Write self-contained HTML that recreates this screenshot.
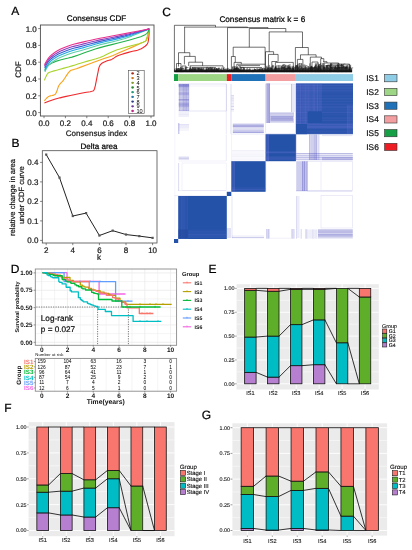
<!DOCTYPE html>
<html><head><meta charset="utf-8"><style>
html,body{margin:0;padding:0;background:#fff;width:412px;height:550px;overflow:hidden}
svg{display:block;font-family:"Liberation Sans",sans-serif;filter:blur(0.3px)}
</style></head><body>
<svg width="412" height="550" viewBox="0 0 412 550" text-rendering="geometricPrecision">
<rect width="412" height="550" fill="#fff"/>
<text x="11.3" y="15.4" font-size="12" text-anchor="start" fill="#000" font-weight="normal"  stroke="#000" stroke-width="0.22">A</text>
<text x="96.5" y="20.6" font-size="8.1" text-anchor="middle" fill="#000" font-weight="normal"  stroke="#000" stroke-width="0.22">Consensus CDF</text>
<rect x="40.4" y="25" width="113.6" height="91" fill="none" stroke="#4d4d4d" stroke-width="0.9" />
<line x1="38.2" y1="112.6" x2="40.4" y2="112.6" stroke="#4d4d4d" stroke-width="0.7" />
<text x="36.8" y="115.5" font-size="8" text-anchor="end" fill="#1a1a1a" font-weight="normal"  stroke="#1a1a1a" stroke-width="0.22">0.0</text>
<line x1="44" y1="116" x2="44" y2="118.2" stroke="#4d4d4d" stroke-width="0.7" />
<text x="44" y="126.1" font-size="8" text-anchor="middle" fill="#1a1a1a" font-weight="normal"  stroke="#1a1a1a" stroke-width="0.22">0.0</text>
<line x1="38.2" y1="95.8" x2="40.4" y2="95.8" stroke="#4d4d4d" stroke-width="0.7" />
<text x="36.8" y="98.7" font-size="8" text-anchor="end" fill="#1a1a1a" font-weight="normal"  stroke="#1a1a1a" stroke-width="0.22">0.2</text>
<line x1="65.4" y1="116" x2="65.4" y2="118.2" stroke="#4d4d4d" stroke-width="0.7" />
<text x="65.4" y="126.1" font-size="8" text-anchor="middle" fill="#1a1a1a" font-weight="normal"  stroke="#1a1a1a" stroke-width="0.22">0.2</text>
<line x1="38.2" y1="79" x2="40.4" y2="79" stroke="#4d4d4d" stroke-width="0.7" />
<text x="36.8" y="81.9" font-size="8" text-anchor="end" fill="#1a1a1a" font-weight="normal"  stroke="#1a1a1a" stroke-width="0.22">0.4</text>
<line x1="86.8" y1="116" x2="86.8" y2="118.2" stroke="#4d4d4d" stroke-width="0.7" />
<text x="86.8" y="126.1" font-size="8" text-anchor="middle" fill="#1a1a1a" font-weight="normal"  stroke="#1a1a1a" stroke-width="0.22">0.4</text>
<line x1="38.2" y1="62.2" x2="40.4" y2="62.2" stroke="#4d4d4d" stroke-width="0.7" />
<text x="36.8" y="65.1" font-size="8" text-anchor="end" fill="#1a1a1a" font-weight="normal"  stroke="#1a1a1a" stroke-width="0.22">0.6</text>
<line x1="108.2" y1="116" x2="108.2" y2="118.2" stroke="#4d4d4d" stroke-width="0.7" />
<text x="108.2" y="126.1" font-size="8" text-anchor="middle" fill="#1a1a1a" font-weight="normal"  stroke="#1a1a1a" stroke-width="0.22">0.6</text>
<line x1="38.2" y1="45.4" x2="40.4" y2="45.4" stroke="#4d4d4d" stroke-width="0.7" />
<text x="36.8" y="48.3" font-size="8" text-anchor="end" fill="#1a1a1a" font-weight="normal"  stroke="#1a1a1a" stroke-width="0.22">0.8</text>
<line x1="129.6" y1="116" x2="129.6" y2="118.2" stroke="#4d4d4d" stroke-width="0.7" />
<text x="129.6" y="126.1" font-size="8" text-anchor="middle" fill="#1a1a1a" font-weight="normal"  stroke="#1a1a1a" stroke-width="0.22">0.8</text>
<line x1="38.2" y1="28.6" x2="40.4" y2="28.6" stroke="#4d4d4d" stroke-width="0.7" />
<text x="36.8" y="31.5" font-size="8" text-anchor="end" fill="#1a1a1a" font-weight="normal"  stroke="#1a1a1a" stroke-width="0.22">1.0</text>
<line x1="151" y1="116" x2="151" y2="118.2" stroke="#4d4d4d" stroke-width="0.7" />
<text x="151" y="126.1" font-size="8" text-anchor="middle" fill="#1a1a1a" font-weight="normal"  stroke="#1a1a1a" stroke-width="0.22">1.0</text>
<text transform="translate(20.5,69.5) rotate(-90)" font-size="8" text-anchor="middle" fill="#1a1a1a" font-weight="normal" stroke="#1a1a1a" stroke-width="0.22">CDF</text>
<text x="96.5" y="135.5" font-size="8" text-anchor="middle" fill="#1a1a1a" font-weight="normal"  stroke="#1a1a1a" stroke-width="0.22">Consensus index</text>
<polyline points="44.4,103 46.2,102.32 48.77,101.33 51.71,100.26 54.6,99.3 57.26,98.54 59.94,97.84 62.85,97.16 66.2,96.4 70.38,95.5 75.17,94.51 79.85,93.57 83.7,92.8 86.49,92.31 88.61,92 90.28,91.72 91.7,91.3 92.78,90.95 93.47,90.67 93.99,90.01 94.6,88.5 95.33,85.7 96.07,81.98 96.8,78.03 97.5,74.6 98.08,71.77 98.58,69.18 99.18,66.91 100.1,65 101.48,63.55 103.19,62.5 104.97,61.7 106.6,61 107.96,60.49 109.2,60.19 110.44,59.91 111.8,59.4 113.18,58.59 114.55,57.6 116.17,56.54 118.3,55.5 121.26,54.46 124.82,53.38 128.42,52.35 131.5,51.5 133.84,50.94 135.78,50.59 137.52,50.22 139.3,49.6 141.26,48.66 143.26,47.51 145.08,46.26 146.5,45 147.39,43.85 147.9,42.74 148.21,41.43 148.5,39.7 148.8,37.13 149.03,33.97 149.18,30.97 149.3,28.9" fill="none" stroke="#f0282a" stroke-width="1.1" stroke-linejoin="round" />
<polyline points="44.4,100.8 45.12,99.96 46.14,98.74 47.36,97.45 48.7,96.4 50.26,95.85 52.04,95.57 53.81,95.16 55.3,94.2 56.39,92.4 57.24,90.03 58.01,87.57 58.9,85.5 59.89,84.07 60.92,82.98 62.03,81.88 63.3,80.4 64.77,78.23 66.41,75.64 68.12,73.13 69.8,71.2 71.04,70.25 72.03,69.92 73.55,69.6 76.4,68.7 81.35,66.86 87.8,64.48 94.45,62.03 100,60 104.09,58.57 107.41,57.46 110.28,56.49 113,55.5 115.25,54.59 117,53.79 119,52.85 122,51.5 126.8,49.44 132.8,46.88 138.65,44.34 143,42.3 145.28,41.13 146.28,40.48 146.69,39.82 147.2,38.6 147.92,36.37 148.51,33.52 148.97,30.78 149.3,28.9" fill="none" stroke="#f9a21b" stroke-width="1.1" stroke-linejoin="round" />
<polyline points="44.4,80.4 44.75,79.52 45.24,78.25 45.81,76.88 46.4,75.7 46.89,74.77 47.35,73.95 47.98,73.2 49,72.5 50.37,71.91 52,71.42 54.03,70.89 56.6,70.2 59.99,69.25 64.04,68.14 68.23,66.98 72,65.9 75.08,64.96 77.79,64.08 80.54,63.19 83.7,62.2 87.53,61.1 91.77,59.94 96.05,58.7 100,57.4 103.57,55.94 106.94,54.36 110.09,52.82 113,51.5 115.31,50.55 117.16,49.85 119.25,49.15 122.3,48.2 127.12,46.86 133.12,45.29 138.94,43.7 143.2,42.3 145.27,41.32 145.98,40.57 146.12,39.72 146.5,38.4 147.3,36.2 148.11,33.41 148.81,30.74 149.3,28.9" fill="none" stroke="#a9d42c" stroke-width="1.1" stroke-linejoin="round" />
<polyline points="45.2,71.5 45.2,70.63 45.16,69.39 45.44,67.98 46.4,66.6 48.2,65.23 50.61,63.79 53.47,62.38 56.6,61.1 60.17,59.99 64.21,59.01 68.29,58.06 72,57.1 75.08,56.14 77.79,55.19 80.54,54.21 83.7,53.1 87.27,51.84 91.08,50.48 95.28,49.05 100,47.6 105.54,46.12 111.73,44.61 118.06,43.06 124,41.5 129.76,39.92 135.51,38.31 140.65,36.69 144.6,35.1 147,33.39 148.24,31.6 148.83,30.01 149.3,28.9" fill="none" stroke="#22b24c" stroke-width="1.1" stroke-linejoin="round" />
<polyline points="44.9,71.5 45.62,70.2 46.64,68.33 47.89,66.29 49.3,64.5 50.92,63.03 52.77,61.67 54.71,60.42 56.6,59.3 58.38,58.33 60.14,57.51 61.93,56.76 63.8,56 65.7,55.23 67.62,54.49 69.68,53.76 72,53 74.57,52.26 77.34,51.52 80.37,50.73 83.7,49.8 87.25,48.71 91.02,47.49 95.21,46.18 100,44.8 105.65,43.39 112,41.94 118.6,40.34 125,38.5 131.69,36.11 138.71,33.31 144.95,30.7 149.3,28.9" fill="none" stroke="#5cd0a8" stroke-width="1.1" stroke-linejoin="round" />
<polyline points="44.8,70.5 45.54,69 46.59,66.84 47.87,64.51 49.3,62.5 50.93,60.9 52.78,59.46 54.72,58.16 56.6,57 58.38,56.01 60.14,55.19 61.93,54.45 63.8,53.7 65.7,52.95 67.62,52.24 69.68,51.54 72,50.8 74.57,50.06 77.34,49.31 80.37,48.51 83.7,47.6 87.25,46.56 91.02,45.42 95.21,44.19 100,42.9 105.65,41.56 112,40.16 118.6,38.66 125,37 131.69,34.94 138.71,32.58 144.95,30.41 149.3,28.9" fill="none" stroke="#22a8e6" stroke-width="1.1" stroke-linejoin="round" />
<polyline points="44.6,67.8 45.38,66.44 46.49,64.49 47.83,62.36 49.3,60.5 50.94,58.97 52.79,57.56 54.72,56.26 56.6,55.1 58.38,54.1 60.14,53.24 61.93,52.47 63.8,51.7 65.7,50.94 67.62,50.23 69.68,49.52 72,48.8 74.57,48.09 77.34,47.39 80.37,46.65 83.7,45.8 87.25,44.82 91.02,43.76 95.21,42.61 100,41.4 105.65,40.14 112,38.81 118.6,37.41 125,35.9 131.69,34.09 138.71,32.06 144.95,30.19 149.3,28.9" fill="none" stroke="#3a5fd0" stroke-width="1.1" stroke-linejoin="round" />
<polyline points="44.5,66.2 45.3,64.83 46.44,62.85 47.81,60.7 49.3,58.8 50.95,57.22 52.8,55.76 54.72,54.41 56.6,53.2 58.38,52.16 60.14,51.28 61.93,50.48 63.8,49.7 65.7,48.93 67.62,48.21 69.68,47.51 72,46.8 74.57,46.1 77.34,45.42 80.37,44.7 83.7,43.9 87.25,43 91.02,42.04 95.21,41 100,39.9 105.65,38.72 112,37.47 118.6,36.16 125,34.8 131.69,33.24 138.71,31.53 144.95,29.98 149.3,28.9" fill="none" stroke="#8b3fbf" stroke-width="1.1" stroke-linejoin="round" />
<polyline points="44.5,64.8 45.3,63.37 46.44,61.31 47.81,59.07 49.3,57.1 50.95,55.46 52.8,53.94 54.72,52.55 56.6,51.3 58.38,50.23 60.14,49.32 61.93,48.51 63.8,47.7 65.7,46.9 67.62,46.15 69.68,45.42 72,44.7 74.57,44 77.34,43.34 80.37,42.65 83.7,41.9 87.25,41.08 91.02,40.22 95.21,39.3 100,38.3 105.65,37.2 112,36.02 118.6,34.8 125,33.6 131.69,32.31 138.71,30.96 144.95,29.74 149.3,28.9" fill="none" stroke="#e8308e" stroke-width="1.1" stroke-linejoin="round" />
<rect x="128.3" y="70.5" width="15.9" height="43.1" fill="#fff" stroke="#4d4d4d" stroke-width="0.6" />
<ellipse cx="132.6" cy="73.4" rx="1.4" ry="1.15" fill="#a52a1a"/>
<text x="136.4" y="75.4" font-size="5.6" text-anchor="start" fill="#000" font-weight="normal" text-rendering="optimizeSpeed">2</text>
<ellipse cx="132.6" cy="78.1" rx="1.4" ry="1.15" fill="#c8781a"/>
<text x="136.4" y="80.1" font-size="5.6" text-anchor="start" fill="#000" font-weight="normal" text-rendering="optimizeSpeed">3</text>
<ellipse cx="132.6" cy="82.8" rx="1.4" ry="1.15" fill="#7f9a28"/>
<text x="136.4" y="84.8" font-size="5.6" text-anchor="start" fill="#000" font-weight="normal" text-rendering="optimizeSpeed">4</text>
<ellipse cx="132.6" cy="87.5" rx="1.4" ry="1.15" fill="#2a8a38"/>
<text x="136.4" y="89.5" font-size="5.6" text-anchor="start" fill="#000" font-weight="normal" text-rendering="optimizeSpeed">5</text>
<ellipse cx="132.6" cy="92.2" rx="1.4" ry="1.15" fill="#2a9a7a"/>
<text x="136.4" y="94.2" font-size="5.6" text-anchor="start" fill="#000" font-weight="normal" text-rendering="optimizeSpeed">6</text>
<ellipse cx="132.6" cy="96.9" rx="1.4" ry="1.15" fill="#2a78a8"/>
<text x="136.4" y="98.9" font-size="5.6" text-anchor="start" fill="#000" font-weight="normal" text-rendering="optimizeSpeed">7</text>
<ellipse cx="132.6" cy="101.6" rx="1.4" ry="1.15" fill="#283c88"/>
<text x="136.4" y="103.6" font-size="5.6" text-anchor="start" fill="#000" font-weight="normal" text-rendering="optimizeSpeed">8</text>
<ellipse cx="132.6" cy="106.3" rx="1.4" ry="1.15" fill="#6a3a98"/>
<text x="136.4" y="108.3" font-size="5.6" text-anchor="start" fill="#000" font-weight="normal" text-rendering="optimizeSpeed">9</text>
<ellipse cx="132.6" cy="111" rx="1.4" ry="1.15" fill="#c02888"/>
<text x="136.4" y="113" font-size="5.6" text-anchor="start" fill="#000" font-weight="normal" text-rendering="optimizeSpeed">10</text>
<text x="11.6" y="147.2" font-size="12" text-anchor="start" fill="#000" font-weight="normal"  stroke="#000" stroke-width="0.22">B</text>
<text x="99" y="148.9" font-size="8" text-anchor="middle" fill="#000" font-weight="normal"  stroke="#000" stroke-width="0.22">Delta area</text>
<rect x="42.3" y="150.7" width="114.7" height="92.3" fill="none" stroke="#4d4d4d" stroke-width="0.8" />
<line x1="40.1" y1="240.4" x2="42.3" y2="240.4" stroke="#4d4d4d" stroke-width="0.7" />
<text x="38.4" y="243.3" font-size="8" text-anchor="end" fill="#1a1a1a" font-weight="normal"  stroke="#1a1a1a" stroke-width="0.22">0.0</text>
<line x1="40.1" y1="220.9" x2="42.3" y2="220.9" stroke="#4d4d4d" stroke-width="0.7" />
<text x="38.4" y="223.8" font-size="8" text-anchor="end" fill="#1a1a1a" font-weight="normal"  stroke="#1a1a1a" stroke-width="0.22">0.1</text>
<line x1="40.1" y1="201.4" x2="42.3" y2="201.4" stroke="#4d4d4d" stroke-width="0.7" />
<text x="38.4" y="204.3" font-size="8" text-anchor="end" fill="#1a1a1a" font-weight="normal"  stroke="#1a1a1a" stroke-width="0.22">0.2</text>
<line x1="40.1" y1="181.9" x2="42.3" y2="181.9" stroke="#4d4d4d" stroke-width="0.7" />
<text x="38.4" y="184.8" font-size="8" text-anchor="end" fill="#1a1a1a" font-weight="normal"  stroke="#1a1a1a" stroke-width="0.22">0.3</text>
<line x1="40.1" y1="162.4" x2="42.3" y2="162.4" stroke="#4d4d4d" stroke-width="0.7" />
<text x="38.4" y="165.3" font-size="8" text-anchor="end" fill="#1a1a1a" font-weight="normal"  stroke="#1a1a1a" stroke-width="0.22">0.4</text>
<line x1="46.2" y1="243" x2="46.2" y2="245.2" stroke="#4d4d4d" stroke-width="0.7" />
<text x="46.2" y="252.6" font-size="8" text-anchor="middle" fill="#1a1a1a" font-weight="normal"  stroke="#1a1a1a" stroke-width="0.22">2</text>
<line x1="72.8" y1="243" x2="72.8" y2="245.2" stroke="#4d4d4d" stroke-width="0.7" />
<text x="72.8" y="252.6" font-size="8" text-anchor="middle" fill="#1a1a1a" font-weight="normal"  stroke="#1a1a1a" stroke-width="0.22">4</text>
<line x1="99.4" y1="243" x2="99.4" y2="245.2" stroke="#4d4d4d" stroke-width="0.7" />
<text x="99.4" y="252.6" font-size="8" text-anchor="middle" fill="#1a1a1a" font-weight="normal"  stroke="#1a1a1a" stroke-width="0.22">6</text>
<line x1="126" y1="243" x2="126" y2="245.2" stroke="#4d4d4d" stroke-width="0.7" />
<text x="126" y="252.6" font-size="8" text-anchor="middle" fill="#1a1a1a" font-weight="normal"  stroke="#1a1a1a" stroke-width="0.22">8</text>
<line x1="152.6" y1="243" x2="152.6" y2="245.2" stroke="#4d4d4d" stroke-width="0.7" />
<text x="152.6" y="252.6" font-size="8" text-anchor="middle" fill="#1a1a1a" font-weight="normal"  stroke="#1a1a1a" stroke-width="0.22">10</text>
<polyline points="46.2,154.6 59.5,177.61 72.8,216.03 86.1,213.1 99.4,235.53 112.7,230.65 126,234.55 139.3,236.11 152.6,237.87" fill="none" stroke="#222" stroke-width="1" stroke-linejoin="round" />
<rect x="45.1" y="153.5" width="2.2" height="2.2" fill="#555"/>
<rect x="58.4" y="176.51" width="2.2" height="2.2" fill="#555"/>
<rect x="71.7" y="214.93" width="2.2" height="2.2" fill="#555"/>
<rect x="85" y="212" width="2.2" height="2.2" fill="#555"/>
<rect x="98.3" y="234.43" width="2.2" height="2.2" fill="#555"/>
<rect x="111.6" y="229.55" width="2.2" height="2.2" fill="#555"/>
<rect x="124.9" y="233.45" width="2.2" height="2.2" fill="#555"/>
<rect x="138.2" y="235.01" width="2.2" height="2.2" fill="#555"/>
<rect x="151.5" y="236.77" width="2.2" height="2.2" fill="#555"/>
<text transform="translate(15.2,197.5) rotate(-90)" font-size="7.6" text-anchor="middle" fill="#1a1a1a" font-weight="normal" stroke="#1a1a1a" stroke-width="0.22">relative change in area</text>
<text transform="translate(23.6,195.2) rotate(-90)" font-size="7.6" text-anchor="middle" fill="#1a1a1a" font-weight="normal" stroke="#1a1a1a" stroke-width="0.22">under CDF curve</text>
<text x="99" y="260" font-size="8" text-anchor="middle" fill="#1a1a1a" font-weight="normal"  stroke="#1a1a1a" stroke-width="0.22">k</text>
<text x="162.3" y="15.5" font-size="12" text-anchor="start" fill="#000" font-weight="normal"  stroke="#000" stroke-width="0.22">C</text>
<text x="262.3" y="21.8" font-size="8.2" text-anchor="middle" fill="#000" font-weight="normal"  stroke="#000" stroke-width="0.22">Consensus matrix k = 6</text>
<rect x="174" y="239" width="4.2" height="4" fill="#2452a8" stroke="none" stroke-width="0.5" />
<rect x="178.2" y="196" width="48.6" height="43" fill="#2452a8" stroke="none" stroke-width="0.5" />
<rect x="226.8" y="191.8" width="4.5" height="4.2" fill="#2452a8" stroke="none" stroke-width="0.5" />
<rect x="231.3" y="161.2" width="34.3" height="30.6" fill="#2452a8" stroke="none" stroke-width="0.5" />
<rect x="265.6" y="134.2" width="30.3" height="27" fill="#2452a8" stroke="none" stroke-width="0.5" />
<rect x="295.9" y="83.4" width="57.1" height="50.8" fill="#2452a8" stroke="none" stroke-width="0.5" />
<rect x="178.2" y="196" width="1.07" height="43" fill="#7c7ce0" stroke="none" stroke-width="0.5" fill-opacity="0.11"/>
<rect x="179.63" y="196" width="1.07" height="43" fill="#7c7ce0" stroke="none" stroke-width="0.5" fill-opacity="0.13"/>
<rect x="181.06" y="196" width="1.07" height="43" fill="#7c7ce0" stroke="none" stroke-width="0.5" fill-opacity="0.2"/>
<rect x="182.49" y="196" width="1.07" height="43" fill="#7c7ce0" stroke="none" stroke-width="0.5" fill-opacity="0.26"/>
<rect x="183.91" y="196" width="1.07" height="43" fill="#7c7ce0" stroke="none" stroke-width="0.5" fill-opacity="0.14"/>
<rect x="185.34" y="196" width="1.07" height="43" fill="#7c7ce0" stroke="none" stroke-width="0.5" fill-opacity="0.13"/>
<rect x="186.77" y="196" width="1.07" height="43" fill="#7c7ce0" stroke="none" stroke-width="0.5" fill-opacity="0.16"/>
<rect x="188.2" y="229.5" width="38.6" height="1.06" fill="#7c7ce0" stroke="none" stroke-width="0.5" fill-opacity="0.1"/>
<rect x="188.2" y="230.92" width="38.6" height="1.06" fill="#7c7ce0" stroke="none" stroke-width="0.5" fill-opacity="0.13"/>
<rect x="188.2" y="232.33" width="38.6" height="1.06" fill="#7c7ce0" stroke="none" stroke-width="0.5" fill-opacity="0.14"/>
<rect x="188.2" y="233.75" width="38.6" height="1.06" fill="#7c7ce0" stroke="none" stroke-width="0.5" fill-opacity="0.25"/>
<rect x="188.2" y="235.17" width="38.6" height="1.06" fill="#7c7ce0" stroke="none" stroke-width="0.5" fill-opacity="0.18"/>
<rect x="188.2" y="236.58" width="38.6" height="1.06" fill="#7c7ce0" stroke="none" stroke-width="0.5" fill-opacity="0.22"/>
<rect x="178.2" y="229.5" width="10" height="8.5" fill="#1d3f95" stroke="none" stroke-width="0.5" fill-opacity="0.4"/>
<rect x="231.3" y="161.2" width="0.92" height="30.6" fill="#7c7ce0" stroke="none" stroke-width="0.5" fill-opacity="0.32"/>
<rect x="232.53" y="161.2" width="0.92" height="30.6" fill="#7c7ce0" stroke="none" stroke-width="0.5" fill-opacity="0.34"/>
<rect x="233.77" y="161.2" width="0.92" height="30.6" fill="#7c7ce0" stroke="none" stroke-width="0.5" fill-opacity="0.4"/>
<rect x="231.3" y="187.5" width="34.3" height="1.12" fill="#7c7ce0" stroke="none" stroke-width="0.5" fill-opacity="0.16"/>
<rect x="231.3" y="189" width="34.3" height="1.12" fill="#7c7ce0" stroke="none" stroke-width="0.5" fill-opacity="0.23"/>
<rect x="265.6" y="134.2" width="0.85" height="27" fill="#7c7ce0" stroke="none" stroke-width="0.5" fill-opacity="0.36"/>
<rect x="266.73" y="134.2" width="0.85" height="27" fill="#7c7ce0" stroke="none" stroke-width="0.5" fill-opacity="0.38"/>
<rect x="267.87" y="134.2" width="0.85" height="27" fill="#7c7ce0" stroke="none" stroke-width="0.5" fill-opacity="0.47"/>
<rect x="265.6" y="151.6" width="30.3" height="0.68" fill="#7c7ce0" stroke="none" stroke-width="0.5" fill-opacity="0.42"/>
<rect x="265.6" y="152.5" width="30.3" height="0.68" fill="#7c7ce0" stroke="none" stroke-width="0.5" fill-opacity="0.41"/>
<rect x="265.6" y="156.5" width="30.3" height="0.88" fill="#7c7ce0" stroke="none" stroke-width="0.5" fill-opacity="0.22"/>
<rect x="265.6" y="157.67" width="30.3" height="0.88" fill="#7c7ce0" stroke="none" stroke-width="0.5" fill-opacity="0.36"/>
<rect x="265.6" y="158.83" width="30.3" height="0.88" fill="#7c7ce0" stroke="none" stroke-width="0.5" fill-opacity="0.23"/>
<rect x="296" y="83.4" width="0.98" height="40.6" fill="#7c7ce0" stroke="none" stroke-width="0.5" fill-opacity="0.29"/>
<rect x="297.3" y="83.4" width="0.98" height="40.6" fill="#7c7ce0" stroke="none" stroke-width="0.5" fill-opacity="0.35"/>
<rect x="298.6" y="83.4" width="0.98" height="40.6" fill="#7c7ce0" stroke="none" stroke-width="0.5" fill-opacity="0.35"/>
<rect x="299.9" y="83.4" width="0.98" height="40.6" fill="#7c7ce0" stroke="none" stroke-width="0.5" fill-opacity="0.38"/>
<rect x="301.2" y="83.4" width="0.98" height="40.6" fill="#7c7ce0" stroke="none" stroke-width="0.5" fill-opacity="0.22"/>
<rect x="302.5" y="83.4" width="0.98" height="40.6" fill="#7c7ce0" stroke="none" stroke-width="0.5" fill-opacity="0.41"/>
<rect x="303.8" y="83.4" width="0.98" height="40.6" fill="#7c7ce0" stroke="none" stroke-width="0.5" fill-opacity="0.3"/>
<rect x="305.1" y="83.4" width="0.98" height="40.6" fill="#7c7ce0" stroke="none" stroke-width="0.5" fill-opacity="0.35"/>
<rect x="306.4" y="83.4" width="0.98" height="40.6" fill="#7c7ce0" stroke="none" stroke-width="0.5" fill-opacity="0.35"/>
<rect x="307.7" y="83.4" width="0.98" height="40.6" fill="#7c7ce0" stroke="none" stroke-width="0.5" fill-opacity="0.4"/>
<rect x="309" y="83.4" width="0.98" height="40.6" fill="#7c7ce0" stroke="none" stroke-width="0.5" fill-opacity="0.22"/>
<rect x="310.3" y="83.4" width="0.98" height="40.6" fill="#7c7ce0" stroke="none" stroke-width="0.5" fill-opacity="0.24"/>
<rect x="311.6" y="83.4" width="0.98" height="40.6" fill="#7c7ce0" stroke="none" stroke-width="0.5" fill-opacity="0.34"/>
<rect x="312.9" y="83.4" width="0.98" height="40.6" fill="#7c7ce0" stroke="none" stroke-width="0.5" fill-opacity="0.3"/>
<rect x="314.2" y="83.4" width="0.98" height="40.6" fill="#7c7ce0" stroke="none" stroke-width="0.5" fill-opacity="0.35"/>
<rect x="315.5" y="83.4" width="0.98" height="40.6" fill="#7c7ce0" stroke="none" stroke-width="0.5" fill-opacity="0.24"/>
<rect x="316.8" y="83.4" width="0.98" height="40.6" fill="#7c7ce0" stroke="none" stroke-width="0.5" fill-opacity="0.41"/>
<rect x="318.1" y="83.4" width="0.98" height="40.6" fill="#7c7ce0" stroke="none" stroke-width="0.5" fill-opacity="0.14"/>
<rect x="319.4" y="83.4" width="0.98" height="40.6" fill="#7c7ce0" stroke="none" stroke-width="0.5" fill-opacity="0.34"/>
<rect x="320.7" y="83.4" width="0.98" height="40.6" fill="#7c7ce0" stroke="none" stroke-width="0.5" fill-opacity="0.24"/>
<rect x="296" y="83.4" width="57" height="1.19" fill="#7c7ce0" stroke="none" stroke-width="0.5" fill-opacity="0.13"/>
<rect x="296" y="84.99" width="57" height="1.19" fill="#7c7ce0" stroke="none" stroke-width="0.5" fill-opacity="0.24"/>
<rect x="296" y="86.58" width="57" height="1.19" fill="#7c7ce0" stroke="none" stroke-width="0.5" fill-opacity="0.23"/>
<rect x="296" y="88.16" width="57" height="1.19" fill="#7c7ce0" stroke="none" stroke-width="0.5" fill-opacity="0.23"/>
<rect x="296" y="89.75" width="57" height="1.19" fill="#7c7ce0" stroke="none" stroke-width="0.5" fill-opacity="0.21"/>
<rect x="296" y="91.34" width="57" height="1.19" fill="#7c7ce0" stroke="none" stroke-width="0.5" fill-opacity="0.22"/>
<rect x="296" y="92.92" width="57" height="1.19" fill="#7c7ce0" stroke="none" stroke-width="0.5" fill-opacity="0.08"/>
<rect x="296" y="94.51" width="57" height="1.19" fill="#7c7ce0" stroke="none" stroke-width="0.5" fill-opacity="0.18"/>
<rect x="296" y="96.1" width="57" height="1.19" fill="#7c7ce0" stroke="none" stroke-width="0.5" fill-opacity="0.12"/>
<rect x="296" y="97.69" width="57" height="1.19" fill="#7c7ce0" stroke="none" stroke-width="0.5" fill-opacity="0.2"/>
<rect x="296" y="99.28" width="57" height="1.19" fill="#7c7ce0" stroke="none" stroke-width="0.5" fill-opacity="0.15"/>
<rect x="296" y="100.86" width="57" height="1.19" fill="#7c7ce0" stroke="none" stroke-width="0.5" fill-opacity="0.17"/>
<rect x="296" y="102.45" width="57" height="1.19" fill="#7c7ce0" stroke="none" stroke-width="0.5" fill-opacity="0.17"/>
<rect x="296" y="104.04" width="57" height="1.19" fill="#7c7ce0" stroke="none" stroke-width="0.5" fill-opacity="0.17"/>
<rect x="296" y="105.62" width="57" height="1.19" fill="#7c7ce0" stroke="none" stroke-width="0.5" fill-opacity="0.21"/>
<rect x="296" y="107.21" width="57" height="1.19" fill="#7c7ce0" stroke="none" stroke-width="0.5" fill-opacity="0.24"/>
<rect x="296" y="108.8" width="57" height="1.19" fill="#7c7ce0" stroke="none" stroke-width="0.5" fill-opacity="0.14"/>
<rect x="296" y="110.39" width="57" height="1.19" fill="#7c7ce0" stroke="none" stroke-width="0.5" fill-opacity="0.21"/>
<rect x="296" y="111.97" width="57" height="1.19" fill="#7c7ce0" stroke="none" stroke-width="0.5" fill-opacity="0.22"/>
<rect x="296" y="113.56" width="57" height="1.19" fill="#7c7ce0" stroke="none" stroke-width="0.5" fill-opacity="0.14"/>
<rect x="296" y="115.15" width="57" height="1.19" fill="#7c7ce0" stroke="none" stroke-width="0.5" fill-opacity="0.1"/>
<rect x="296" y="116.74" width="57" height="1.19" fill="#7c7ce0" stroke="none" stroke-width="0.5" fill-opacity="0.16"/>
<rect x="296" y="118.32" width="57" height="1.19" fill="#7c7ce0" stroke="none" stroke-width="0.5" fill-opacity="0.2"/>
<rect x="296" y="119.91" width="57" height="1.19" fill="#7c7ce0" stroke="none" stroke-width="0.5" fill-opacity="0.16"/>
<rect x="296" y="121.5" width="57" height="1.19" fill="#7c7ce0" stroke="none" stroke-width="0.5" fill-opacity="0.11"/>
<rect x="296" y="123.09" width="57" height="1.19" fill="#7c7ce0" stroke="none" stroke-width="0.5" fill-opacity="0.19"/>
<rect x="296" y="124.67" width="57" height="1.19" fill="#7c7ce0" stroke="none" stroke-width="0.5" fill-opacity="0.13"/>
<rect x="296" y="126.26" width="57" height="1.19" fill="#7c7ce0" stroke="none" stroke-width="0.5" fill-opacity="0.22"/>
<rect x="296" y="127.85" width="57" height="1.19" fill="#7c7ce0" stroke="none" stroke-width="0.5" fill-opacity="0.11"/>
<rect x="296" y="129.44" width="57" height="1.19" fill="#7c7ce0" stroke="none" stroke-width="0.5" fill-opacity="0.18"/>
<rect x="296" y="131.02" width="57" height="1.19" fill="#7c7ce0" stroke="none" stroke-width="0.5" fill-opacity="0.14"/>
<rect x="296" y="132.61" width="57" height="1.19" fill="#7c7ce0" stroke="none" stroke-width="0.5" fill-opacity="0.24"/>
<rect x="307" y="124" width="46" height="0.84" fill="#7c7ce0" stroke="none" stroke-width="0.5" fill-opacity="0.35"/>
<rect x="307" y="125.12" width="46" height="0.84" fill="#7c7ce0" stroke="none" stroke-width="0.5" fill-opacity="0.18"/>
<rect x="307" y="126.25" width="46" height="0.84" fill="#7c7ce0" stroke="none" stroke-width="0.5" fill-opacity="0.34"/>
<rect x="307" y="127.38" width="46" height="0.84" fill="#7c7ce0" stroke="none" stroke-width="0.5" fill-opacity="0.4"/>
<rect x="347" y="105" width="0.9" height="29" fill="#7c7ce0" stroke="none" stroke-width="0.5" fill-opacity="0.23"/>
<rect x="348.2" y="105" width="0.9" height="29" fill="#7c7ce0" stroke="none" stroke-width="0.5" fill-opacity="0.19"/>
<rect x="349.4" y="105" width="0.9" height="29" fill="#7c7ce0" stroke="none" stroke-width="0.5" fill-opacity="0.24"/>
<rect x="350.6" y="105" width="0.9" height="29" fill="#7c7ce0" stroke="none" stroke-width="0.5" fill-opacity="0.11"/>
<rect x="351.8" y="105" width="0.9" height="29" fill="#7c7ce0" stroke="none" stroke-width="0.5" fill-opacity="0.24"/>
<rect x="307.6" y="111.3" width="14.4" height="12" fill="#2452a8" stroke="none" stroke-width="0.5" />
<rect x="296" y="124" width="11" height="10.2" fill="#2452a8" stroke="none" stroke-width="0.5" fill-opacity="0.8"/>
<rect x="178.6" y="83.6" width="10.4" height="0.89" fill="#3a3ab8" stroke="none" stroke-width="0.5" fill-opacity="0.32"/>
<rect x="178.6" y="84.79" width="10.4" height="0.89" fill="#3a3ab8" stroke="none" stroke-width="0.5" fill-opacity="0.36"/>
<rect x="178.6" y="85.98" width="10.4" height="0.89" fill="#3a3ab8" stroke="none" stroke-width="0.5" fill-opacity="0.48"/>
<rect x="178.6" y="87.17" width="10.4" height="0.89" fill="#3a3ab8" stroke="none" stroke-width="0.5" fill-opacity="0.33"/>
<rect x="178.6" y="88.37" width="10.4" height="0.89" fill="#3a3ab8" stroke="none" stroke-width="0.5" fill-opacity="0.34"/>
<rect x="178.6" y="89.56" width="10.4" height="0.89" fill="#3a3ab8" stroke="none" stroke-width="0.5" fill-opacity="0.37"/>
<rect x="178.6" y="90.75" width="10.4" height="0.89" fill="#3a3ab8" stroke="none" stroke-width="0.5" fill-opacity="0.23"/>
<rect x="178.6" y="91.94" width="10.4" height="0.89" fill="#3a3ab8" stroke="none" stroke-width="0.5" fill-opacity="0.34"/>
<rect x="178.6" y="93.13" width="10.4" height="0.89" fill="#3a3ab8" stroke="none" stroke-width="0.5" fill-opacity="0.38"/>
<rect x="178.6" y="94.32" width="10.4" height="0.89" fill="#3a3ab8" stroke="none" stroke-width="0.5" fill-opacity="0.44"/>
<rect x="178.6" y="95.51" width="10.4" height="0.89" fill="#3a3ab8" stroke="none" stroke-width="0.5" fill-opacity="0.2"/>
<rect x="178.6" y="96.7" width="10.4" height="0.89" fill="#3a3ab8" stroke="none" stroke-width="0.5" fill-opacity="0.27"/>
<rect x="178.6" y="97.9" width="10.4" height="0.89" fill="#3a3ab8" stroke="none" stroke-width="0.5" fill-opacity="0.2"/>
<rect x="178.6" y="99.09" width="10.4" height="0.89" fill="#3a3ab8" stroke="none" stroke-width="0.5" fill-opacity="0.45"/>
<rect x="178.6" y="100.28" width="10.4" height="0.89" fill="#3a3ab8" stroke="none" stroke-width="0.5" fill-opacity="0.41"/>
<rect x="178.6" y="101.47" width="10.4" height="0.89" fill="#3a3ab8" stroke="none" stroke-width="0.5" fill-opacity="0.18"/>
<rect x="178.6" y="102.66" width="10.4" height="0.89" fill="#3a3ab8" stroke="none" stroke-width="0.5" fill-opacity="0.5"/>
<rect x="178.6" y="103.85" width="10.4" height="0.89" fill="#3a3ab8" stroke="none" stroke-width="0.5" fill-opacity="0.5"/>
<rect x="178.6" y="105.04" width="10.4" height="0.89" fill="#3a3ab8" stroke="none" stroke-width="0.5" fill-opacity="0.39"/>
<rect x="178.6" y="106.23" width="10.4" height="0.89" fill="#3a3ab8" stroke="none" stroke-width="0.5" fill-opacity="0.38"/>
<rect x="178.6" y="107.43" width="10.4" height="0.89" fill="#3a3ab8" stroke="none" stroke-width="0.5" fill-opacity="0.22"/>
<rect x="178.6" y="108.62" width="10.4" height="0.89" fill="#3a3ab8" stroke="none" stroke-width="0.5" fill-opacity="0.18"/>
<rect x="178.6" y="109.81" width="10.4" height="0.89" fill="#3a3ab8" stroke="none" stroke-width="0.5" fill-opacity="0.35"/>
<rect x="179" y="84" width="1.07" height="27" fill="#3a3ab8" stroke="none" stroke-width="0.5" fill-opacity="0.22"/>
<rect x="180.43" y="84" width="1.07" height="27" fill="#3a3ab8" stroke="none" stroke-width="0.5" fill-opacity="0.18"/>
<rect x="181.86" y="84" width="1.07" height="27" fill="#3a3ab8" stroke="none" stroke-width="0.5" fill-opacity="0.17"/>
<rect x="183.29" y="84" width="1.07" height="27" fill="#3a3ab8" stroke="none" stroke-width="0.5" fill-opacity="0.35"/>
<rect x="184.71" y="84" width="1.07" height="27" fill="#3a3ab8" stroke="none" stroke-width="0.5" fill-opacity="0.27"/>
<rect x="186.14" y="84" width="1.07" height="27" fill="#3a3ab8" stroke="none" stroke-width="0.5" fill-opacity="0.3"/>
<rect x="187.57" y="84" width="1.07" height="27" fill="#3a3ab8" stroke="none" stroke-width="0.5" fill-opacity="0.26"/>
<rect x="189" y="84" width="37.5" height="27" fill="none" stroke="#3a3ab8" stroke-width="0.5" stroke-opacity="0.25"/>
<line x1="189" y1="86" x2="226" y2="86" stroke="#3a3ab8" stroke-width="0.5" stroke-opacity="0.12"/>
<rect x="178.6" y="111" width="10.4" height="1.12" fill="#3a3ab8" stroke="none" stroke-width="0.5" fill-opacity="0.09"/>
<rect x="178.6" y="112.5" width="10.4" height="1.12" fill="#3a3ab8" stroke="none" stroke-width="0.5" fill-opacity="0.12"/>
<rect x="178.6" y="114" width="10.4" height="1.12" fill="#3a3ab8" stroke="none" stroke-width="0.5" fill-opacity="0.11"/>
<rect x="178.6" y="115.5" width="10.4" height="1.12" fill="#3a3ab8" stroke="none" stroke-width="0.5" fill-opacity="0.13"/>
<rect x="178.6" y="84" width="10.4" height="2.2" fill="#3a3ab8" stroke="none" stroke-width="0.5" fill-opacity="0.35"/>
<rect x="178.6" y="124" width="10.4" height="1.05" fill="#3a3ab8" stroke="none" stroke-width="0.5" fill-opacity="0.14"/>
<rect x="178.6" y="125.4" width="10.4" height="1.05" fill="#3a3ab8" stroke="none" stroke-width="0.5" fill-opacity="0.16"/>
<rect x="178.6" y="126.8" width="10.4" height="1.05" fill="#3a3ab8" stroke="none" stroke-width="0.5" fill-opacity="0.11"/>
<rect x="178.6" y="128.2" width="10.4" height="1.05" fill="#3a3ab8" stroke="none" stroke-width="0.5" fill-opacity="0.08"/>
<rect x="178.6" y="129.6" width="10.4" height="1.05" fill="#3a3ab8" stroke="none" stroke-width="0.5" fill-opacity="0.08"/>
<line x1="178.8" y1="123" x2="178.8" y2="134" stroke="#3a3ab8" stroke-width="0.7" stroke-opacity="0.55"/>
<line x1="226.3" y1="84" x2="226.3" y2="134" stroke="#3a3ab8" stroke-width="0.5" stroke-opacity="0.2"/>
<rect x="232.8" y="123.7" width="31" height="0.91" fill="#3a3ab8" stroke="none" stroke-width="0.5" fill-opacity="0.41"/>
<rect x="232.8" y="124.91" width="31" height="0.91" fill="#3a3ab8" stroke="none" stroke-width="0.5" fill-opacity="0.49"/>
<rect x="232.8" y="126.12" width="31" height="0.91" fill="#3a3ab8" stroke="none" stroke-width="0.5" fill-opacity="0.49"/>
<rect x="232.8" y="127.34" width="31" height="0.91" fill="#3a3ab8" stroke="none" stroke-width="0.5" fill-opacity="0.27"/>
<rect x="232.8" y="128.55" width="31" height="0.91" fill="#3a3ab8" stroke="none" stroke-width="0.5" fill-opacity="0.21"/>
<rect x="232.8" y="129.76" width="31" height="0.91" fill="#3a3ab8" stroke="none" stroke-width="0.5" fill-opacity="0.37"/>
<rect x="232.8" y="130.97" width="31" height="0.91" fill="#3a3ab8" stroke="none" stroke-width="0.5" fill-opacity="0.33"/>
<rect x="232.8" y="132.19" width="31" height="0.91" fill="#3a3ab8" stroke="none" stroke-width="0.5" fill-opacity="0.55"/>
<line x1="231" y1="84" x2="231" y2="134" stroke="#3a3ab8" stroke-width="0.5" stroke-opacity="0.35"/>
<rect x="231.3" y="95" width="2.7" height="1.16" fill="#3a3ab8" stroke="none" stroke-width="0.5" fill-opacity="0.18"/>
<rect x="231.3" y="96.55" width="2.7" height="1.16" fill="#3a3ab8" stroke="none" stroke-width="0.5" fill-opacity="0.17"/>
<rect x="231.3" y="98.09" width="2.7" height="1.16" fill="#3a3ab8" stroke="none" stroke-width="0.5" fill-opacity="0.16"/>
<rect x="231.3" y="99.64" width="2.7" height="1.16" fill="#3a3ab8" stroke="none" stroke-width="0.5" fill-opacity="0.17"/>
<rect x="231.3" y="101.18" width="2.7" height="1.16" fill="#3a3ab8" stroke="none" stroke-width="0.5" fill-opacity="0.1"/>
<rect x="231.3" y="102.73" width="2.7" height="1.16" fill="#3a3ab8" stroke="none" stroke-width="0.5" fill-opacity="0.14"/>
<rect x="231.3" y="104.27" width="2.7" height="1.16" fill="#3a3ab8" stroke="none" stroke-width="0.5" fill-opacity="0.1"/>
<rect x="231.3" y="105.82" width="2.7" height="1.16" fill="#3a3ab8" stroke="none" stroke-width="0.5" fill-opacity="0.21"/>
<rect x="231.3" y="107.36" width="2.7" height="1.16" fill="#3a3ab8" stroke="none" stroke-width="0.5" fill-opacity="0.08"/>
<rect x="231.3" y="108.91" width="2.7" height="1.16" fill="#3a3ab8" stroke="none" stroke-width="0.5" fill-opacity="0.2"/>
<rect x="231.3" y="110.45" width="2.7" height="1.16" fill="#3a3ab8" stroke="none" stroke-width="0.5" fill-opacity="0.09"/>
<rect x="265.8" y="83.4" width="0.79" height="39.6" fill="#3a3ab8" stroke="none" stroke-width="0.5" fill-opacity="0.38"/>
<rect x="266.85" y="83.4" width="0.79" height="39.6" fill="#3a3ab8" stroke="none" stroke-width="0.5" fill-opacity="0.59"/>
<rect x="267.9" y="83.4" width="0.79" height="39.6" fill="#3a3ab8" stroke="none" stroke-width="0.5" fill-opacity="0.59"/>
<rect x="268.95" y="83.4" width="0.79" height="39.6" fill="#3a3ab8" stroke="none" stroke-width="0.5" fill-opacity="0.67"/>
<rect x="270" y="112" width="24" height="0.92" fill="#3a3ab8" stroke="none" stroke-width="0.5" fill-opacity="0.18"/>
<rect x="270" y="113.22" width="24" height="0.92" fill="#3a3ab8" stroke="none" stroke-width="0.5" fill-opacity="0.36"/>
<rect x="270" y="114.44" width="24" height="0.92" fill="#3a3ab8" stroke="none" stroke-width="0.5" fill-opacity="0.35"/>
<rect x="270" y="115.67" width="24" height="0.92" fill="#3a3ab8" stroke="none" stroke-width="0.5" fill-opacity="0.43"/>
<rect x="270" y="116.89" width="24" height="0.92" fill="#3a3ab8" stroke="none" stroke-width="0.5" fill-opacity="0.23"/>
<rect x="270" y="118.11" width="24" height="0.92" fill="#3a3ab8" stroke="none" stroke-width="0.5" fill-opacity="0.23"/>
<rect x="270" y="119.33" width="24" height="0.92" fill="#3a3ab8" stroke="none" stroke-width="0.5" fill-opacity="0.37"/>
<rect x="270" y="120.56" width="24" height="0.92" fill="#3a3ab8" stroke="none" stroke-width="0.5" fill-opacity="0.35"/>
<rect x="270" y="121.78" width="24" height="0.92" fill="#3a3ab8" stroke="none" stroke-width="0.5" fill-opacity="0.24"/>
<rect x="270.6" y="116.5" width="22.4" height="0.74" fill="#3a3ab8" stroke="none" stroke-width="0.5" fill-opacity="0.47"/>
<rect x="270.6" y="117.48" width="22.4" height="0.74" fill="#3a3ab8" stroke="none" stroke-width="0.5" fill-opacity="0.36"/>
<rect x="270.6" y="118.46" width="22.4" height="0.74" fill="#3a3ab8" stroke="none" stroke-width="0.5" fill-opacity="0.51"/>
<rect x="270.6" y="119.44" width="22.4" height="0.74" fill="#3a3ab8" stroke="none" stroke-width="0.5" fill-opacity="0.25"/>
<rect x="270.6" y="120.42" width="22.4" height="0.74" fill="#3a3ab8" stroke="none" stroke-width="0.5" fill-opacity="0.29"/>
<rect x="265.8" y="84" width="29.5" height="49.6" fill="none" stroke="#3a3ab8" stroke-width="0.5" stroke-opacity="0.2"/>
<rect x="291" y="84" width="1" height="28" fill="#3a3ab8" stroke="none" stroke-width="0.5" fill-opacity="0.28"/>
<rect x="292.33" y="84" width="1" height="28" fill="#3a3ab8" stroke="none" stroke-width="0.5" fill-opacity="0.17"/>
<rect x="293.67" y="84" width="1" height="28" fill="#3a3ab8" stroke="none" stroke-width="0.5" fill-opacity="0.15"/>
<rect x="296.2" y="153.2" width="56.6" height="0.77" fill="#3a3ab8" stroke="none" stroke-width="0.5" fill-opacity="0.44"/>
<rect x="296.2" y="154.23" width="56.6" height="0.77" fill="#3a3ab8" stroke="none" stroke-width="0.5" fill-opacity="0.15"/>
<rect x="296.2" y="155.26" width="56.6" height="0.77" fill="#3a3ab8" stroke="none" stroke-width="0.5" fill-opacity="0.37"/>
<rect x="296.2" y="156.29" width="56.6" height="0.77" fill="#3a3ab8" stroke="none" stroke-width="0.5" fill-opacity="0.2"/>
<rect x="296.2" y="157.31" width="56.6" height="0.77" fill="#3a3ab8" stroke="none" stroke-width="0.5" fill-opacity="0.45"/>
<rect x="296.2" y="158.34" width="56.6" height="0.77" fill="#3a3ab8" stroke="none" stroke-width="0.5" fill-opacity="0.16"/>
<rect x="296.2" y="159.37" width="56.6" height="0.77" fill="#3a3ab8" stroke="none" stroke-width="0.5" fill-opacity="0.41"/>
<rect x="322" y="157" width="30.8" height="0.85" fill="#3a3ab8" stroke="none" stroke-width="0.5" fill-opacity="0.24"/>
<rect x="322" y="158.13" width="30.8" height="0.85" fill="#3a3ab8" stroke="none" stroke-width="0.5" fill-opacity="0.27"/>
<rect x="322" y="159.27" width="30.8" height="0.85" fill="#3a3ab8" stroke="none" stroke-width="0.5" fill-opacity="0.3"/>
<rect x="309.2" y="134.5" width="0.87" height="25.5" fill="#3a3ab8" stroke="none" stroke-width="0.5" fill-opacity="0.34"/>
<rect x="310.36" y="134.5" width="0.87" height="25.5" fill="#3a3ab8" stroke="none" stroke-width="0.5" fill-opacity="0.16"/>
<rect x="311.51" y="134.5" width="0.87" height="25.5" fill="#3a3ab8" stroke="none" stroke-width="0.5" fill-opacity="0.23"/>
<rect x="312.67" y="134.5" width="0.87" height="25.5" fill="#3a3ab8" stroke="none" stroke-width="0.5" fill-opacity="0.22"/>
<rect x="313.82" y="134.5" width="0.87" height="25.5" fill="#3a3ab8" stroke="none" stroke-width="0.5" fill-opacity="0.37"/>
<rect x="314.98" y="134.5" width="0.87" height="25.5" fill="#3a3ab8" stroke="none" stroke-width="0.5" fill-opacity="0.35"/>
<rect x="316.13" y="134.5" width="0.87" height="25.5" fill="#3a3ab8" stroke="none" stroke-width="0.5" fill-opacity="0.42"/>
<rect x="317.29" y="134.5" width="0.87" height="25.5" fill="#3a3ab8" stroke="none" stroke-width="0.5" fill-opacity="0.18"/>
<rect x="318.44" y="134.5" width="0.87" height="25.5" fill="#3a3ab8" stroke="none" stroke-width="0.5" fill-opacity="0.28"/>
<rect x="309.2" y="134.5" width="0.87" height="25.5" fill="#3a3ab8" stroke="none" stroke-width="0.5" fill-opacity="0.08"/>
<rect x="310.36" y="134.5" width="0.87" height="25.5" fill="#3a3ab8" stroke="none" stroke-width="0.5" fill-opacity="0.11"/>
<rect x="311.52" y="134.5" width="0.87" height="25.5" fill="#3a3ab8" stroke="none" stroke-width="0.5" fill-opacity="0.15"/>
<rect x="312.68" y="134.5" width="0.87" height="25.5" fill="#3a3ab8" stroke="none" stroke-width="0.5" fill-opacity="0.08"/>
<rect x="313.84" y="134.5" width="0.87" height="25.5" fill="#3a3ab8" stroke="none" stroke-width="0.5" fill-opacity="0.1"/>
<line x1="322" y1="135.6" x2="352.5" y2="135.6" stroke="#3a3ab8" stroke-width="0.5" stroke-opacity="0.3"/>
<line x1="296.5" y1="134.5" x2="296.5" y2="160" stroke="#3a3ab8" stroke-width="0.5" stroke-opacity="0.3"/>
<rect x="232" y="150" width="32" height="1.07" fill="#3a3ab8" stroke="none" stroke-width="0.5" fill-opacity="0.07"/>
<rect x="232" y="151.43" width="32" height="1.07" fill="#3a3ab8" stroke="none" stroke-width="0.5" fill-opacity="0.06"/>
<rect x="232" y="152.86" width="32" height="1.07" fill="#3a3ab8" stroke="none" stroke-width="0.5" fill-opacity="0.04"/>
<rect x="232" y="154.29" width="32" height="1.07" fill="#3a3ab8" stroke="none" stroke-width="0.5" fill-opacity="0.07"/>
<rect x="232" y="155.71" width="32" height="1.07" fill="#3a3ab8" stroke="none" stroke-width="0.5" fill-opacity="0.08"/>
<rect x="232" y="157.14" width="32" height="1.07" fill="#3a3ab8" stroke="none" stroke-width="0.5" fill-opacity="0.03"/>
<rect x="232" y="158.57" width="32" height="1.07" fill="#3a3ab8" stroke="none" stroke-width="0.5" fill-opacity="0.08"/>
<rect x="231.5" y="134.6" width="33.6" height="26.4" fill="none" stroke="#3a3ab8" stroke-width="0.5" stroke-opacity="0.12"/>
<rect x="178.6" y="156.5" width="10.4" height="0.88" fill="#3a3ab8" stroke="none" stroke-width="0.5" fill-opacity="0.16"/>
<rect x="178.6" y="157.67" width="10.4" height="0.88" fill="#3a3ab8" stroke="none" stroke-width="0.5" fill-opacity="0.36"/>
<rect x="178.6" y="158.83" width="10.4" height="0.88" fill="#3a3ab8" stroke="none" stroke-width="0.5" fill-opacity="0.19"/>
<line x1="178.6" y1="161" x2="226" y2="161" stroke="#3a3ab8" stroke-width="0.5" stroke-opacity="0.12"/>
<line x1="226.3" y1="134.5" x2="226.3" y2="161" stroke="#3a3ab8" stroke-width="0.5" stroke-opacity="0.2"/>
<rect x="296.4" y="161.2" width="0.84" height="29.8" fill="#3a3ab8" stroke="none" stroke-width="0.5" fill-opacity="0.33"/>
<rect x="297.52" y="161.2" width="0.84" height="29.8" fill="#3a3ab8" stroke="none" stroke-width="0.5" fill-opacity="0.37"/>
<rect x="298.64" y="161.2" width="0.84" height="29.8" fill="#3a3ab8" stroke="none" stroke-width="0.5" fill-opacity="0.35"/>
<rect x="299.76" y="161.2" width="0.84" height="29.8" fill="#3a3ab8" stroke="none" stroke-width="0.5" fill-opacity="0.36"/>
<rect x="300.88" y="161.2" width="0.84" height="29.8" fill="#3a3ab8" stroke="none" stroke-width="0.5" fill-opacity="0.35"/>
<rect x="302" y="161.2" width="0.84" height="29.8" fill="#3a3ab8" stroke="none" stroke-width="0.5" fill-opacity="0.44"/>
<rect x="303.12" y="161.2" width="0.84" height="29.8" fill="#3a3ab8" stroke="none" stroke-width="0.5" fill-opacity="0.29"/>
<rect x="304.24" y="161.2" width="0.84" height="29.8" fill="#3a3ab8" stroke="none" stroke-width="0.5" fill-opacity="0.43"/>
<rect x="305.36" y="161.2" width="0.84" height="29.8" fill="#3a3ab8" stroke="none" stroke-width="0.5" fill-opacity="0.19"/>
<rect x="306.48" y="161.2" width="0.84" height="29.8" fill="#3a3ab8" stroke="none" stroke-width="0.5" fill-opacity="0.3"/>
<rect x="302" y="161.2" width="0.84" height="29.8" fill="#3a3ab8" stroke="none" stroke-width="0.5" fill-opacity="0.25"/>
<rect x="303.12" y="161.2" width="0.84" height="29.8" fill="#3a3ab8" stroke="none" stroke-width="0.5" fill-opacity="0.19"/>
<rect x="304.24" y="161.2" width="0.84" height="29.8" fill="#3a3ab8" stroke="none" stroke-width="0.5" fill-opacity="0.37"/>
<rect x="305.36" y="161.2" width="0.84" height="29.8" fill="#3a3ab8" stroke="none" stroke-width="0.5" fill-opacity="0.24"/>
<rect x="306.48" y="161.2" width="0.84" height="29.8" fill="#3a3ab8" stroke="none" stroke-width="0.5" fill-opacity="0.39"/>
<rect x="307.6" y="161.6" width="45" height="29.4" fill="none" stroke="#3a3ab8" stroke-width="0.5" stroke-opacity="0.2"/>
<line x1="321" y1="162" x2="321" y2="190" stroke="#3a3ab8" stroke-width="0.5" stroke-opacity="0.2"/>
<line x1="296" y1="190.9" x2="352" y2="190.9" stroke="#3a3ab8" stroke-width="0.6" stroke-opacity="0.3"/>
<line x1="266" y1="162" x2="266" y2="191" stroke="#3a3ab8" stroke-width="0.5" stroke-opacity="0.15"/>
<line x1="178.6" y1="163" x2="178.6" y2="191" stroke="#3a3ab8" stroke-width="0.6" stroke-opacity="0.3"/>
<rect x="182" y="163" width="44.2" height="27.6" fill="none" stroke="#3a3ab8" stroke-width="0.5" stroke-opacity="0.12"/>
<line x1="178.4" y1="190.6" x2="226" y2="190.6" stroke="#3a3ab8" stroke-width="0.5" stroke-opacity="0.15"/>
<line x1="174.5" y1="195.7" x2="226" y2="195.7" stroke="#3a3ab8" stroke-width="0.5" stroke-opacity="0.2"/>
<rect x="321" y="195.5" width="31.5" height="32.5" fill="none" stroke="#3a3ab8" stroke-width="0.5" stroke-opacity="0.2"/>
<rect x="318" y="229.4" width="34.8" height="0.87" fill="#3a3ab8" stroke="none" stroke-width="0.5" fill-opacity="0.39"/>
<rect x="318" y="230.56" width="34.8" height="0.87" fill="#3a3ab8" stroke="none" stroke-width="0.5" fill-opacity="0.5"/>
<rect x="318" y="231.72" width="34.8" height="0.87" fill="#3a3ab8" stroke="none" stroke-width="0.5" fill-opacity="0.55"/>
<rect x="318" y="232.89" width="34.8" height="0.87" fill="#3a3ab8" stroke="none" stroke-width="0.5" fill-opacity="0.3"/>
<rect x="318" y="234.05" width="34.8" height="0.87" fill="#3a3ab8" stroke="none" stroke-width="0.5" fill-opacity="0.48"/>
<rect x="318" y="235.21" width="34.8" height="0.87" fill="#3a3ab8" stroke="none" stroke-width="0.5" fill-opacity="0.46"/>
<rect x="318" y="236.38" width="34.8" height="0.87" fill="#3a3ab8" stroke="none" stroke-width="0.5" fill-opacity="0.44"/>
<rect x="318" y="237.54" width="34.8" height="0.87" fill="#3a3ab8" stroke="none" stroke-width="0.5" fill-opacity="0.23"/>
<rect x="305" y="229.4" width="0.89" height="9.3" fill="#3a3ab8" stroke="none" stroke-width="0.5" fill-opacity="0.06"/>
<rect x="306.18" y="229.4" width="0.89" height="9.3" fill="#3a3ab8" stroke="none" stroke-width="0.5" fill-opacity="0.11"/>
<rect x="307.36" y="229.4" width="0.89" height="9.3" fill="#3a3ab8" stroke="none" stroke-width="0.5" fill-opacity="0.15"/>
<rect x="308.55" y="229.4" width="0.89" height="9.3" fill="#3a3ab8" stroke="none" stroke-width="0.5" fill-opacity="0.09"/>
<rect x="309.73" y="229.4" width="0.89" height="9.3" fill="#3a3ab8" stroke="none" stroke-width="0.5" fill-opacity="0.12"/>
<rect x="310.91" y="229.4" width="0.89" height="9.3" fill="#3a3ab8" stroke="none" stroke-width="0.5" fill-opacity="0.1"/>
<rect x="312.09" y="229.4" width="0.89" height="9.3" fill="#3a3ab8" stroke="none" stroke-width="0.5" fill-opacity="0.16"/>
<rect x="313.27" y="229.4" width="0.89" height="9.3" fill="#3a3ab8" stroke="none" stroke-width="0.5" fill-opacity="0.17"/>
<rect x="314.45" y="229.4" width="0.89" height="9.3" fill="#3a3ab8" stroke="none" stroke-width="0.5" fill-opacity="0.11"/>
<rect x="315.64" y="229.4" width="0.89" height="9.3" fill="#3a3ab8" stroke="none" stroke-width="0.5" fill-opacity="0.18"/>
<rect x="316.82" y="229.4" width="0.89" height="9.3" fill="#3a3ab8" stroke="none" stroke-width="0.5" fill-opacity="0.07"/>
<line x1="301.2" y1="229" x2="301.2" y2="238.7" stroke="#3a3ab8" stroke-width="0.7" stroke-opacity="0.3"/>
<line x1="306" y1="229" x2="306" y2="238.7" stroke="#3a3ab8" stroke-width="0.7" stroke-opacity="0.3"/>
<rect x="296.5" y="196" width="0.88" height="42" fill="#3a3ab8" stroke="none" stroke-width="0.5" fill-opacity="0.13"/>
<rect x="297.67" y="196" width="0.88" height="42" fill="#3a3ab8" stroke="none" stroke-width="0.5" fill-opacity="0.14"/>
<rect x="298.83" y="196" width="0.88" height="42" fill="#3a3ab8" stroke="none" stroke-width="0.5" fill-opacity="0.07"/>
<line x1="296.5" y1="196" x2="296.5" y2="239" stroke="#3a3ab8" stroke-width="0.5" stroke-opacity="0.25"/>
<rect x="266" y="229" width="0.75" height="9.7" fill="#3a3ab8" stroke="none" stroke-width="0.5" fill-opacity="0.3"/>
<rect x="267" y="229" width="0.75" height="9.7" fill="#3a3ab8" stroke="none" stroke-width="0.5" fill-opacity="0.26"/>
<rect x="268" y="229" width="0.75" height="9.7" fill="#3a3ab8" stroke="none" stroke-width="0.5" fill-opacity="0.36"/>
<rect x="269" y="229" width="0.75" height="9.7" fill="#3a3ab8" stroke="none" stroke-width="0.5" fill-opacity="0.18"/>
<rect x="291" y="229" width="0.75" height="9.7" fill="#3a3ab8" stroke="none" stroke-width="0.5" fill-opacity="0.21"/>
<rect x="292" y="229" width="0.75" height="9.7" fill="#3a3ab8" stroke="none" stroke-width="0.5" fill-opacity="0.28"/>
<rect x="293" y="229" width="0.75" height="9.7" fill="#3a3ab8" stroke="none" stroke-width="0.5" fill-opacity="0.23"/>
<rect x="294" y="229" width="0.75" height="9.7" fill="#3a3ab8" stroke="none" stroke-width="0.5" fill-opacity="0.16"/>
<line x1="270" y1="238.2" x2="291" y2="238.2" stroke="#3a3ab8" stroke-width="0.5" stroke-opacity="0.15"/>
<line x1="232" y1="196" x2="232" y2="238" stroke="#3a3ab8" stroke-width="0.5" stroke-opacity="0.25"/>
<rect x="232" y="235.5" width="32" height="1.12" fill="#3a3ab8" stroke="none" stroke-width="0.5" fill-opacity="0.1"/>
<rect x="232" y="237" width="32" height="1.12" fill="#3a3ab8" stroke="none" stroke-width="0.5" fill-opacity="0.26"/>
<rect x="227" y="228" width="4" height="10" fill="#3a3ab8" stroke="none" stroke-width="0.5" fill-opacity="0.15"/>
<line x1="174.8" y1="84" x2="174.8" y2="238" stroke="#3a3ab8" stroke-width="0.4" stroke-opacity="0.12"/>
<line x1="174.4" y1="25.3" x2="215.5" y2="25.3" stroke="#111" stroke-width="0.6" />
<line x1="174.4" y1="25.3" x2="174.4" y2="72" stroke="#111" stroke-width="0.6" />
<line x1="215.5" y1="25.3" x2="215.5" y2="27.1" stroke="#111" stroke-width="0.6" />
<line x1="184" y1="27.1" x2="247.6" y2="27.1" stroke="#111" stroke-width="0.6" />
<line x1="184.6" y1="27.1" x2="184.6" y2="52.7" stroke="#111" stroke-width="0.6" />
<line x1="247.6" y1="27.1" x2="247.6" y2="27.6" stroke="#111" stroke-width="0.6" />
<line x1="227.5" y1="27.6" x2="268" y2="27.6" stroke="#111" stroke-width="0.6" />
<line x1="227.5" y1="27.6" x2="227.5" y2="72" stroke="#111" stroke-width="0.6" />
<line x1="268" y1="27.6" x2="268" y2="28.5" stroke="#111" stroke-width="0.6" />
<line x1="249.3" y1="28.5" x2="285.8" y2="28.5" stroke="#111" stroke-width="0.6" />
<line x1="249.3" y1="28.5" x2="249.3" y2="47.2" stroke="#111" stroke-width="0.6" />
<line x1="285.8" y1="28.5" x2="285.8" y2="31.9" stroke="#111" stroke-width="0.6" />
<line x1="269.2" y1="31.9" x2="302.5" y2="31.9" stroke="#111" stroke-width="0.6" />
<line x1="269.2" y1="31.9" x2="269.2" y2="51.7" stroke="#111" stroke-width="0.6" />
<line x1="302.5" y1="31.9" x2="302.5" y2="47.5" stroke="#111" stroke-width="0.6" />
<line x1="178.5" y1="52.7" x2="189.8" y2="52.7" stroke="#111" stroke-width="0.6" />
<line x1="178.5" y1="52.7" x2="178.5" y2="66.6" stroke="#111" stroke-width="0.6" />
<line x1="189.8" y1="52.7" x2="189.8" y2="56.4" stroke="#111" stroke-width="0.6" />
<line x1="184.4" y1="56.4" x2="195.3" y2="56.4" stroke="#111" stroke-width="0.6" />
<line x1="184.4" y1="56.4" x2="184.4" y2="64.4" stroke="#111" stroke-width="0.6" />
<line x1="195.3" y1="56.4" x2="195.3" y2="62.2" stroke="#111" stroke-width="0.6" />
<line x1="188.7" y1="62.2" x2="202.6" y2="62.2" stroke="#111" stroke-width="0.6" />
<line x1="188.7" y1="62.2" x2="188.7" y2="66" stroke="#111" stroke-width="0.6" />
<line x1="202.6" y1="62.2" x2="202.6" y2="65.8" stroke="#111" stroke-width="0.6" />
<line x1="190.2" y1="65.8" x2="223" y2="65.8" stroke="#111" stroke-width="0.6" />
<line x1="223" y1="65.8" x2="223" y2="72" stroke="#111" stroke-width="0.6" />
<line x1="190.2" y1="65.8" x2="190.2" y2="72" stroke="#111" stroke-width="0.6" />
<line x1="192" y1="67.6" x2="216" y2="67.6" stroke="#111" stroke-width="0.6" />
<line x1="194" y1="69.2" x2="220" y2="69.2" stroke="#111" stroke-width="0.6" />
<line x1="176.5" y1="63.5" x2="181" y2="63.5" stroke="#111" stroke-width="0.6" />
<line x1="176.5" y1="63.5" x2="176.5" y2="72" stroke="#111" stroke-width="0.6" />
<line x1="181" y1="63.5" x2="181" y2="72" stroke="#111" stroke-width="0.6" />
<line x1="182" y1="66" x2="186" y2="66" stroke="#111" stroke-width="0.6" />
<line x1="182" y1="66" x2="182" y2="72" stroke="#111" stroke-width="0.6" />
<line x1="186" y1="66" x2="186" y2="72" stroke="#111" stroke-width="0.6" />
<line x1="233.2" y1="47.2" x2="265.1" y2="47.2" stroke="#111" stroke-width="0.6" />
<line x1="233.2" y1="47.2" x2="233.2" y2="56.5" stroke="#111" stroke-width="0.6" />
<line x1="265.1" y1="47.2" x2="265.1" y2="72" stroke="#111" stroke-width="0.6" />
<line x1="231.4" y1="56.5" x2="235.3" y2="56.5" stroke="#111" stroke-width="0.6" />
<line x1="231.4" y1="56.5" x2="231.4" y2="72" stroke="#111" stroke-width="0.6" />
<line x1="235.3" y1="56.5" x2="235.3" y2="62.4" stroke="#111" stroke-width="0.6" />
<line x1="234.1" y1="62.4" x2="241.3" y2="62.4" stroke="#111" stroke-width="0.6" />
<line x1="234.1" y1="62.4" x2="234.1" y2="72" stroke="#111" stroke-width="0.6" />
<line x1="241.3" y1="62.4" x2="241.3" y2="64.2" stroke="#111" stroke-width="0.6" />
<line x1="236.8" y1="64.2" x2="265.1" y2="64.2" stroke="#111" stroke-width="0.6" />
<line x1="236.8" y1="64.2" x2="236.8" y2="72" stroke="#111" stroke-width="0.6" />
<line x1="238" y1="65.6" x2="260" y2="65.6" stroke="#111" stroke-width="0.6" />
<line x1="240" y1="67.5" x2="262" y2="67.5" stroke="#111" stroke-width="0.6" />
<line x1="265.5" y1="51.7" x2="273.6" y2="51.7" stroke="#111" stroke-width="0.6" />
<line x1="265.5" y1="51.7" x2="265.5" y2="72" stroke="#111" stroke-width="0.6" />
<line x1="273.6" y1="51.7" x2="273.6" y2="54.4" stroke="#111" stroke-width="0.6" />
<line x1="268.5" y1="54.4" x2="278.1" y2="54.4" stroke="#111" stroke-width="0.6" />
<line x1="268.5" y1="54.4" x2="268.5" y2="72" stroke="#111" stroke-width="0.6" />
<line x1="278.1" y1="54.4" x2="278.1" y2="61.5" stroke="#111" stroke-width="0.6" />
<line x1="271.8" y1="61.5" x2="277.2" y2="61.5" stroke="#111" stroke-width="0.6" />
<line x1="271.8" y1="61.5" x2="271.8" y2="72" stroke="#111" stroke-width="0.6" />
<line x1="277.2" y1="61.5" x2="277.2" y2="62.4" stroke="#111" stroke-width="0.6" />
<line x1="275.4" y1="62.4" x2="293.3" y2="62.4" stroke="#111" stroke-width="0.6" />
<line x1="275.4" y1="62.4" x2="275.4" y2="72" stroke="#111" stroke-width="0.6" />
<line x1="293.3" y1="62.4" x2="293.3" y2="72" stroke="#111" stroke-width="0.6" />
<line x1="276" y1="66" x2="290" y2="66" stroke="#111" stroke-width="0.6" />
<line x1="277" y1="68" x2="291" y2="68" stroke="#111" stroke-width="0.6" />
<line x1="295.4" y1="47.5" x2="308.3" y2="47.5" stroke="#111" stroke-width="0.6" />
<line x1="295.4" y1="47.5" x2="295.4" y2="72" stroke="#111" stroke-width="0.6" />
<line x1="308.3" y1="47.5" x2="308.3" y2="54.8" stroke="#111" stroke-width="0.6" />
<line x1="300.5" y1="54.8" x2="316.1" y2="54.8" stroke="#111" stroke-width="0.6" />
<line x1="300.5" y1="54.8" x2="300.5" y2="59.4" stroke="#111" stroke-width="0.6" />
<line x1="316.1" y1="54.8" x2="316.1" y2="57.1" stroke="#111" stroke-width="0.6" />
<line x1="297.4" y1="59.4" x2="302.9" y2="59.4" stroke="#111" stroke-width="0.6" />
<line x1="297.4" y1="59.4" x2="297.4" y2="72" stroke="#111" stroke-width="0.6" />
<line x1="302.9" y1="59.4" x2="302.9" y2="72" stroke="#111" stroke-width="0.6" />
<line x1="310.3" y1="57.1" x2="321.5" y2="57.1" stroke="#111" stroke-width="0.6" />
<line x1="310.3" y1="57.1" x2="310.3" y2="72" stroke="#111" stroke-width="0.6" />
<line x1="321.5" y1="57.1" x2="321.5" y2="58.6" stroke="#111" stroke-width="0.6" />
<line x1="320.7" y1="58.6" x2="323.8" y2="58.6" stroke="#111" stroke-width="0.6" />
<line x1="320.7" y1="58.6" x2="320.7" y2="72" stroke="#111" stroke-width="0.6" />
<line x1="323.8" y1="58.6" x2="323.8" y2="61.7" stroke="#111" stroke-width="0.6" />
<line x1="323" y1="61.7" x2="327" y2="61.7" stroke="#111" stroke-width="0.6" />
<line x1="327" y1="61.7" x2="327" y2="63" stroke="#111" stroke-width="0.6" />
<line x1="323.8" y1="63" x2="338.6" y2="63" stroke="#111" stroke-width="0.6" />
<line x1="323.8" y1="63" x2="323.8" y2="72" stroke="#111" stroke-width="0.6" />
<line x1="338.6" y1="63" x2="338.6" y2="64.1" stroke="#111" stroke-width="0.6" />
<line x1="330" y1="64.1" x2="349.5" y2="64.1" stroke="#111" stroke-width="0.6" />
<line x1="330" y1="64.1" x2="330" y2="72" stroke="#111" stroke-width="0.6" />
<line x1="349.5" y1="64.1" x2="349.5" y2="72" stroke="#111" stroke-width="0.6" />
<line x1="325.4" y1="65.6" x2="343.2" y2="65.6" stroke="#111" stroke-width="0.6" />
<line x1="330" y1="67.2" x2="350" y2="67.2" stroke="#111" stroke-width="0.6" />
<line x1="312" y1="62" x2="318" y2="62" stroke="#111" stroke-width="0.6" />
<line x1="312" y1="62" x2="312" y2="72" stroke="#111" stroke-width="0.6" />
<line x1="318" y1="62" x2="318" y2="72" stroke="#111" stroke-width="0.6" />
<line x1="174.6" y1="69.13" x2="174.6" y2="72.2" stroke="#111" stroke-width="0.5" />
<line x1="175.18" y1="68.17" x2="175.18" y2="72.2" stroke="#111" stroke-width="0.5" />
<line x1="175.8" y1="70.91" x2="175.8" y2="72.2" stroke="#111" stroke-width="0.5" />
<line x1="176.43" y1="69.05" x2="176.43" y2="72.2" stroke="#111" stroke-width="0.5" />
<line x1="176.77" y1="69.59" x2="176.77" y2="72.2" stroke="#111" stroke-width="0.5" />
<line x1="176.77" y1="69.59" x2="178.5" y2="69.59" stroke="#111" stroke-width="0.4" />
<line x1="177.27" y1="70.96" x2="177.27" y2="72.2" stroke="#111" stroke-width="0.5" />
<line x1="177.27" y1="70.96" x2="178.55" y2="70.96" stroke="#111" stroke-width="0.4" />
<line x1="177.89" y1="68.7" x2="177.89" y2="72.2" stroke="#111" stroke-width="0.5" />
<line x1="177.89" y1="68.7" x2="180.05" y2="68.7" stroke="#111" stroke-width="0.4" />
<line x1="178.24" y1="68.34" x2="178.24" y2="72.2" stroke="#111" stroke-width="0.5" />
<line x1="178.24" y1="68.34" x2="179.04" y2="68.34" stroke="#111" stroke-width="0.4" />
<line x1="178.85" y1="69.77" x2="178.85" y2="72.2" stroke="#111" stroke-width="0.5" />
<line x1="178.85" y1="69.77" x2="181.32" y2="69.77" stroke="#111" stroke-width="0.4" />
<line x1="179.45" y1="69.49" x2="179.45" y2="72.2" stroke="#111" stroke-width="0.5" />
<line x1="179.94" y1="68.13" x2="179.94" y2="72.2" stroke="#111" stroke-width="0.5" />
<line x1="179.94" y1="68.13" x2="182.34" y2="68.13" stroke="#111" stroke-width="0.4" />
<line x1="180.48" y1="67.12" x2="180.48" y2="72.2" stroke="#111" stroke-width="0.5" />
<line x1="180.89" y1="69.24" x2="180.89" y2="72.2" stroke="#111" stroke-width="0.5" />
<line x1="180.89" y1="69.24" x2="181.93" y2="69.24" stroke="#111" stroke-width="0.4" />
<line x1="181.21" y1="69.45" x2="181.21" y2="72.2" stroke="#111" stroke-width="0.5" />
<line x1="181.51" y1="68.13" x2="181.51" y2="72.2" stroke="#111" stroke-width="0.5" />
<line x1="181.51" y1="68.13" x2="182.84" y2="68.13" stroke="#111" stroke-width="0.4" />
<line x1="182.1" y1="68.82" x2="182.1" y2="72.2" stroke="#111" stroke-width="0.5" />
<line x1="182.1" y1="68.82" x2="183.71" y2="68.82" stroke="#111" stroke-width="0.4" />
<line x1="182.64" y1="70.3" x2="182.64" y2="72.2" stroke="#111" stroke-width="0.5" />
<line x1="182.95" y1="67.88" x2="182.95" y2="72.2" stroke="#111" stroke-width="0.5" />
<line x1="183.26" y1="67.74" x2="183.26" y2="72.2" stroke="#111" stroke-width="0.5" />
<line x1="183.76" y1="70.47" x2="183.76" y2="72.2" stroke="#111" stroke-width="0.5" />
<line x1="183.76" y1="70.47" x2="184.87" y2="70.47" stroke="#111" stroke-width="0.4" />
<line x1="184.39" y1="69.81" x2="184.39" y2="72.2" stroke="#111" stroke-width="0.5" />
<line x1="185.02" y1="67.2" x2="185.02" y2="72.2" stroke="#111" stroke-width="0.5" />
<line x1="185.02" y1="67.2" x2="186.42" y2="67.2" stroke="#111" stroke-width="0.4" />
<line x1="185.5" y1="67.79" x2="185.5" y2="72.2" stroke="#111" stroke-width="0.5" />
<line x1="185.5" y1="67.79" x2="187.58" y2="67.79" stroke="#111" stroke-width="0.4" />
<line x1="186.08" y1="67.49" x2="186.08" y2="72.2" stroke="#111" stroke-width="0.5" />
<line x1="186.08" y1="67.49" x2="188.49" y2="67.49" stroke="#111" stroke-width="0.4" />
<line x1="186.41" y1="69.31" x2="186.41" y2="72.2" stroke="#111" stroke-width="0.5" />
<line x1="187.04" y1="69.31" x2="187.04" y2="72.2" stroke="#111" stroke-width="0.5" />
<line x1="187.53" y1="69.41" x2="187.53" y2="72.2" stroke="#111" stroke-width="0.5" />
<line x1="187.53" y1="69.41" x2="188.63" y2="69.41" stroke="#111" stroke-width="0.4" />
<line x1="187.85" y1="69.98" x2="187.85" y2="72.2" stroke="#111" stroke-width="0.5" />
<line x1="188.5" y1="69.93" x2="188.5" y2="72.2" stroke="#111" stroke-width="0.5" />
<line x1="188.5" y1="69.93" x2="190.98" y2="69.93" stroke="#111" stroke-width="0.4" />
<line x1="188.99" y1="69.08" x2="188.99" y2="72.2" stroke="#111" stroke-width="0.5" />
<line x1="188.99" y1="69.08" x2="190.8" y2="69.08" stroke="#111" stroke-width="0.4" />
<line x1="189.58" y1="68.91" x2="189.58" y2="72.2" stroke="#111" stroke-width="0.5" />
<line x1="189.9" y1="67.29" x2="189.9" y2="72.2" stroke="#111" stroke-width="0.5" />
<line x1="189.9" y1="67.29" x2="191.54" y2="67.29" stroke="#111" stroke-width="0.4" />
<line x1="190.49" y1="70.04" x2="190.49" y2="72.2" stroke="#111" stroke-width="0.5" />
<line x1="191.12" y1="68.29" x2="191.12" y2="72.2" stroke="#111" stroke-width="0.5" />
<line x1="191.46" y1="68.98" x2="191.46" y2="72.2" stroke="#111" stroke-width="0.5" />
<line x1="191.46" y1="68.98" x2="193.7" y2="68.98" stroke="#111" stroke-width="0.4" />
<line x1="191.86" y1="68.91" x2="191.86" y2="72.2" stroke="#111" stroke-width="0.5" />
<line x1="192.46" y1="67.08" x2="192.46" y2="72.2" stroke="#111" stroke-width="0.5" />
<line x1="192.93" y1="67.95" x2="192.93" y2="72.2" stroke="#111" stroke-width="0.5" />
<line x1="193.34" y1="69.09" x2="193.34" y2="72.2" stroke="#111" stroke-width="0.5" />
<line x1="193.34" y1="69.09" x2="194.78" y2="69.09" stroke="#111" stroke-width="0.4" />
<line x1="193.98" y1="67.14" x2="193.98" y2="72.2" stroke="#111" stroke-width="0.5" />
<line x1="194.46" y1="69.32" x2="194.46" y2="72.2" stroke="#111" stroke-width="0.5" />
<line x1="194.46" y1="69.32" x2="195.72" y2="69.32" stroke="#111" stroke-width="0.4" />
<line x1="195.03" y1="67.46" x2="195.03" y2="72.2" stroke="#111" stroke-width="0.5" />
<line x1="195.61" y1="67.79" x2="195.61" y2="72.2" stroke="#111" stroke-width="0.5" />
<line x1="196.14" y1="67.84" x2="196.14" y2="72.2" stroke="#111" stroke-width="0.5" />
<line x1="196.68" y1="69.52" x2="196.68" y2="72.2" stroke="#111" stroke-width="0.5" />
<line x1="197.25" y1="68.08" x2="197.25" y2="72.2" stroke="#111" stroke-width="0.5" />
<line x1="197.25" y1="68.08" x2="199.66" y2="68.08" stroke="#111" stroke-width="0.4" />
<line x1="197.78" y1="68.47" x2="197.78" y2="72.2" stroke="#111" stroke-width="0.5" />
<line x1="197.78" y1="68.47" x2="199.51" y2="68.47" stroke="#111" stroke-width="0.4" />
<line x1="198.17" y1="68.15" x2="198.17" y2="72.2" stroke="#111" stroke-width="0.5" />
<line x1="198.75" y1="68.23" x2="198.75" y2="72.2" stroke="#111" stroke-width="0.5" />
<line x1="199.18" y1="68.25" x2="199.18" y2="72.2" stroke="#111" stroke-width="0.5" />
<line x1="199.77" y1="69.27" x2="199.77" y2="72.2" stroke="#111" stroke-width="0.5" />
<line x1="200.37" y1="68.09" x2="200.37" y2="72.2" stroke="#111" stroke-width="0.5" />
<line x1="201.01" y1="68.69" x2="201.01" y2="72.2" stroke="#111" stroke-width="0.5" />
<line x1="201.36" y1="67.57" x2="201.36" y2="72.2" stroke="#111" stroke-width="0.5" />
<line x1="201.83" y1="68.08" x2="201.83" y2="72.2" stroke="#111" stroke-width="0.5" />
<line x1="202.39" y1="69.9" x2="202.39" y2="72.2" stroke="#111" stroke-width="0.5" />
<line x1="202.89" y1="68.17" x2="202.89" y2="72.2" stroke="#111" stroke-width="0.5" />
<line x1="203.41" y1="67.79" x2="203.41" y2="72.2" stroke="#111" stroke-width="0.5" />
<line x1="203.96" y1="70.4" x2="203.96" y2="72.2" stroke="#111" stroke-width="0.5" />
<line x1="203.96" y1="70.4" x2="205.51" y2="70.4" stroke="#111" stroke-width="0.4" />
<line x1="204.49" y1="69.73" x2="204.49" y2="72.2" stroke="#111" stroke-width="0.5" />
<line x1="205.01" y1="70.35" x2="205.01" y2="72.2" stroke="#111" stroke-width="0.5" />
<line x1="205.39" y1="70.31" x2="205.39" y2="72.2" stroke="#111" stroke-width="0.5" />
<line x1="205.39" y1="70.31" x2="206.73" y2="70.31" stroke="#111" stroke-width="0.4" />
<line x1="205.75" y1="69.82" x2="205.75" y2="72.2" stroke="#111" stroke-width="0.5" />
<line x1="205.75" y1="69.82" x2="207.34" y2="69.82" stroke="#111" stroke-width="0.4" />
<line x1="206.18" y1="68.36" x2="206.18" y2="72.2" stroke="#111" stroke-width="0.5" />
<line x1="206.57" y1="67.34" x2="206.57" y2="72.2" stroke="#111" stroke-width="0.5" />
<line x1="206.57" y1="67.34" x2="208.06" y2="67.34" stroke="#111" stroke-width="0.4" />
<line x1="206.97" y1="69.06" x2="206.97" y2="72.2" stroke="#111" stroke-width="0.5" />
<line x1="206.97" y1="69.06" x2="209.18" y2="69.06" stroke="#111" stroke-width="0.4" />
<line x1="207.4" y1="70.37" x2="207.4" y2="72.2" stroke="#111" stroke-width="0.5" />
<line x1="207.73" y1="68.59" x2="207.73" y2="72.2" stroke="#111" stroke-width="0.5" />
<line x1="207.73" y1="68.59" x2="209.52" y2="68.59" stroke="#111" stroke-width="0.4" />
<line x1="208.36" y1="67.64" x2="208.36" y2="72.2" stroke="#111" stroke-width="0.5" />
<line x1="208.95" y1="68.25" x2="208.95" y2="72.2" stroke="#111" stroke-width="0.5" />
<line x1="209.3" y1="68.41" x2="209.3" y2="72.2" stroke="#111" stroke-width="0.5" />
<line x1="209.93" y1="67.11" x2="209.93" y2="72.2" stroke="#111" stroke-width="0.5" />
<line x1="210.36" y1="67.37" x2="210.36" y2="72.2" stroke="#111" stroke-width="0.5" />
<line x1="210.36" y1="67.37" x2="211.34" y2="67.37" stroke="#111" stroke-width="0.4" />
<line x1="210.85" y1="68.35" x2="210.85" y2="72.2" stroke="#111" stroke-width="0.5" />
<line x1="210.85" y1="68.35" x2="212.72" y2="68.35" stroke="#111" stroke-width="0.4" />
<line x1="211.47" y1="69.18" x2="211.47" y2="72.2" stroke="#111" stroke-width="0.5" />
<line x1="211.85" y1="69.48" x2="211.85" y2="72.2" stroke="#111" stroke-width="0.5" />
<line x1="212.28" y1="67.14" x2="212.28" y2="72.2" stroke="#111" stroke-width="0.5" />
<line x1="212.79" y1="69.59" x2="212.79" y2="72.2" stroke="#111" stroke-width="0.5" />
<line x1="213.26" y1="69.05" x2="213.26" y2="72.2" stroke="#111" stroke-width="0.5" />
<line x1="213.26" y1="69.05" x2="215.73" y2="69.05" stroke="#111" stroke-width="0.4" />
<line x1="213.73" y1="69.5" x2="213.73" y2="72.2" stroke="#111" stroke-width="0.5" />
<line x1="214.08" y1="68.32" x2="214.08" y2="72.2" stroke="#111" stroke-width="0.5" />
<line x1="214.48" y1="67.76" x2="214.48" y2="72.2" stroke="#111" stroke-width="0.5" />
<line x1="214.78" y1="68.64" x2="214.78" y2="72.2" stroke="#111" stroke-width="0.5" />
<line x1="214.78" y1="68.64" x2="217.17" y2="68.64" stroke="#111" stroke-width="0.4" />
<line x1="215.36" y1="69.64" x2="215.36" y2="72.2" stroke="#111" stroke-width="0.5" />
<line x1="215.36" y1="69.64" x2="216.42" y2="69.64" stroke="#111" stroke-width="0.4" />
<line x1="216" y1="69.47" x2="216" y2="72.2" stroke="#111" stroke-width="0.5" />
<line x1="216.47" y1="68.24" x2="216.47" y2="72.2" stroke="#111" stroke-width="0.5" />
<line x1="217.03" y1="70.09" x2="217.03" y2="72.2" stroke="#111" stroke-width="0.5" />
<line x1="217.43" y1="68.63" x2="217.43" y2="72.2" stroke="#111" stroke-width="0.5" />
<line x1="217.43" y1="68.63" x2="218.74" y2="68.63" stroke="#111" stroke-width="0.4" />
<line x1="217.92" y1="68.87" x2="217.92" y2="72.2" stroke="#111" stroke-width="0.5" />
<line x1="218.48" y1="68.43" x2="218.48" y2="72.2" stroke="#111" stroke-width="0.5" />
<line x1="218.48" y1="68.43" x2="219.71" y2="68.43" stroke="#111" stroke-width="0.4" />
<line x1="218.94" y1="67.29" x2="218.94" y2="72.2" stroke="#111" stroke-width="0.5" />
<line x1="219.43" y1="70.45" x2="219.43" y2="72.2" stroke="#111" stroke-width="0.5" />
<line x1="219.88" y1="68.49" x2="219.88" y2="72.2" stroke="#111" stroke-width="0.5" />
<line x1="220.4" y1="68.81" x2="220.4" y2="72.2" stroke="#111" stroke-width="0.5" />
<line x1="220.84" y1="69.13" x2="220.84" y2="72.2" stroke="#111" stroke-width="0.5" />
<line x1="221.21" y1="69.46" x2="221.21" y2="72.2" stroke="#111" stroke-width="0.5" />
<line x1="221.53" y1="67.57" x2="221.53" y2="72.2" stroke="#111" stroke-width="0.5" />
<line x1="221.98" y1="69.5" x2="221.98" y2="72.2" stroke="#111" stroke-width="0.5" />
<line x1="222.6" y1="70" x2="222.6" y2="72.2" stroke="#111" stroke-width="0.5" />
<line x1="223.09" y1="68.76" x2="223.09" y2="72.2" stroke="#111" stroke-width="0.5" />
<line x1="223.09" y1="68.76" x2="224.15" y2="68.76" stroke="#111" stroke-width="0.4" />
<line x1="223.6" y1="67.66" x2="223.6" y2="72.2" stroke="#111" stroke-width="0.5" />
<line x1="223.6" y1="67.66" x2="224.79" y2="67.66" stroke="#111" stroke-width="0.4" />
<line x1="224.18" y1="68.62" x2="224.18" y2="72.2" stroke="#111" stroke-width="0.5" />
<line x1="224.49" y1="68.83" x2="224.49" y2="72.2" stroke="#111" stroke-width="0.5" />
<line x1="225.14" y1="68.9" x2="225.14" y2="72.2" stroke="#111" stroke-width="0.5" />
<line x1="225.14" y1="68.9" x2="227.37" y2="68.9" stroke="#111" stroke-width="0.4" />
<line x1="225.52" y1="69.06" x2="225.52" y2="72.2" stroke="#111" stroke-width="0.5" />
<line x1="226.07" y1="70.6" x2="226.07" y2="72.2" stroke="#111" stroke-width="0.5" />
<line x1="226.07" y1="70.6" x2="228.43" y2="70.6" stroke="#111" stroke-width="0.4" />
<line x1="226.42" y1="69.17" x2="226.42" y2="72.2" stroke="#111" stroke-width="0.5" />
<line x1="226.78" y1="69.13" x2="226.78" y2="72.2" stroke="#111" stroke-width="0.5" />
<line x1="226.78" y1="69.13" x2="227.76" y2="69.13" stroke="#111" stroke-width="0.4" />
<line x1="227.21" y1="70.78" x2="227.21" y2="72.2" stroke="#111" stroke-width="0.5" />
<line x1="227.21" y1="70.78" x2="228.99" y2="70.78" stroke="#111" stroke-width="0.4" />
<line x1="227.77" y1="68.36" x2="227.77" y2="72.2" stroke="#111" stroke-width="0.5" />
<line x1="227.77" y1="68.36" x2="229.3" y2="68.36" stroke="#111" stroke-width="0.4" />
<line x1="228.18" y1="69.2" x2="228.18" y2="72.2" stroke="#111" stroke-width="0.5" />
<line x1="228.81" y1="69.88" x2="228.81" y2="72.2" stroke="#111" stroke-width="0.5" />
<line x1="228.81" y1="69.88" x2="230.79" y2="69.88" stroke="#111" stroke-width="0.4" />
<line x1="229.16" y1="69.11" x2="229.16" y2="72.2" stroke="#111" stroke-width="0.5" />
<line x1="229.78" y1="69.34" x2="229.78" y2="72.2" stroke="#111" stroke-width="0.5" />
<line x1="230.17" y1="69.34" x2="230.17" y2="72.2" stroke="#111" stroke-width="0.5" />
<line x1="230.17" y1="69.34" x2="232.25" y2="69.34" stroke="#111" stroke-width="0.4" />
<line x1="230.65" y1="70.6" x2="230.65" y2="72.2" stroke="#111" stroke-width="0.5" />
<line x1="230.65" y1="70.6" x2="232.08" y2="70.6" stroke="#111" stroke-width="0.4" />
<line x1="231.21" y1="69.28" x2="231.21" y2="72.2" stroke="#111" stroke-width="0.5" />
<line x1="231.74" y1="69.66" x2="231.74" y2="72.2" stroke="#111" stroke-width="0.5" />
<line x1="232.07" y1="69.5" x2="232.07" y2="72.2" stroke="#111" stroke-width="0.5" />
<line x1="232.45" y1="66.49" x2="232.45" y2="72.2" stroke="#111" stroke-width="0.5" />
<line x1="232.87" y1="66.81" x2="232.87" y2="72.2" stroke="#111" stroke-width="0.5" />
<line x1="232.87" y1="66.81" x2="234.9" y2="66.81" stroke="#111" stroke-width="0.4" />
<line x1="233.19" y1="69.4" x2="233.19" y2="72.2" stroke="#111" stroke-width="0.5" />
<line x1="233.72" y1="69.11" x2="233.72" y2="72.2" stroke="#111" stroke-width="0.5" />
<line x1="233.72" y1="69.11" x2="236.18" y2="69.11" stroke="#111" stroke-width="0.4" />
<line x1="234.26" y1="66.72" x2="234.26" y2="72.2" stroke="#111" stroke-width="0.5" />
<line x1="234.26" y1="66.72" x2="236.12" y2="66.72" stroke="#111" stroke-width="0.4" />
<line x1="234.68" y1="69.06" x2="234.68" y2="72.2" stroke="#111" stroke-width="0.5" />
<line x1="234.68" y1="69.06" x2="236.53" y2="69.06" stroke="#111" stroke-width="0.4" />
<line x1="235.1" y1="68.46" x2="235.1" y2="72.2" stroke="#111" stroke-width="0.5" />
<line x1="235.1" y1="68.46" x2="237.32" y2="68.46" stroke="#111" stroke-width="0.4" />
<line x1="235.63" y1="66.78" x2="235.63" y2="72.2" stroke="#111" stroke-width="0.5" />
<line x1="236.23" y1="67.93" x2="236.23" y2="72.2" stroke="#111" stroke-width="0.5" />
<line x1="236.73" y1="67.04" x2="236.73" y2="72.2" stroke="#111" stroke-width="0.5" />
<line x1="237.06" y1="69.87" x2="237.06" y2="72.2" stroke="#111" stroke-width="0.5" />
<line x1="237.06" y1="69.87" x2="237.93" y2="69.87" stroke="#111" stroke-width="0.4" />
<line x1="237.67" y1="68.08" x2="237.67" y2="72.2" stroke="#111" stroke-width="0.5" />
<line x1="237.97" y1="68.12" x2="237.97" y2="72.2" stroke="#111" stroke-width="0.5" />
<line x1="238.49" y1="68.29" x2="238.49" y2="72.2" stroke="#111" stroke-width="0.5" />
<line x1="238.83" y1="69.38" x2="238.83" y2="72.2" stroke="#111" stroke-width="0.5" />
<line x1="238.83" y1="69.38" x2="240.26" y2="69.38" stroke="#111" stroke-width="0.4" />
<line x1="239.26" y1="66.48" x2="239.26" y2="72.2" stroke="#111" stroke-width="0.5" />
<line x1="239.26" y1="66.48" x2="240.49" y2="66.48" stroke="#111" stroke-width="0.4" />
<line x1="239.66" y1="69.35" x2="239.66" y2="72.2" stroke="#111" stroke-width="0.5" />
<line x1="239.66" y1="69.35" x2="240.86" y2="69.35" stroke="#111" stroke-width="0.4" />
<line x1="240.13" y1="69.87" x2="240.13" y2="72.2" stroke="#111" stroke-width="0.5" />
<line x1="240.56" y1="66.25" x2="240.56" y2="72.2" stroke="#111" stroke-width="0.5" />
<line x1="241.09" y1="68.11" x2="241.09" y2="72.2" stroke="#111" stroke-width="0.5" />
<line x1="241.43" y1="67.33" x2="241.43" y2="72.2" stroke="#111" stroke-width="0.5" />
<line x1="241.43" y1="67.33" x2="243.38" y2="67.33" stroke="#111" stroke-width="0.4" />
<line x1="241.99" y1="69.35" x2="241.99" y2="72.2" stroke="#111" stroke-width="0.5" />
<line x1="241.99" y1="69.35" x2="242.83" y2="69.35" stroke="#111" stroke-width="0.4" />
<line x1="242.37" y1="69.69" x2="242.37" y2="72.2" stroke="#111" stroke-width="0.5" />
<line x1="243.01" y1="68.54" x2="243.01" y2="72.2" stroke="#111" stroke-width="0.5" />
<line x1="243.01" y1="68.54" x2="244.61" y2="68.54" stroke="#111" stroke-width="0.4" />
<line x1="243.41" y1="67.07" x2="243.41" y2="72.2" stroke="#111" stroke-width="0.5" />
<line x1="243.77" y1="69.04" x2="243.77" y2="72.2" stroke="#111" stroke-width="0.5" />
<line x1="244.4" y1="67.42" x2="244.4" y2="72.2" stroke="#111" stroke-width="0.5" />
<line x1="245.04" y1="69.97" x2="245.04" y2="72.2" stroke="#111" stroke-width="0.5" />
<line x1="245.04" y1="69.97" x2="247.16" y2="69.97" stroke="#111" stroke-width="0.4" />
<line x1="245.48" y1="69.82" x2="245.48" y2="72.2" stroke="#111" stroke-width="0.5" />
<line x1="246.13" y1="69.44" x2="246.13" y2="72.2" stroke="#111" stroke-width="0.5" />
<line x1="246.46" y1="70.79" x2="246.46" y2="72.2" stroke="#111" stroke-width="0.5" />
<line x1="246.93" y1="68.19" x2="246.93" y2="72.2" stroke="#111" stroke-width="0.5" />
<line x1="246.93" y1="68.19" x2="248.15" y2="68.19" stroke="#111" stroke-width="0.4" />
<line x1="247.25" y1="69.81" x2="247.25" y2="72.2" stroke="#111" stroke-width="0.5" />
<line x1="247.25" y1="69.81" x2="248.48" y2="69.81" stroke="#111" stroke-width="0.4" />
<line x1="247.69" y1="70.08" x2="247.69" y2="72.2" stroke="#111" stroke-width="0.5" />
<line x1="247.69" y1="70.08" x2="248.56" y2="70.08" stroke="#111" stroke-width="0.4" />
<line x1="248.33" y1="70.46" x2="248.33" y2="72.2" stroke="#111" stroke-width="0.5" />
<line x1="248.77" y1="69.41" x2="248.77" y2="72.2" stroke="#111" stroke-width="0.5" />
<line x1="248.77" y1="69.41" x2="250.11" y2="69.41" stroke="#111" stroke-width="0.4" />
<line x1="249.11" y1="69.37" x2="249.11" y2="72.2" stroke="#111" stroke-width="0.5" />
<line x1="249.62" y1="68.43" x2="249.62" y2="72.2" stroke="#111" stroke-width="0.5" />
<line x1="249.62" y1="68.43" x2="250.45" y2="68.43" stroke="#111" stroke-width="0.4" />
<line x1="250.11" y1="69.54" x2="250.11" y2="72.2" stroke="#111" stroke-width="0.5" />
<line x1="250.54" y1="69.12" x2="250.54" y2="72.2" stroke="#111" stroke-width="0.5" />
<line x1="251.16" y1="70.08" x2="251.16" y2="72.2" stroke="#111" stroke-width="0.5" />
<line x1="251.75" y1="70.33" x2="251.75" y2="72.2" stroke="#111" stroke-width="0.5" />
<line x1="251.75" y1="70.33" x2="253.08" y2="70.33" stroke="#111" stroke-width="0.4" />
<line x1="252.08" y1="68.68" x2="252.08" y2="72.2" stroke="#111" stroke-width="0.5" />
<line x1="252.49" y1="70.61" x2="252.49" y2="72.2" stroke="#111" stroke-width="0.5" />
<line x1="252.49" y1="70.61" x2="253.71" y2="70.61" stroke="#111" stroke-width="0.4" />
<line x1="252.82" y1="69.71" x2="252.82" y2="72.2" stroke="#111" stroke-width="0.5" />
<line x1="253.2" y1="70.82" x2="253.2" y2="72.2" stroke="#111" stroke-width="0.5" />
<line x1="253.52" y1="70.4" x2="253.52" y2="72.2" stroke="#111" stroke-width="0.5" />
<line x1="253.52" y1="70.4" x2="254.96" y2="70.4" stroke="#111" stroke-width="0.4" />
<line x1="253.86" y1="69.74" x2="253.86" y2="72.2" stroke="#111" stroke-width="0.5" />
<line x1="253.86" y1="69.74" x2="255.94" y2="69.74" stroke="#111" stroke-width="0.4" />
<line x1="254.35" y1="68.31" x2="254.35" y2="72.2" stroke="#111" stroke-width="0.5" />
<line x1="254.92" y1="69.28" x2="254.92" y2="72.2" stroke="#111" stroke-width="0.5" />
<line x1="255.5" y1="69.03" x2="255.5" y2="72.2" stroke="#111" stroke-width="0.5" />
<line x1="256.06" y1="68.9" x2="256.06" y2="72.2" stroke="#111" stroke-width="0.5" />
<line x1="256.06" y1="68.9" x2="258.24" y2="68.9" stroke="#111" stroke-width="0.4" />
<line x1="256.49" y1="70.61" x2="256.49" y2="72.2" stroke="#111" stroke-width="0.5" />
<line x1="256.49" y1="70.61" x2="257.58" y2="70.61" stroke="#111" stroke-width="0.4" />
<line x1="256.88" y1="68.97" x2="256.88" y2="72.2" stroke="#111" stroke-width="0.5" />
<line x1="256.88" y1="68.97" x2="257.79" y2="68.97" stroke="#111" stroke-width="0.4" />
<line x1="257.45" y1="69.33" x2="257.45" y2="72.2" stroke="#111" stroke-width="0.5" />
<line x1="257.45" y1="69.33" x2="258.34" y2="69.33" stroke="#111" stroke-width="0.4" />
<line x1="257.8" y1="69.93" x2="257.8" y2="72.2" stroke="#111" stroke-width="0.5" />
<line x1="258.43" y1="69.16" x2="258.43" y2="72.2" stroke="#111" stroke-width="0.5" />
<line x1="258.43" y1="69.16" x2="259.96" y2="69.16" stroke="#111" stroke-width="0.4" />
<line x1="258.86" y1="70.01" x2="258.86" y2="72.2" stroke="#111" stroke-width="0.5" />
<line x1="258.86" y1="70.01" x2="260.65" y2="70.01" stroke="#111" stroke-width="0.4" />
<line x1="259.44" y1="68.82" x2="259.44" y2="72.2" stroke="#111" stroke-width="0.5" />
<line x1="259.44" y1="68.82" x2="261.15" y2="68.82" stroke="#111" stroke-width="0.4" />
<line x1="259.8" y1="68.87" x2="259.8" y2="72.2" stroke="#111" stroke-width="0.5" />
<line x1="260.43" y1="68.62" x2="260.43" y2="72.2" stroke="#111" stroke-width="0.5" />
<line x1="260.43" y1="68.62" x2="261.77" y2="68.62" stroke="#111" stroke-width="0.4" />
<line x1="261.05" y1="69.62" x2="261.05" y2="72.2" stroke="#111" stroke-width="0.5" />
<line x1="261.51" y1="68.7" x2="261.51" y2="72.2" stroke="#111" stroke-width="0.5" />
<line x1="261.99" y1="68.09" x2="261.99" y2="72.2" stroke="#111" stroke-width="0.5" />
<line x1="262.33" y1="68.56" x2="262.33" y2="72.2" stroke="#111" stroke-width="0.5" />
<line x1="262.65" y1="68.07" x2="262.65" y2="72.2" stroke="#111" stroke-width="0.5" />
<line x1="262.65" y1="68.07" x2="264.43" y2="68.07" stroke="#111" stroke-width="0.4" />
<line x1="263.12" y1="68.35" x2="263.12" y2="72.2" stroke="#111" stroke-width="0.5" />
<line x1="263.49" y1="70.17" x2="263.49" y2="72.2" stroke="#111" stroke-width="0.5" />
<line x1="263.49" y1="70.17" x2="265.25" y2="70.17" stroke="#111" stroke-width="0.4" />
<line x1="263.92" y1="68.75" x2="263.92" y2="72.2" stroke="#111" stroke-width="0.5" />
<line x1="263.92" y1="68.75" x2="265.32" y2="68.75" stroke="#111" stroke-width="0.4" />
<line x1="264.3" y1="68.05" x2="264.3" y2="72.2" stroke="#111" stroke-width="0.5" />
<line x1="264.9" y1="69.15" x2="264.9" y2="72.2" stroke="#111" stroke-width="0.5" />
<line x1="265.25" y1="68.5" x2="265.25" y2="72.2" stroke="#111" stroke-width="0.5" />
<line x1="265.57" y1="70.49" x2="265.57" y2="72.2" stroke="#111" stroke-width="0.5" />
<line x1="265.57" y1="70.49" x2="267.59" y2="70.49" stroke="#111" stroke-width="0.4" />
<line x1="266.18" y1="68.9" x2="266.18" y2="72.2" stroke="#111" stroke-width="0.5" />
<line x1="266.59" y1="66.24" x2="266.59" y2="72.2" stroke="#111" stroke-width="0.5" />
<line x1="267.11" y1="65.6" x2="267.11" y2="72.2" stroke="#111" stroke-width="0.5" />
<line x1="267.42" y1="67.19" x2="267.42" y2="72.2" stroke="#111" stroke-width="0.5" />
<line x1="267.78" y1="67.86" x2="267.78" y2="72.2" stroke="#111" stroke-width="0.5" />
<line x1="267.78" y1="67.86" x2="268.63" y2="67.86" stroke="#111" stroke-width="0.4" />
<line x1="268.19" y1="67.89" x2="268.19" y2="72.2" stroke="#111" stroke-width="0.5" />
<line x1="268.74" y1="67.8" x2="268.74" y2="72.2" stroke="#111" stroke-width="0.5" />
<line x1="269.32" y1="64.92" x2="269.32" y2="72.2" stroke="#111" stroke-width="0.5" />
<line x1="269.86" y1="67.05" x2="269.86" y2="72.2" stroke="#111" stroke-width="0.5" />
<line x1="270.28" y1="66.74" x2="270.28" y2="72.2" stroke="#111" stroke-width="0.5" />
<line x1="270.77" y1="68.44" x2="270.77" y2="72.2" stroke="#111" stroke-width="0.5" />
<line x1="270.77" y1="68.44" x2="271.71" y2="68.44" stroke="#111" stroke-width="0.4" />
<line x1="271.19" y1="66.81" x2="271.19" y2="72.2" stroke="#111" stroke-width="0.5" />
<line x1="271.74" y1="68.31" x2="271.74" y2="72.2" stroke="#111" stroke-width="0.5" />
<line x1="272.14" y1="66.06" x2="272.14" y2="72.2" stroke="#111" stroke-width="0.5" />
<line x1="272.14" y1="66.06" x2="274.22" y2="66.06" stroke="#111" stroke-width="0.4" />
<line x1="272.67" y1="64.74" x2="272.67" y2="72.2" stroke="#111" stroke-width="0.5" />
<line x1="273.21" y1="65.39" x2="273.21" y2="72.2" stroke="#111" stroke-width="0.5" />
<line x1="273.73" y1="68.85" x2="273.73" y2="72.2" stroke="#111" stroke-width="0.5" />
<line x1="274.34" y1="68.69" x2="274.34" y2="72.2" stroke="#111" stroke-width="0.5" />
<line x1="274.83" y1="67.84" x2="274.83" y2="72.2" stroke="#111" stroke-width="0.5" />
<line x1="274.83" y1="67.84" x2="276.29" y2="67.84" stroke="#111" stroke-width="0.4" />
<line x1="275.19" y1="66.41" x2="275.19" y2="72.2" stroke="#111" stroke-width="0.5" />
<line x1="275.81" y1="66.63" x2="275.81" y2="72.2" stroke="#111" stroke-width="0.5" />
<line x1="276.15" y1="66.21" x2="276.15" y2="72.2" stroke="#111" stroke-width="0.5" />
<line x1="276.7" y1="67.94" x2="276.7" y2="72.2" stroke="#111" stroke-width="0.5" />
<line x1="277.07" y1="68.32" x2="277.07" y2="72.2" stroke="#111" stroke-width="0.5" />
<line x1="277.07" y1="68.32" x2="278.93" y2="68.32" stroke="#111" stroke-width="0.4" />
<line x1="277.69" y1="69.08" x2="277.69" y2="72.2" stroke="#111" stroke-width="0.5" />
<line x1="278.26" y1="68.76" x2="278.26" y2="72.2" stroke="#111" stroke-width="0.5" />
<line x1="278.26" y1="68.76" x2="280.02" y2="68.76" stroke="#111" stroke-width="0.4" />
<line x1="278.85" y1="65.17" x2="278.85" y2="72.2" stroke="#111" stroke-width="0.5" />
<line x1="279.29" y1="67.66" x2="279.29" y2="72.2" stroke="#111" stroke-width="0.5" />
<line x1="279.91" y1="68.34" x2="279.91" y2="72.2" stroke="#111" stroke-width="0.5" />
<line x1="279.91" y1="68.34" x2="281.74" y2="68.34" stroke="#111" stroke-width="0.4" />
<line x1="280.55" y1="68.97" x2="280.55" y2="72.2" stroke="#111" stroke-width="0.5" />
<line x1="280.55" y1="68.97" x2="281.54" y2="68.97" stroke="#111" stroke-width="0.4" />
<line x1="281.04" y1="66.68" x2="281.04" y2="72.2" stroke="#111" stroke-width="0.5" />
<line x1="281.04" y1="66.68" x2="282.17" y2="66.68" stroke="#111" stroke-width="0.4" />
<line x1="281.55" y1="66.45" x2="281.55" y2="72.2" stroke="#111" stroke-width="0.5" />
<line x1="282.11" y1="69.66" x2="282.11" y2="72.2" stroke="#111" stroke-width="0.5" />
<line x1="282.7" y1="64.74" x2="282.7" y2="72.2" stroke="#111" stroke-width="0.5" />
<line x1="282.7" y1="64.74" x2="284.94" y2="64.74" stroke="#111" stroke-width="0.4" />
<line x1="283.22" y1="64.9" x2="283.22" y2="72.2" stroke="#111" stroke-width="0.5" />
<line x1="283.22" y1="64.9" x2="285.21" y2="64.9" stroke="#111" stroke-width="0.4" />
<line x1="283.82" y1="67.38" x2="283.82" y2="72.2" stroke="#111" stroke-width="0.5" />
<line x1="283.82" y1="67.38" x2="284.95" y2="67.38" stroke="#111" stroke-width="0.4" />
<line x1="284.17" y1="69.49" x2="284.17" y2="72.2" stroke="#111" stroke-width="0.5" />
<line x1="284.17" y1="69.49" x2="286.02" y2="69.49" stroke="#111" stroke-width="0.4" />
<line x1="284.51" y1="65.83" x2="284.51" y2="72.2" stroke="#111" stroke-width="0.5" />
<line x1="285.1" y1="65.58" x2="285.1" y2="72.2" stroke="#111" stroke-width="0.5" />
<line x1="285.72" y1="64.74" x2="285.72" y2="72.2" stroke="#111" stroke-width="0.5" />
<line x1="286.36" y1="69.43" x2="286.36" y2="72.2" stroke="#111" stroke-width="0.5" />
<line x1="286.36" y1="69.43" x2="287.27" y2="69.43" stroke="#111" stroke-width="0.4" />
<line x1="286.73" y1="67.94" x2="286.73" y2="72.2" stroke="#111" stroke-width="0.5" />
<line x1="287.27" y1="65.91" x2="287.27" y2="72.2" stroke="#111" stroke-width="0.5" />
<line x1="287.27" y1="65.91" x2="288.75" y2="65.91" stroke="#111" stroke-width="0.4" />
<line x1="287.76" y1="67.94" x2="287.76" y2="72.2" stroke="#111" stroke-width="0.5" />
<line x1="287.76" y1="67.94" x2="289.57" y2="67.94" stroke="#111" stroke-width="0.4" />
<line x1="288.19" y1="66.24" x2="288.19" y2="72.2" stroke="#111" stroke-width="0.5" />
<line x1="288.83" y1="64.8" x2="288.83" y2="72.2" stroke="#111" stroke-width="0.5" />
<line x1="288.83" y1="64.8" x2="290.92" y2="64.8" stroke="#111" stroke-width="0.4" />
<line x1="289.38" y1="68.37" x2="289.38" y2="72.2" stroke="#111" stroke-width="0.5" />
<line x1="289.38" y1="68.37" x2="290.99" y2="68.37" stroke="#111" stroke-width="0.4" />
<line x1="289.8" y1="65.94" x2="289.8" y2="72.2" stroke="#111" stroke-width="0.5" />
<line x1="290.24" y1="68.4" x2="290.24" y2="72.2" stroke="#111" stroke-width="0.5" />
<line x1="290.78" y1="65.66" x2="290.78" y2="72.2" stroke="#111" stroke-width="0.5" />
<line x1="291.18" y1="68.15" x2="291.18" y2="72.2" stroke="#111" stroke-width="0.5" />
<line x1="291.67" y1="69.72" x2="291.67" y2="72.2" stroke="#111" stroke-width="0.5" />
<line x1="292.05" y1="66.34" x2="292.05" y2="72.2" stroke="#111" stroke-width="0.5" />
<line x1="292.05" y1="66.34" x2="293.31" y2="66.34" stroke="#111" stroke-width="0.4" />
<line x1="292.38" y1="67.37" x2="292.38" y2="72.2" stroke="#111" stroke-width="0.5" />
<line x1="292.87" y1="67.88" x2="292.87" y2="72.2" stroke="#111" stroke-width="0.5" />
<line x1="293.2" y1="68.04" x2="293.2" y2="72.2" stroke="#111" stroke-width="0.5" />
<line x1="293.51" y1="65.79" x2="293.51" y2="72.2" stroke="#111" stroke-width="0.5" />
<line x1="293.81" y1="68.62" x2="293.81" y2="72.2" stroke="#111" stroke-width="0.5" />
<line x1="294.25" y1="67.16" x2="294.25" y2="72.2" stroke="#111" stroke-width="0.5" />
<line x1="294.25" y1="67.16" x2="295.42" y2="67.16" stroke="#111" stroke-width="0.4" />
<line x1="294.89" y1="67.57" x2="294.89" y2="72.2" stroke="#111" stroke-width="0.5" />
<line x1="295.22" y1="67.33" x2="295.22" y2="72.2" stroke="#111" stroke-width="0.5" />
<line x1="295.76" y1="65.95" x2="295.76" y2="72.2" stroke="#111" stroke-width="0.5" />
<line x1="295.76" y1="65.95" x2="297.22" y2="65.95" stroke="#111" stroke-width="0.4" />
<line x1="296.33" y1="66.39" x2="296.33" y2="72.2" stroke="#111" stroke-width="0.5" />
<line x1="296.95" y1="65.13" x2="296.95" y2="72.2" stroke="#111" stroke-width="0.5" />
<line x1="297.26" y1="68.86" x2="297.26" y2="72.2" stroke="#111" stroke-width="0.5" />
<line x1="297.7" y1="63.75" x2="297.7" y2="72.2" stroke="#111" stroke-width="0.5" />
<line x1="298.32" y1="66.73" x2="298.32" y2="72.2" stroke="#111" stroke-width="0.5" />
<line x1="298.89" y1="63.65" x2="298.89" y2="72.2" stroke="#111" stroke-width="0.5" />
<line x1="298.89" y1="63.65" x2="301.01" y2="63.65" stroke="#111" stroke-width="0.4" />
<line x1="299.34" y1="63.17" x2="299.34" y2="72.2" stroke="#111" stroke-width="0.5" />
<line x1="299.71" y1="66.47" x2="299.71" y2="72.2" stroke="#111" stroke-width="0.5" />
<line x1="299.71" y1="66.47" x2="301.31" y2="66.47" stroke="#111" stroke-width="0.4" />
<line x1="300.11" y1="65" x2="300.11" y2="72.2" stroke="#111" stroke-width="0.5" />
<line x1="300.11" y1="65" x2="301.2" y2="65" stroke="#111" stroke-width="0.4" />
<line x1="300.57" y1="68.56" x2="300.57" y2="72.2" stroke="#111" stroke-width="0.5" />
<line x1="301.19" y1="63.69" x2="301.19" y2="72.2" stroke="#111" stroke-width="0.5" />
<line x1="301.19" y1="63.69" x2="302.02" y2="63.69" stroke="#111" stroke-width="0.4" />
<line x1="301.78" y1="63.24" x2="301.78" y2="72.2" stroke="#111" stroke-width="0.5" />
<line x1="302.12" y1="67.58" x2="302.12" y2="72.2" stroke="#111" stroke-width="0.5" />
<line x1="302.75" y1="68.81" x2="302.75" y2="72.2" stroke="#111" stroke-width="0.5" />
<line x1="302.75" y1="68.81" x2="304.28" y2="68.81" stroke="#111" stroke-width="0.4" />
<line x1="303.14" y1="64.48" x2="303.14" y2="72.2" stroke="#111" stroke-width="0.5" />
<line x1="303.72" y1="68.09" x2="303.72" y2="72.2" stroke="#111" stroke-width="0.5" />
<line x1="304.36" y1="64.79" x2="304.36" y2="72.2" stroke="#111" stroke-width="0.5" />
<line x1="304.36" y1="64.79" x2="305.35" y2="64.79" stroke="#111" stroke-width="0.4" />
<line x1="304.88" y1="66.75" x2="304.88" y2="72.2" stroke="#111" stroke-width="0.5" />
<line x1="305.35" y1="65.51" x2="305.35" y2="72.2" stroke="#111" stroke-width="0.5" />
<line x1="305.73" y1="65.59" x2="305.73" y2="72.2" stroke="#111" stroke-width="0.5" />
<line x1="305.73" y1="65.59" x2="307.46" y2="65.59" stroke="#111" stroke-width="0.4" />
<line x1="306.29" y1="68.2" x2="306.29" y2="72.2" stroke="#111" stroke-width="0.5" />
<line x1="306.84" y1="68.95" x2="306.84" y2="72.2" stroke="#111" stroke-width="0.5" />
<line x1="307.28" y1="65.98" x2="307.28" y2="72.2" stroke="#111" stroke-width="0.5" />
<line x1="307.86" y1="68.66" x2="307.86" y2="72.2" stroke="#111" stroke-width="0.5" />
<line x1="308.17" y1="66.69" x2="308.17" y2="72.2" stroke="#111" stroke-width="0.5" />
<line x1="308.17" y1="66.69" x2="309.01" y2="66.69" stroke="#111" stroke-width="0.4" />
<line x1="308.58" y1="66.3" x2="308.58" y2="72.2" stroke="#111" stroke-width="0.5" />
<line x1="309.2" y1="66.78" x2="309.2" y2="72.2" stroke="#111" stroke-width="0.5" />
<line x1="309.75" y1="63.38" x2="309.75" y2="72.2" stroke="#111" stroke-width="0.5" />
<line x1="310.4" y1="67.19" x2="310.4" y2="72.2" stroke="#111" stroke-width="0.5" />
<line x1="310.4" y1="67.19" x2="312.78" y2="67.19" stroke="#111" stroke-width="0.4" />
<line x1="310.72" y1="66.31" x2="310.72" y2="72.2" stroke="#111" stroke-width="0.5" />
<line x1="311.21" y1="66.67" x2="311.21" y2="72.2" stroke="#111" stroke-width="0.5" />
<line x1="311.61" y1="65.69" x2="311.61" y2="72.2" stroke="#111" stroke-width="0.5" />
<line x1="311.96" y1="66.89" x2="311.96" y2="72.2" stroke="#111" stroke-width="0.5" />
<line x1="312.46" y1="67.76" x2="312.46" y2="72.2" stroke="#111" stroke-width="0.5" />
<line x1="312.78" y1="68.47" x2="312.78" y2="72.2" stroke="#111" stroke-width="0.5" />
<line x1="312.78" y1="68.47" x2="313.83" y2="68.47" stroke="#111" stroke-width="0.4" />
<line x1="313.42" y1="67.42" x2="313.42" y2="72.2" stroke="#111" stroke-width="0.5" />
<line x1="313.42" y1="67.42" x2="315.55" y2="67.42" stroke="#111" stroke-width="0.4" />
<line x1="313.98" y1="67.43" x2="313.98" y2="72.2" stroke="#111" stroke-width="0.5" />
<line x1="314.5" y1="66.67" x2="314.5" y2="72.2" stroke="#111" stroke-width="0.5" />
<line x1="314.88" y1="67.42" x2="314.88" y2="72.2" stroke="#111" stroke-width="0.5" />
<line x1="315.34" y1="63.62" x2="315.34" y2="72.2" stroke="#111" stroke-width="0.5" />
<line x1="315.34" y1="63.62" x2="316.37" y2="63.62" stroke="#111" stroke-width="0.4" />
<line x1="315.66" y1="64.56" x2="315.66" y2="72.2" stroke="#111" stroke-width="0.5" />
<line x1="315.96" y1="68.74" x2="315.96" y2="72.2" stroke="#111" stroke-width="0.5" />
<line x1="316.43" y1="63.77" x2="316.43" y2="72.2" stroke="#111" stroke-width="0.5" />
<line x1="316.43" y1="63.77" x2="318.23" y2="63.77" stroke="#111" stroke-width="0.4" />
<line x1="316.77" y1="64.67" x2="316.77" y2="72.2" stroke="#111" stroke-width="0.5" />
<line x1="317.29" y1="67.67" x2="317.29" y2="72.2" stroke="#111" stroke-width="0.5" />
<line x1="317.63" y1="68.62" x2="317.63" y2="72.2" stroke="#111" stroke-width="0.5" />
<line x1="317.96" y1="68.6" x2="317.96" y2="72.2" stroke="#111" stroke-width="0.5" />
<line x1="318.49" y1="63.65" x2="318.49" y2="72.2" stroke="#111" stroke-width="0.5" />
<line x1="318.81" y1="65.14" x2="318.81" y2="72.2" stroke="#111" stroke-width="0.5" />
<line x1="319.15" y1="64.47" x2="319.15" y2="72.2" stroke="#111" stroke-width="0.5" />
<line x1="319.15" y1="64.47" x2="320.46" y2="64.47" stroke="#111" stroke-width="0.4" />
<line x1="319.45" y1="64.45" x2="319.45" y2="72.2" stroke="#111" stroke-width="0.5" />
<line x1="320.07" y1="66.21" x2="320.07" y2="72.2" stroke="#111" stroke-width="0.5" />
<line x1="320.07" y1="66.21" x2="321.24" y2="66.21" stroke="#111" stroke-width="0.4" />
<line x1="320.46" y1="63.32" x2="320.46" y2="72.2" stroke="#111" stroke-width="0.5" />
<line x1="320.46" y1="63.32" x2="321.41" y2="63.32" stroke="#111" stroke-width="0.4" />
<line x1="320.89" y1="68.53" x2="320.89" y2="72.2" stroke="#111" stroke-width="0.5" />
<line x1="321.4" y1="65.1" x2="321.4" y2="72.2" stroke="#111" stroke-width="0.5" />
<line x1="321.4" y1="65.1" x2="322.44" y2="65.1" stroke="#111" stroke-width="0.4" />
<line x1="321.87" y1="64.88" x2="321.87" y2="72.2" stroke="#111" stroke-width="0.5" />
<line x1="322.38" y1="63.53" x2="322.38" y2="72.2" stroke="#111" stroke-width="0.5" />
<line x1="322.38" y1="63.53" x2="323.63" y2="63.53" stroke="#111" stroke-width="0.4" />
<line x1="322.85" y1="65.78" x2="322.85" y2="72.2" stroke="#111" stroke-width="0.5" />
<line x1="323.34" y1="65.03" x2="323.34" y2="72.2" stroke="#111" stroke-width="0.5" />
<line x1="323.92" y1="63.98" x2="323.92" y2="72.2" stroke="#111" stroke-width="0.5" />
<line x1="323.92" y1="63.98" x2="324.9" y2="63.98" stroke="#111" stroke-width="0.4" />
<line x1="324.31" y1="66.85" x2="324.31" y2="72.2" stroke="#111" stroke-width="0.5" />
<line x1="324.7" y1="65.22" x2="324.7" y2="72.2" stroke="#111" stroke-width="0.5" />
<line x1="325.33" y1="68.3" x2="325.33" y2="72.2" stroke="#111" stroke-width="0.5" />
<line x1="325.75" y1="68.38" x2="325.75" y2="72.2" stroke="#111" stroke-width="0.5" />
<line x1="326.35" y1="65.51" x2="326.35" y2="72.2" stroke="#111" stroke-width="0.5" />
<line x1="326.35" y1="65.51" x2="328.8" y2="65.51" stroke="#111" stroke-width="0.4" />
<line x1="326.78" y1="65.18" x2="326.78" y2="72.2" stroke="#111" stroke-width="0.5" />
<line x1="327.17" y1="66.55" x2="327.17" y2="72.2" stroke="#111" stroke-width="0.5" />
<line x1="327.17" y1="66.55" x2="328.14" y2="66.55" stroke="#111" stroke-width="0.4" />
<line x1="327.5" y1="64.7" x2="327.5" y2="72.2" stroke="#111" stroke-width="0.5" />
<line x1="328.1" y1="68.62" x2="328.1" y2="72.2" stroke="#111" stroke-width="0.5" />
<line x1="328.1" y1="68.62" x2="329.21" y2="68.62" stroke="#111" stroke-width="0.4" />
<line x1="328.73" y1="64.26" x2="328.73" y2="72.2" stroke="#111" stroke-width="0.5" />
<line x1="329.21" y1="68.37" x2="329.21" y2="72.2" stroke="#111" stroke-width="0.5" />
<line x1="329.59" y1="68.84" x2="329.59" y2="72.2" stroke="#111" stroke-width="0.5" />
<line x1="329.99" y1="68.35" x2="329.99" y2="72.2" stroke="#111" stroke-width="0.5" />
<line x1="330.62" y1="63.32" x2="330.62" y2="72.2" stroke="#111" stroke-width="0.5" />
<line x1="330.95" y1="64.39" x2="330.95" y2="72.2" stroke="#111" stroke-width="0.5" />
<line x1="330.95" y1="64.39" x2="332.67" y2="64.39" stroke="#111" stroke-width="0.4" />
<line x1="331.28" y1="63.08" x2="331.28" y2="72.2" stroke="#111" stroke-width="0.5" />
<line x1="331.73" y1="67.37" x2="331.73" y2="72.2" stroke="#111" stroke-width="0.5" />
<line x1="332.37" y1="66.43" x2="332.37" y2="72.2" stroke="#111" stroke-width="0.5" />
<line x1="332.37" y1="66.43" x2="334.05" y2="66.43" stroke="#111" stroke-width="0.4" />
<line x1="333" y1="66.71" x2="333" y2="72.2" stroke="#111" stroke-width="0.5" />
<line x1="333.62" y1="67.05" x2="333.62" y2="72.2" stroke="#111" stroke-width="0.5" />
<line x1="334.1" y1="68.16" x2="334.1" y2="72.2" stroke="#111" stroke-width="0.5" />
<line x1="334.1" y1="68.16" x2="336.5" y2="68.16" stroke="#111" stroke-width="0.4" />
<line x1="334.57" y1="66.34" x2="334.57" y2="72.2" stroke="#111" stroke-width="0.5" />
<line x1="335.07" y1="66" x2="335.07" y2="72.2" stroke="#111" stroke-width="0.5" />
<line x1="335.07" y1="66" x2="337.13" y2="66" stroke="#111" stroke-width="0.4" />
<line x1="335.46" y1="66.18" x2="335.46" y2="72.2" stroke="#111" stroke-width="0.5" />
<line x1="335.97" y1="68.19" x2="335.97" y2="72.2" stroke="#111" stroke-width="0.5" />
<line x1="335.97" y1="68.19" x2="337.95" y2="68.19" stroke="#111" stroke-width="0.4" />
<line x1="336.52" y1="68.38" x2="336.52" y2="72.2" stroke="#111" stroke-width="0.5" />
<line x1="336.87" y1="67.99" x2="336.87" y2="72.2" stroke="#111" stroke-width="0.5" />
<line x1="336.87" y1="67.99" x2="338.43" y2="67.99" stroke="#111" stroke-width="0.4" />
<line x1="337.39" y1="63.86" x2="337.39" y2="72.2" stroke="#111" stroke-width="0.5" />
<line x1="337.39" y1="63.86" x2="339.37" y2="63.86" stroke="#111" stroke-width="0.4" />
<line x1="337.72" y1="65.52" x2="337.72" y2="72.2" stroke="#111" stroke-width="0.5" />
<line x1="337.72" y1="65.52" x2="339.13" y2="65.52" stroke="#111" stroke-width="0.4" />
<line x1="338.04" y1="64.68" x2="338.04" y2="72.2" stroke="#111" stroke-width="0.5" />
<line x1="338.04" y1="64.68" x2="340.14" y2="64.68" stroke="#111" stroke-width="0.4" />
<line x1="338.46" y1="65.45" x2="338.46" y2="72.2" stroke="#111" stroke-width="0.5" />
<line x1="338.93" y1="63.76" x2="338.93" y2="72.2" stroke="#111" stroke-width="0.5" />
<line x1="339.33" y1="67" x2="339.33" y2="72.2" stroke="#111" stroke-width="0.5" />
<line x1="339.68" y1="66.48" x2="339.68" y2="72.2" stroke="#111" stroke-width="0.5" />
<line x1="340.32" y1="68.23" x2="340.32" y2="72.2" stroke="#111" stroke-width="0.5" />
<line x1="340.88" y1="64.63" x2="340.88" y2="72.2" stroke="#111" stroke-width="0.5" />
<line x1="340.88" y1="64.63" x2="343.29" y2="64.63" stroke="#111" stroke-width="0.4" />
<line x1="341.29" y1="63.88" x2="341.29" y2="72.2" stroke="#111" stroke-width="0.5" />
<line x1="341.74" y1="63.97" x2="341.74" y2="72.2" stroke="#111" stroke-width="0.5" />
<line x1="342.16" y1="64.61" x2="342.16" y2="72.2" stroke="#111" stroke-width="0.5" />
<line x1="342.71" y1="65.31" x2="342.71" y2="72.2" stroke="#111" stroke-width="0.5" />
<line x1="343.06" y1="66.03" x2="343.06" y2="72.2" stroke="#111" stroke-width="0.5" />
<line x1="343.06" y1="66.03" x2="345.21" y2="66.03" stroke="#111" stroke-width="0.4" />
<line x1="343.63" y1="63.98" x2="343.63" y2="72.2" stroke="#111" stroke-width="0.5" />
<line x1="343.63" y1="63.98" x2="345.34" y2="63.98" stroke="#111" stroke-width="0.4" />
<line x1="344.1" y1="68.28" x2="344.1" y2="72.2" stroke="#111" stroke-width="0.5" />
<line x1="344.1" y1="68.28" x2="346.56" y2="68.28" stroke="#111" stroke-width="0.4" />
<line x1="344.7" y1="67.57" x2="344.7" y2="72.2" stroke="#111" stroke-width="0.5" />
<line x1="345.23" y1="66.69" x2="345.23" y2="72.2" stroke="#111" stroke-width="0.5" />
<line x1="345.61" y1="67.36" x2="345.61" y2="72.2" stroke="#111" stroke-width="0.5" />
<line x1="345.61" y1="67.36" x2="347.52" y2="67.36" stroke="#111" stroke-width="0.4" />
<line x1="346.11" y1="64.54" x2="346.11" y2="72.2" stroke="#111" stroke-width="0.5" />
<line x1="346.56" y1="67.16" x2="346.56" y2="72.2" stroke="#111" stroke-width="0.5" />
<line x1="346.99" y1="65.42" x2="346.99" y2="72.2" stroke="#111" stroke-width="0.5" />
<line x1="347.45" y1="64.88" x2="347.45" y2="72.2" stroke="#111" stroke-width="0.5" />
<line x1="347.45" y1="64.88" x2="348.69" y2="64.88" stroke="#111" stroke-width="0.4" />
<line x1="348.04" y1="68.12" x2="348.04" y2="72.2" stroke="#111" stroke-width="0.5" />
<line x1="348.04" y1="68.12" x2="348.87" y2="68.12" stroke="#111" stroke-width="0.4" />
<line x1="348.61" y1="68.36" x2="348.61" y2="72.2" stroke="#111" stroke-width="0.5" />
<line x1="349.06" y1="64.18" x2="349.06" y2="72.2" stroke="#111" stroke-width="0.5" />
<line x1="349.55" y1="68.85" x2="349.55" y2="72.2" stroke="#111" stroke-width="0.5" />
<line x1="350.12" y1="65.26" x2="350.12" y2="72.2" stroke="#111" stroke-width="0.5" />
<line x1="350.63" y1="64.7" x2="350.63" y2="72.2" stroke="#111" stroke-width="0.5" />
<line x1="351.15" y1="68.88" x2="351.15" y2="72.2" stroke="#111" stroke-width="0.5" />
<line x1="351.79" y1="67.79" x2="351.79" y2="72.2" stroke="#111" stroke-width="0.5" />
<line x1="351.79" y1="67.79" x2="353.17" y2="67.79" stroke="#111" stroke-width="0.4" />
<rect x="174.4" y="70.3" width="177.6" height="1.9" fill="#111" stroke="none" stroke-width="0.5" />
<polygon points="176,72 176,68.35 177.5,68.07 179.45,68.31 181.03,70.74 182.38,70.89 184.21,69.42 185.89,69.55 187.19,70.99 188.56,70.94 190.55,67.6 191.71,69.17 193.65,68.12 195.31,68.79 197.21,70.74 199.08,68.18 200.95,69.03 202.92,69.15 204.99,70.95 206.94,70.39 208.89,69.57 209.93,70.95 211.38,67.56 212.79,68.95 213.87,70.86 214.83,70.66 216.4,68.13 217.7,69.08 218.66,70.17 220.38,70.94 222.34,70.25 224,72" fill="#111" fill-opacity="0.55"/>
<polygon points="228,72 228,70.4 228.88,69.27 230.35,70.24 231.72,70.14 232.75,70.48 234.12,66.82 235.41,68.84 236.26,67.74 237.07,66.31 238.11,67.04 239.29,69.5 240.68,69.86 242.74,70.03 244.86,68.59 246,72" fill="#111" fill-opacity="0.6"/>
<polygon points="246,72 246,69.85 248.05,69.37 249.84,70.81 251.37,70.2 253.19,70.57 254.04,68.51 256.24,70.24 257.4,70.23 258.44,69.08 259.86,68.69 260.85,69.52 262.56,68.95 264.28,70.95 265,72" fill="#111" fill-opacity="0.5"/>
<polygon points="266,72 266,70.11 266.99,68.5 268.47,70.32 269.8,68.01 271.41,67.72 273.49,69.95 275.3,66.25 277.49,68.47 279.12,68.44 280.64,70.19 281.83,66.64 284.03,67.18 285.22,67.97 287.27,67.69 288.09,67.2 289.21,66.09 291.26,69.3 292.25,67.09 294.42,69.15 295,72" fill="#111" fill-opacity="0.6"/>
<polygon points="295.5,72 295.5,65 297.63,65.32 299.47,69.13 301.31,66.16 302.6,68.47 304.76,68.14 306.31,66.63 307.68,68.46 309.08,67.44 310.76,67.98 311.62,65.77 313.41,67.64 315.38,64.79 316.51,67.26 318.35,65.57 320.22,66.76 321.45,69.06 322.4,69.64 323.64,66.49 324.72,67.07 326.7,65.72 328.28,66.92 329.5,65.22 331.28,66.78 332.73,67.81 333.68,69 335.73,65.9 337.67,68.34 338.89,65.98 339.81,66.78 341.24,67.18 342.71,67.52 343.69,65.74 345.27,67.1 346.31,66.02 348.49,68.89 350.3,66.45 351.69,68.38 352,72" fill="#111" fill-opacity="0.6"/>
<rect x="174" y="74.1" width="4.2" height="6.9" fill="#16a046" stroke="none" stroke-width="0.5" />
<rect x="178.2" y="74.1" width="48.6" height="6.9" fill="#9dd685" stroke="none" stroke-width="0.5" />
<rect x="226.8" y="74.1" width="4.5" height="6.9" fill="#ee1d24" stroke="none" stroke-width="0.5" />
<rect x="231.3" y="74.1" width="34.3" height="6.9" fill="#1f72b8" stroke="none" stroke-width="0.5" />
<rect x="265.6" y="74.1" width="30.3" height="6.9" fill="#f39ea0" stroke="none" stroke-width="0.5" />
<rect x="295.9" y="74.1" width="57.1" height="6.9" fill="#8fcde6" stroke="none" stroke-width="0.5" />
<text x="366.3" y="81.2" font-size="8.3" text-anchor="start" fill="#111" font-weight="normal"  stroke="#111" stroke-width="0.22">IS1</text>
<rect x="384.6" y="74.6" width="12.4" height="7.2" fill="#8fcde6" stroke="#333" stroke-width="0.6" />
<text x="366.3" y="94.94" font-size="8.3" text-anchor="start" fill="#111" font-weight="normal"  stroke="#111" stroke-width="0.22">IS2</text>
<rect x="384.6" y="88.34" width="12.4" height="7.2" fill="#9dd685" stroke="#333" stroke-width="0.6" />
<text x="366.3" y="108.68" font-size="8.3" text-anchor="start" fill="#111" font-weight="normal"  stroke="#111" stroke-width="0.22">IS3</text>
<rect x="384.6" y="102.08" width="12.4" height="7.2" fill="#1f72b8" stroke="#333" stroke-width="0.6" />
<text x="366.3" y="122.42" font-size="8.3" text-anchor="start" fill="#111" font-weight="normal"  stroke="#111" stroke-width="0.22">IS4</text>
<rect x="384.6" y="115.82" width="12.4" height="7.2" fill="#f39ea0" stroke="#333" stroke-width="0.6" />
<text x="366.3" y="136.16" font-size="8.3" text-anchor="start" fill="#111" font-weight="normal"  stroke="#111" stroke-width="0.22">IS5</text>
<rect x="384.6" y="129.56" width="12.4" height="7.2" fill="#16a046" stroke="#333" stroke-width="0.6" />
<text x="366.3" y="149.9" font-size="8.3" text-anchor="start" fill="#111" font-weight="normal"  stroke="#111" stroke-width="0.22">IS6</text>
<rect x="384.6" y="143.3" width="12.4" height="7.2" fill="#ee1d24" stroke="#333" stroke-width="0.6" />
<text x="10.7" y="272.9" font-size="12" text-anchor="start" fill="#000" font-weight="normal"  stroke="#000" stroke-width="0.22">D</text>
<rect x="35.3" y="269" width="141.3" height="76.3" fill="#fff" stroke="none" stroke-width="0.5" />
<line x1="41.7" y1="269" x2="41.7" y2="345.3" stroke="#ebebeb" stroke-width="0.8" />
<line x1="54.59" y1="269" x2="54.59" y2="345.3" stroke="#ebebeb" stroke-width="0.5" />
<line x1="67.48" y1="269" x2="67.48" y2="345.3" stroke="#ebebeb" stroke-width="0.8" />
<line x1="80.37" y1="269" x2="80.37" y2="345.3" stroke="#ebebeb" stroke-width="0.5" />
<line x1="93.26" y1="269" x2="93.26" y2="345.3" stroke="#ebebeb" stroke-width="0.8" />
<line x1="106.15" y1="269" x2="106.15" y2="345.3" stroke="#ebebeb" stroke-width="0.5" />
<line x1="119.04" y1="269" x2="119.04" y2="345.3" stroke="#ebebeb" stroke-width="0.8" />
<line x1="131.93" y1="269" x2="131.93" y2="345.3" stroke="#ebebeb" stroke-width="0.5" />
<line x1="144.82" y1="269" x2="144.82" y2="345.3" stroke="#ebebeb" stroke-width="0.8" />
<line x1="157.71" y1="269" x2="157.71" y2="345.3" stroke="#ebebeb" stroke-width="0.5" />
<line x1="170.6" y1="269" x2="170.6" y2="345.3" stroke="#ebebeb" stroke-width="0.8" />
<line x1="35.3" y1="342.3" x2="176.6" y2="342.3" stroke="#ebebeb" stroke-width="0.8" />
<line x1="35.3" y1="333.62" x2="176.6" y2="333.62" stroke="#ebebeb" stroke-width="0.5" />
<line x1="35.3" y1="324.95" x2="176.6" y2="324.95" stroke="#ebebeb" stroke-width="0.8" />
<line x1="35.3" y1="316.28" x2="176.6" y2="316.28" stroke="#ebebeb" stroke-width="0.5" />
<line x1="35.3" y1="307.6" x2="176.6" y2="307.6" stroke="#ebebeb" stroke-width="0.8" />
<line x1="35.3" y1="298.93" x2="176.6" y2="298.93" stroke="#ebebeb" stroke-width="0.5" />
<line x1="35.3" y1="290.25" x2="176.6" y2="290.25" stroke="#ebebeb" stroke-width="0.8" />
<line x1="35.3" y1="281.57" x2="176.6" y2="281.57" stroke="#ebebeb" stroke-width="0.5" />
<line x1="35.3" y1="272.9" x2="176.6" y2="272.9" stroke="#ebebeb" stroke-width="0.8" />
<line x1="36.3" y1="307" x2="128.6" y2="307" stroke="#222" stroke-width="0.6" stroke-dasharray="1.2,1.2"/>
<line x1="97.6" y1="307" x2="97.6" y2="345.3" stroke="#222" stroke-width="0.6" stroke-dasharray="1.2,1.2"/>
<line x1="128.4" y1="307" x2="128.4" y2="345.3" stroke="#222" stroke-width="0.6" stroke-dasharray="1.2,1.2"/>
<polyline points="42.5,272.6 67,272.6 67,281.4 99.1,281.4 99.1,294 125.5,294" fill="none" stroke="#f564e3" stroke-width="1.3" stroke-linejoin="round" stroke-linejoin="miter"/>
<polyline points="42.5,272.6 64.1,272.6 64.1,281.6 115.6,281.6 115.6,301.2 132.5,301.2" fill="none" stroke="#619cff" stroke-width="1.3" stroke-linejoin="round" stroke-linejoin="miter"/>
<polyline points="42.5,272.6 42.77,272.6 42.77,272.64 45.34,272.64 45.34,273.05 46.04,273.05 46.04,273.16 48.28,273.16 48.28,273.52 52.17,273.52 52.17,274.14 52.93,274.14 52.93,274.26 55.43,274.26 55.43,274.87 56.27,274.87 56.27,275.18 60.54,275.18 60.54,276.71 61.89,276.71 61.89,277.2 61.93,277.2 61.93,277.22 62.21,277.22 62.21,277.32 69.97,277.32 69.97,280.42 73.27,280.42 73.27,281.78 73.48,281.78 73.48,281.87 80.34,281.87 80.34,285.03 82.5,285.03 82.5,286.04 84.05,286.04 84.05,286.69 84.67,286.69 84.67,286.92 85.29,286.92 85.29,287.14 88.59,287.14 88.59,288.32 91.38,288.32 91.38,289.31 93.93,289.31 93.93,290.2 95.52,290.2 95.52,290.71 100.1,290.71 100.1,292.11 104.18,292.11 104.18,293.3 108.68,293.3 108.68,294.62 108.78,294.62 108.78,294.64 109.96,294.64 109.96,294.99 110.76,294.99 110.76,295.44 115.57,295.44 115.57,298.24 119.98,298.24 119.98,300.8 121.99,300.8 121.99,301.97 125.8,301.97 125.8,304.18 126,304.18 126,304.3 171.7,304.3" fill="none" stroke="#b79f00" stroke-width="1.3" stroke-linejoin="round" stroke-linejoin="miter"/>
<polyline points="42.5,272.6 44.45,272.6 44.45,272.96 46.5,272.96 46.5,273.34 52.45,273.34 52.45,274.44 54.08,274.44 54.08,274.74 57.7,274.74 57.7,276.23 58.19,276.23 58.19,276.44 61.62,276.44 61.62,277.93 63.82,277.93 63.82,278.88 68.13,278.88 68.13,280.45 68.28,280.45 68.28,280.51 68.85,280.51 68.85,280.72 71.02,280.72 71.02,281.5 89.22,281.5 89.22,289.04 90.58,289.04 90.58,289.53 91.14,289.53 91.14,289.73 92.09,289.73 92.09,290.07 93.02,290.07 93.02,290.4 96.24,290.4 96.24,291.44 99.03,291.44 99.03,292.4 100.12,292.4 100.12,292.81 100.92,292.81 100.92,293.12 106.35,293.12 106.35,295.19 106.94,295.19 106.94,295.42 112.61,295.42 112.61,297.59 115.21,297.59 115.21,298.62 115.89,298.62 115.89,298.99 118.72,298.99 118.72,300.54 119.4,300.54 119.4,300.92 119.88,300.92 119.88,301.19 121.43,301.19 121.43,302.04 121.55,302.04 121.55,302.1 121.66,302.1 121.66,302.16 121.8,302.16 121.8,302.24 124.89,302.24 124.89,303.94 125,303.94 125,304 127,304 127,307.8 139.3,307.8 139.3,313.5 153.4,313.5" fill="none" stroke="#f8766d" stroke-width="1.3" stroke-linejoin="round" stroke-linejoin="miter"/>
<polyline points="42.5,272.6 43.86,272.6 43.86,272.94 45.67,272.94 45.67,273.4 47.1,273.4 47.1,273.76 47.22,273.76 47.22,273.79 49.67,273.79 49.67,274.41 53.06,274.41 53.06,275.26 54.66,275.26 54.66,275.73 62.24,275.73 62.24,279.48 62.45,279.48 62.45,279.59 65.67,279.59 65.67,281.03 65.81,281.03 65.81,281.09 66.95,281.09 66.95,281.55 67.53,281.55 67.53,281.78 70.69,281.78 70.69,283.05 71.65,283.05 71.65,283.44 74.9,283.44 74.9,284.86 75.06,284.86 75.06,284.94 76.65,284.94 76.65,285.74 78.69,285.74 78.69,286.77 81.55,286.77 81.55,288.22 82.88,288.22 82.88,288.89 85.57,288.89 85.57,290 91.58,290 91.58,292.33 93.37,292.33 93.37,293.02 94.67,293.02 94.67,293.33 95.89,293.33 95.89,293.62 97.5,293.62 97.5,294 98.5,294 98.5,299.5 112,299.5 112,301 121.8,301 121.8,307 160.6,307" fill="none" stroke="#00ba38" stroke-width="1.3" stroke-linejoin="round" stroke-linejoin="miter"/>
<polyline points="42.5,272.6 47.05,272.6 47.05,274.86 47.41,274.86 47.41,275.03 48.68,275.03 48.68,275.67 50.59,275.67 50.59,276.61 50.94,276.61 50.94,276.78 52.27,276.78 52.27,277.44 52.88,277.44 52.88,277.75 58.8,277.75 58.8,281.58 58.84,281.58 58.84,281.61 59.42,281.61 59.42,282.02 59.99,282.02 59.99,282.42 62.13,282.42 62.13,283.92 66.11,283.92 66.11,287.11 66.27,287.11 66.27,287.24 70.15,287.24 70.15,290.73 71.5,290.73 71.5,291.94 78.39,291.94 78.39,297.69 80.3,297.69 80.3,299.23 80.61,299.23 80.61,299.48 81.26,299.48 81.26,300 82.04,300 82.04,300.63 83.04,300.63 83.04,301.43 83.19,301.43 83.19,301.55 83.48,301.55 83.48,301.78 87.43,301.78 87.43,303.36 87.61,303.36 87.61,303.44 88.82,303.44 88.82,303.92 90.31,303.92 90.31,304.51 90.37,304.51 90.37,304.53 91.97,304.53 91.97,305.17 93.49,305.17 93.49,305.76 93.76,305.76 93.76,305.84 95.35,305.84 95.35,306.31 95.91,306.31 95.91,306.47 96,306.47 96,306.5 98,306.5 98,309.4 105.3,309.4 105.3,311.5 111.5,311.5 111.5,315.6 133.1,315.6 133.1,321.4 161.4,321.4" fill="none" stroke="#00bfc4" stroke-width="1.3" stroke-linejoin="round" stroke-linejoin="miter"/>
<line x1="140" y1="303.1" x2="140" y2="304.9" stroke="#b79f00" stroke-width="0.8" />
<line x1="150" y1="303.1" x2="150" y2="304.9" stroke="#b79f00" stroke-width="0.8" />
<line x1="156" y1="303.1" x2="156" y2="304.9" stroke="#b79f00" stroke-width="0.8" />
<line x1="163" y1="303.1" x2="163" y2="304.9" stroke="#b79f00" stroke-width="0.8" />
<line x1="130" y1="305.8" x2="130" y2="307.6" stroke="#00ba38" stroke-width="0.8" />
<line x1="140" y1="305.8" x2="140" y2="307.6" stroke="#00ba38" stroke-width="0.8" />
<line x1="155" y1="305.8" x2="155" y2="307.6" stroke="#00ba38" stroke-width="0.8" />
<line x1="142" y1="312.3" x2="142" y2="314.1" stroke="#f8766d" stroke-width="0.8" />
<line x1="147" y1="312.3" x2="147" y2="314.1" stroke="#f8766d" stroke-width="0.8" />
<line x1="150" y1="312.3" x2="150" y2="314.1" stroke="#f8766d" stroke-width="0.8" />
<line x1="140" y1="320.2" x2="140" y2="322" stroke="#00bfc4" stroke-width="0.8" />
<line x1="147" y1="320.2" x2="147" y2="322" stroke="#00bfc4" stroke-width="0.8" />
<line x1="158" y1="320.2" x2="158" y2="322" stroke="#00bfc4" stroke-width="0.8" />
<line x1="120" y1="300" x2="120" y2="301.8" stroke="#619cff" stroke-width="0.8" />
<line x1="128" y1="300" x2="128" y2="301.8" stroke="#619cff" stroke-width="0.8" />
<line x1="80" y1="280.4" x2="80" y2="282.2" stroke="#619cff" stroke-width="0.8" />
<line x1="90" y1="280.4" x2="90" y2="282.2" stroke="#619cff" stroke-width="0.8" />
<line x1="100" y1="280.4" x2="100" y2="282.2" stroke="#619cff" stroke-width="0.8" />
<rect x="35.3" y="269" width="141.3" height="76.3" fill="none" stroke="#8a8a8a" stroke-width="0.9" />
<line x1="33.6" y1="272.9" x2="35.3" y2="272.9" stroke="#555" stroke-width="0.6" />
<text x="32.6" y="275.1" font-size="6.3" text-anchor="end" fill="#111" font-weight="bold" >1.00</text>
<line x1="33.6" y1="290.25" x2="35.3" y2="290.25" stroke="#555" stroke-width="0.6" />
<text x="32.6" y="292.45" font-size="6.3" text-anchor="end" fill="#111" font-weight="bold" >0.75</text>
<line x1="33.6" y1="307.6" x2="35.3" y2="307.6" stroke="#555" stroke-width="0.6" />
<text x="32.6" y="309.8" font-size="6.3" text-anchor="end" fill="#111" font-weight="bold" >0.50</text>
<line x1="33.6" y1="324.95" x2="35.3" y2="324.95" stroke="#555" stroke-width="0.6" />
<text x="32.6" y="327.15" font-size="6.3" text-anchor="end" fill="#111" font-weight="bold" >0.25</text>
<line x1="33.6" y1="342.3" x2="35.3" y2="342.3" stroke="#555" stroke-width="0.6" />
<text x="32.6" y="344.5" font-size="6.3" text-anchor="end" fill="#111" font-weight="bold" >0.00</text>
<line x1="41.7" y1="345.3" x2="41.7" y2="346.8" stroke="#555" stroke-width="0.6" />
<text x="41.7" y="351.9" font-size="6.5" text-anchor="middle" fill="#111" font-weight="bold" >0</text>
<line x1="67.48" y1="345.3" x2="67.48" y2="346.8" stroke="#555" stroke-width="0.6" />
<text x="67.48" y="351.9" font-size="6.5" text-anchor="middle" fill="#111" font-weight="bold" >2</text>
<line x1="93.26" y1="345.3" x2="93.26" y2="346.8" stroke="#555" stroke-width="0.6" />
<text x="93.26" y="351.9" font-size="6.5" text-anchor="middle" fill="#111" font-weight="bold" >4</text>
<line x1="119.04" y1="345.3" x2="119.04" y2="346.8" stroke="#555" stroke-width="0.6" />
<text x="119.04" y="351.9" font-size="6.5" text-anchor="middle" fill="#111" font-weight="bold" >6</text>
<line x1="144.82" y1="345.3" x2="144.82" y2="346.8" stroke="#555" stroke-width="0.6" />
<text x="144.82" y="351.9" font-size="6.5" text-anchor="middle" fill="#111" font-weight="bold" >8</text>
<line x1="170.6" y1="345.3" x2="170.6" y2="346.8" stroke="#555" stroke-width="0.6" />
<text x="170.6" y="351.9" font-size="6.5" text-anchor="middle" fill="#111" font-weight="bold" >10</text>
<text transform="translate(18.6,307) rotate(-90)" font-size="5.5" text-anchor="middle" fill="#111" font-weight="bold">Survival probability</text>
<text x="40.8" y="321.2" font-size="8.2" text-anchor="start" fill="#111" font-weight="normal"  stroke="#111" stroke-width="0.22">Log-rank</text>
<text x="40.8" y="332.2" font-size="8.2" text-anchor="start" fill="#111" font-weight="normal"  stroke="#111" stroke-width="0.22">p = 0.027</text>
<text x="182" y="275.6" font-size="5.8" text-anchor="start" fill="#111" font-weight="bold" >Group</text>
<line x1="182.8" y1="282.8" x2="191.2" y2="282.8" stroke="#f8766d" stroke-width="1.1" />
<line x1="187" y1="281.6" x2="187" y2="283.2" stroke="#f8766d" stroke-width="0.9" />
<text x="194.6" y="284.8" font-size="5.2" text-anchor="start" fill="#111" font-weight="bold" >IS1</text>
<line x1="182.8" y1="291.6" x2="191.2" y2="291.6" stroke="#b79f00" stroke-width="1.1" />
<line x1="187" y1="290.4" x2="187" y2="292" stroke="#b79f00" stroke-width="0.9" />
<text x="194.6" y="293.6" font-size="5.2" text-anchor="start" fill="#111" font-weight="bold" >IS2</text>
<line x1="182.8" y1="300.4" x2="191.2" y2="300.4" stroke="#00ba38" stroke-width="1.1" />
<line x1="187" y1="299.2" x2="187" y2="300.8" stroke="#00ba38" stroke-width="0.9" />
<text x="194.6" y="302.4" font-size="5.2" text-anchor="start" fill="#111" font-weight="bold" >IS3</text>
<line x1="182.8" y1="309.2" x2="191.2" y2="309.2" stroke="#00bfc4" stroke-width="1.1" />
<line x1="187" y1="308" x2="187" y2="309.6" stroke="#00bfc4" stroke-width="0.9" />
<text x="194.6" y="311.2" font-size="5.2" text-anchor="start" fill="#111" font-weight="bold" >IS4</text>
<line x1="182.8" y1="318" x2="191.2" y2="318" stroke="#619cff" stroke-width="1.1" />
<line x1="187" y1="316.8" x2="187" y2="318.4" stroke="#619cff" stroke-width="0.9" />
<text x="194.6" y="320" font-size="5.2" text-anchor="start" fill="#111" font-weight="bold" >IS5</text>
<line x1="182.8" y1="326.8" x2="191.2" y2="326.8" stroke="#f564e3" stroke-width="1.1" />
<line x1="187" y1="325.6" x2="187" y2="327.2" stroke="#f564e3" stroke-width="0.9" />
<text x="194.6" y="328.8" font-size="5.2" text-anchor="start" fill="#111" font-weight="bold" >IS6</text>
<text x="35.3" y="356.2" font-size="4.4" text-anchor="start" fill="#111" font-weight="normal" textLength="28.2" lengthAdjust="spacingAndGlyphs" text-rendering="optimizeSpeed">Number at risk</text>
<line x1="41.7" y1="358.4" x2="41.7" y2="391.2" stroke="#ebebeb" stroke-width="0.8" />
<line x1="54.59" y1="358.4" x2="54.59" y2="391.2" stroke="#ebebeb" stroke-width="0.5" />
<line x1="67.48" y1="358.4" x2="67.48" y2="391.2" stroke="#ebebeb" stroke-width="0.8" />
<line x1="80.37" y1="358.4" x2="80.37" y2="391.2" stroke="#ebebeb" stroke-width="0.5" />
<line x1="93.26" y1="358.4" x2="93.26" y2="391.2" stroke="#ebebeb" stroke-width="0.8" />
<line x1="106.15" y1="358.4" x2="106.15" y2="391.2" stroke="#ebebeb" stroke-width="0.5" />
<line x1="119.04" y1="358.4" x2="119.04" y2="391.2" stroke="#ebebeb" stroke-width="0.8" />
<line x1="131.93" y1="358.4" x2="131.93" y2="391.2" stroke="#ebebeb" stroke-width="0.5" />
<line x1="144.82" y1="358.4" x2="144.82" y2="391.2" stroke="#ebebeb" stroke-width="0.8" />
<line x1="157.71" y1="358.4" x2="157.71" y2="391.2" stroke="#ebebeb" stroke-width="0.5" />
<line x1="170.6" y1="358.4" x2="170.6" y2="391.2" stroke="#ebebeb" stroke-width="0.8" />
<rect x="35.3" y="358.4" width="141.3" height="32.8" fill="none" stroke="#8a8a8a" stroke-width="0.9" />
<line x1="33.8" y1="361.5" x2="35.3" y2="361.5" stroke="#555" stroke-width="0.5" />
<text x="33.4" y="363.7" font-size="6.2" text-anchor="end" fill="#f8766d" font-weight="bold" >IS1</text>
<text x="41.7" y="363.2" font-size="4.9" text-anchor="middle" fill="#000" font-weight="normal" text-rendering="optimizeSpeed">159</text>
<text x="67.48" y="363.2" font-size="4.9" text-anchor="middle" fill="#000" font-weight="normal" text-rendering="optimizeSpeed">104</text>
<text x="93.26" y="363.2" font-size="4.9" text-anchor="middle" fill="#000" font-weight="normal" text-rendering="optimizeSpeed">63</text>
<text x="119.04" y="363.2" font-size="4.9" text-anchor="middle" fill="#000" font-weight="normal" text-rendering="optimizeSpeed">16</text>
<text x="144.82" y="363.2" font-size="4.9" text-anchor="middle" fill="#000" font-weight="normal" text-rendering="optimizeSpeed">3</text>
<text x="170.6" y="363.2" font-size="4.9" text-anchor="middle" fill="#000" font-weight="normal" text-rendering="optimizeSpeed">0</text>
<line x1="33.8" y1="366.8" x2="35.3" y2="366.8" stroke="#555" stroke-width="0.5" />
<text x="33.4" y="369" font-size="6.2" text-anchor="end" fill="#b79f00" font-weight="bold" >IS2</text>
<text x="41.7" y="368.5" font-size="4.9" text-anchor="middle" fill="#000" font-weight="normal" text-rendering="optimizeSpeed">126</text>
<text x="67.48" y="368.5" font-size="4.9" text-anchor="middle" fill="#000" font-weight="normal" text-rendering="optimizeSpeed">87</text>
<text x="93.26" y="368.5" font-size="4.9" text-anchor="middle" fill="#000" font-weight="normal" text-rendering="optimizeSpeed">52</text>
<text x="119.04" y="368.5" font-size="4.9" text-anchor="middle" fill="#000" font-weight="normal" text-rendering="optimizeSpeed">23</text>
<text x="144.82" y="368.5" font-size="4.9" text-anchor="middle" fill="#000" font-weight="normal" text-rendering="optimizeSpeed">7</text>
<text x="170.6" y="368.5" font-size="4.9" text-anchor="middle" fill="#000" font-weight="normal" text-rendering="optimizeSpeed">1</text>
<line x1="33.8" y1="372.1" x2="35.3" y2="372.1" stroke="#555" stroke-width="0.5" />
<text x="33.4" y="374.3" font-size="6.2" text-anchor="end" fill="#00ba38" font-weight="bold" >IS3</text>
<text x="41.7" y="373.8" font-size="4.9" text-anchor="middle" fill="#000" font-weight="normal" text-rendering="optimizeSpeed">96</text>
<text x="67.48" y="373.8" font-size="4.9" text-anchor="middle" fill="#000" font-weight="normal" text-rendering="optimizeSpeed">64</text>
<text x="93.26" y="373.8" font-size="4.9" text-anchor="middle" fill="#000" font-weight="normal" text-rendering="optimizeSpeed">41</text>
<text x="119.04" y="373.8" font-size="4.9" text-anchor="middle" fill="#000" font-weight="normal" text-rendering="optimizeSpeed">11</text>
<text x="144.82" y="373.8" font-size="4.9" text-anchor="middle" fill="#000" font-weight="normal" text-rendering="optimizeSpeed">1</text>
<text x="170.6" y="373.8" font-size="4.9" text-anchor="middle" fill="#000" font-weight="normal" text-rendering="optimizeSpeed">0</text>
<line x1="33.8" y1="377.4" x2="35.3" y2="377.4" stroke="#555" stroke-width="0.5" />
<text x="33.4" y="379.6" font-size="6.2" text-anchor="end" fill="#00bfc4" font-weight="bold" >IS4</text>
<text x="41.7" y="379.1" font-size="4.9" text-anchor="middle" fill="#000" font-weight="normal" text-rendering="optimizeSpeed">87</text>
<text x="67.48" y="379.1" font-size="4.9" text-anchor="middle" fill="#000" font-weight="normal" text-rendering="optimizeSpeed">54</text>
<text x="93.26" y="379.1" font-size="4.9" text-anchor="middle" fill="#000" font-weight="normal" text-rendering="optimizeSpeed">25</text>
<text x="119.04" y="379.1" font-size="4.9" text-anchor="middle" fill="#000" font-weight="normal" text-rendering="optimizeSpeed">9</text>
<text x="144.82" y="379.1" font-size="4.9" text-anchor="middle" fill="#000" font-weight="normal" text-rendering="optimizeSpeed">2</text>
<text x="170.6" y="379.1" font-size="4.9" text-anchor="middle" fill="#000" font-weight="normal" text-rendering="optimizeSpeed">0</text>
<line x1="33.8" y1="382.7" x2="35.3" y2="382.7" stroke="#555" stroke-width="0.5" />
<text x="33.4" y="384.9" font-size="6.2" text-anchor="end" fill="#619cff" font-weight="bold" >IS5</text>
<text x="41.7" y="384.4" font-size="4.9" text-anchor="middle" fill="#000" font-weight="normal" text-rendering="optimizeSpeed">11</text>
<text x="67.48" y="384.4" font-size="4.9" text-anchor="middle" fill="#000" font-weight="normal" text-rendering="optimizeSpeed">7</text>
<text x="93.26" y="384.4" font-size="4.9" text-anchor="middle" fill="#000" font-weight="normal" text-rendering="optimizeSpeed">4</text>
<text x="119.04" y="384.4" font-size="4.9" text-anchor="middle" fill="#000" font-weight="normal" text-rendering="optimizeSpeed">2</text>
<text x="144.82" y="384.4" font-size="4.9" text-anchor="middle" fill="#000" font-weight="normal" text-rendering="optimizeSpeed">0</text>
<text x="170.6" y="384.4" font-size="4.9" text-anchor="middle" fill="#000" font-weight="normal" text-rendering="optimizeSpeed">0</text>
<line x1="33.8" y1="388" x2="35.3" y2="388" stroke="#555" stroke-width="0.5" />
<text x="33.4" y="390.2" font-size="6.2" text-anchor="end" fill="#f564e3" font-weight="bold" >IS6</text>
<text x="41.7" y="389.7" font-size="4.9" text-anchor="middle" fill="#000" font-weight="normal" text-rendering="optimizeSpeed">12</text>
<text x="67.48" y="389.7" font-size="4.9" text-anchor="middle" fill="#000" font-weight="normal" text-rendering="optimizeSpeed">6</text>
<text x="93.26" y="389.7" font-size="4.9" text-anchor="middle" fill="#000" font-weight="normal" text-rendering="optimizeSpeed">5</text>
<text x="119.04" y="389.7" font-size="4.9" text-anchor="middle" fill="#000" font-weight="normal" text-rendering="optimizeSpeed">1</text>
<text x="144.82" y="389.7" font-size="4.9" text-anchor="middle" fill="#000" font-weight="normal" text-rendering="optimizeSpeed">0</text>
<text x="170.6" y="389.7" font-size="4.9" text-anchor="middle" fill="#000" font-weight="normal" text-rendering="optimizeSpeed">0</text>
<line x1="41.7" y1="391.2" x2="41.7" y2="392.7" stroke="#555" stroke-width="0.6" />
<text x="41.7" y="397.6" font-size="6.5" text-anchor="middle" fill="#111" font-weight="bold" >0</text>
<line x1="67.48" y1="391.2" x2="67.48" y2="392.7" stroke="#555" stroke-width="0.6" />
<text x="67.48" y="397.6" font-size="6.5" text-anchor="middle" fill="#111" font-weight="bold" >2</text>
<line x1="93.26" y1="391.2" x2="93.26" y2="392.7" stroke="#555" stroke-width="0.6" />
<text x="93.26" y="397.6" font-size="6.5" text-anchor="middle" fill="#111" font-weight="bold" >4</text>
<line x1="119.04" y1="391.2" x2="119.04" y2="392.7" stroke="#555" stroke-width="0.6" />
<text x="119.04" y="397.6" font-size="6.5" text-anchor="middle" fill="#111" font-weight="bold" >6</text>
<line x1="144.82" y1="391.2" x2="144.82" y2="392.7" stroke="#555" stroke-width="0.6" />
<text x="144.82" y="397.6" font-size="6.5" text-anchor="middle" fill="#111" font-weight="bold" >8</text>
<line x1="170.6" y1="391.2" x2="170.6" y2="392.7" stroke="#555" stroke-width="0.6" />
<text x="170.6" y="397.6" font-size="6.5" text-anchor="middle" fill="#111" font-weight="bold" >10</text>
<text transform="translate(20.6,375.2) rotate(-90)" font-size="6.3" text-anchor="middle" fill="#111" font-weight="bold">Group</text>
<text x="105.7" y="403.5" font-size="6.8" text-anchor="middle" fill="#111" font-weight="bold" >Time(years)</text>
<text x="208.6" y="273.3" font-size="12" text-anchor="start" fill="#000" font-weight="normal"  stroke="#000" stroke-width="0.22">E</text>
<rect x="236.6" y="284.2" width="142.2" height="105.3" fill="#ebebeb" stroke="none" stroke-width="0.5" />
<line x1="236.6" y1="383.8" x2="378.8" y2="383.8" stroke="#fff" stroke-width="0.9" />
<line x1="236.6" y1="371.88" x2="378.8" y2="371.88" stroke="#fff" stroke-width="0.5" />
<line x1="236.6" y1="359.95" x2="378.8" y2="359.95" stroke="#fff" stroke-width="0.9" />
<line x1="236.6" y1="348.02" x2="378.8" y2="348.02" stroke="#fff" stroke-width="0.5" />
<line x1="236.6" y1="336.1" x2="378.8" y2="336.1" stroke="#fff" stroke-width="0.9" />
<line x1="236.6" y1="324.18" x2="378.8" y2="324.18" stroke="#fff" stroke-width="0.5" />
<line x1="236.6" y1="312.25" x2="378.8" y2="312.25" stroke="#fff" stroke-width="0.9" />
<line x1="236.6" y1="300.32" x2="378.8" y2="300.32" stroke="#fff" stroke-width="0.5" />
<line x1="236.6" y1="288.4" x2="378.8" y2="288.4" stroke="#fff" stroke-width="0.9" />
<line x1="250.36" y1="284.2" x2="250.36" y2="389.5" stroke="#fff" stroke-width="0.9" />
<line x1="273.3" y1="284.2" x2="273.3" y2="389.5" stroke="#fff" stroke-width="0.9" />
<line x1="296.23" y1="284.2" x2="296.23" y2="389.5" stroke="#fff" stroke-width="0.9" />
<line x1="319.17" y1="284.2" x2="319.17" y2="389.5" stroke="#fff" stroke-width="0.9" />
<line x1="342.1" y1="284.2" x2="342.1" y2="389.5" stroke="#fff" stroke-width="0.9" />
<line x1="365.04" y1="284.2" x2="365.04" y2="389.5" stroke="#fff" stroke-width="0.9" />
<rect x="244.63" y="288.4" width="11.47" height="95.4" fill="none" stroke="#fff" stroke-width="2" stroke-opacity="0.7"/>
<rect x="244.63" y="372.35" width="11.47" height="11.45" fill="#b67fd0" stroke="#111" stroke-width="0.8" />
<rect x="244.63" y="337.05" width="11.47" height="35.3" fill="#00bcc4" stroke="#111" stroke-width="0.8" />
<rect x="244.63" y="290.31" width="11.47" height="46.75" fill="#5fae2a" stroke="#111" stroke-width="0.8" />
<rect x="244.63" y="288.4" width="11.47" height="1.91" fill="#f8766d" stroke="#111" stroke-width="0.8" />
<rect x="267.56" y="288.4" width="11.47" height="95.4" fill="none" stroke="#fff" stroke-width="2" stroke-opacity="0.7"/>
<rect x="267.56" y="377.12" width="11.47" height="6.68" fill="#b67fd0" stroke="#111" stroke-width="0.8" />
<rect x="267.56" y="336.1" width="11.47" height="41.02" fill="#00bcc4" stroke="#111" stroke-width="0.8" />
<rect x="267.56" y="291.26" width="11.47" height="44.84" fill="#5fae2a" stroke="#111" stroke-width="0.8" />
<rect x="267.56" y="288.4" width="11.47" height="2.86" fill="#f8766d" stroke="#111" stroke-width="0.8" />
<rect x="290.5" y="288.4" width="11.47" height="95.4" fill="none" stroke="#fff" stroke-width="2" stroke-opacity="0.7"/>
<rect x="290.5" y="365.67" width="11.47" height="18.13" fill="#b67fd0" stroke="#111" stroke-width="0.8" />
<rect x="290.5" y="324.65" width="11.47" height="41.02" fill="#00bcc4" stroke="#111" stroke-width="0.8" />
<rect x="290.5" y="289.35" width="11.47" height="35.3" fill="#5fae2a" stroke="#111" stroke-width="0.8" />
<rect x="290.5" y="288.4" width="11.47" height="0.95" fill="#f8766d" stroke="#111" stroke-width="0.8" />
<rect x="313.43" y="288.4" width="11.47" height="95.4" fill="none" stroke="#fff" stroke-width="2" stroke-opacity="0.7"/>
<rect x="313.43" y="364.72" width="11.47" height="19.08" fill="#b67fd0" stroke="#111" stroke-width="0.8" />
<rect x="313.43" y="319.88" width="11.47" height="44.84" fill="#00bcc4" stroke="#111" stroke-width="0.8" />
<rect x="313.43" y="289.35" width="11.47" height="30.53" fill="#5fae2a" stroke="#111" stroke-width="0.8" />
<rect x="313.43" y="288.4" width="11.47" height="0.95" fill="#f8766d" stroke="#111" stroke-width="0.8" />
<rect x="336.37" y="288.4" width="11.47" height="95.4" fill="none" stroke="#fff" stroke-width="2" stroke-opacity="0.7"/>
<rect x="336.37" y="342.78" width="11.47" height="41.02" fill="#00bcc4" stroke="#111" stroke-width="0.8" />
<rect x="336.37" y="288.4" width="11.47" height="54.38" fill="#5fae2a" stroke="#111" stroke-width="0.8" />
<rect x="359.3" y="288.4" width="11.47" height="95.4" fill="none" stroke="#fff" stroke-width="2" stroke-opacity="0.7"/>
<rect x="359.3" y="296.99" width="11.47" height="86.81" fill="#5fae2a" stroke="#111" stroke-width="0.8" />
<rect x="359.3" y="288.4" width="11.47" height="8.59" fill="#f8766d" stroke="#111" stroke-width="0.8" />
<line x1="256.1" y1="372.35" x2="267.56" y2="377.12" stroke="#111" stroke-width="0.85" />
<line x1="256.1" y1="337.05" x2="267.56" y2="336.1" stroke="#111" stroke-width="0.85" />
<line x1="256.1" y1="290.31" x2="267.56" y2="291.26" stroke="#111" stroke-width="0.85" />
<line x1="256.1" y1="288.4" x2="267.56" y2="288.4" stroke="#111" stroke-width="0.85" />
<line x1="279.03" y1="377.12" x2="290.5" y2="365.67" stroke="#111" stroke-width="0.85" />
<line x1="279.03" y1="336.1" x2="290.5" y2="324.65" stroke="#111" stroke-width="0.85" />
<line x1="279.03" y1="291.26" x2="290.5" y2="289.35" stroke="#111" stroke-width="0.85" />
<line x1="279.03" y1="288.4" x2="290.5" y2="288.4" stroke="#111" stroke-width="0.85" />
<line x1="301.97" y1="365.67" x2="313.43" y2="364.72" stroke="#111" stroke-width="0.85" />
<line x1="301.97" y1="324.65" x2="313.43" y2="319.88" stroke="#111" stroke-width="0.85" />
<line x1="301.97" y1="289.35" x2="313.43" y2="289.35" stroke="#111" stroke-width="0.85" />
<line x1="301.97" y1="288.4" x2="313.43" y2="288.4" stroke="#111" stroke-width="0.85" />
<line x1="324.9" y1="364.72" x2="336.37" y2="383.8" stroke="#111" stroke-width="0.85" />
<line x1="324.9" y1="319.88" x2="336.37" y2="342.78" stroke="#111" stroke-width="0.85" />
<line x1="324.9" y1="289.35" x2="336.37" y2="288.4" stroke="#111" stroke-width="0.85" />
<line x1="324.9" y1="288.4" x2="336.37" y2="288.4" stroke="#111" stroke-width="0.85" />
<line x1="347.84" y1="383.8" x2="359.3" y2="383.8" stroke="#111" stroke-width="0.85" />
<line x1="347.84" y1="342.78" x2="359.3" y2="383.8" stroke="#111" stroke-width="0.85" />
<line x1="347.84" y1="288.4" x2="359.3" y2="296.99" stroke="#111" stroke-width="0.85" />
<line x1="347.84" y1="288.4" x2="359.3" y2="288.4" stroke="#111" stroke-width="0.85" />
<line x1="235.2" y1="288.4" x2="236.6" y2="288.4" stroke="#333" stroke-width="0.5" />
<text x="234.6" y="290.3" font-size="5.4" text-anchor="end" fill="#1a1a1a" font-weight="normal"  stroke="#1a1a1a" stroke-width="0.12">1.00</text>
<line x1="235.2" y1="312.25" x2="236.6" y2="312.25" stroke="#333" stroke-width="0.5" />
<text x="234.6" y="314.15" font-size="5.4" text-anchor="end" fill="#1a1a1a" font-weight="normal"  stroke="#1a1a1a" stroke-width="0.12">0.75</text>
<line x1="235.2" y1="336.1" x2="236.6" y2="336.1" stroke="#333" stroke-width="0.5" />
<text x="234.6" y="338" font-size="5.4" text-anchor="end" fill="#1a1a1a" font-weight="normal"  stroke="#1a1a1a" stroke-width="0.12">0.50</text>
<line x1="235.2" y1="359.95" x2="236.6" y2="359.95" stroke="#333" stroke-width="0.5" />
<text x="234.6" y="361.85" font-size="5.4" text-anchor="end" fill="#1a1a1a" font-weight="normal"  stroke="#1a1a1a" stroke-width="0.12">0.25</text>
<line x1="235.2" y1="383.8" x2="236.6" y2="383.8" stroke="#333" stroke-width="0.5" />
<text x="234.6" y="385.7" font-size="5.4" text-anchor="end" fill="#1a1a1a" font-weight="normal"  stroke="#1a1a1a" stroke-width="0.12">0.00</text>
<line x1="250.36" y1="389.5" x2="250.36" y2="390.7" stroke="#333" stroke-width="0.5" />
<text x="250.36" y="394.6" font-size="5.6" text-anchor="middle" fill="#1a1a1a" font-weight="normal"  stroke="#1a1a1a" stroke-width="0.12">IS1</text>
<line x1="273.3" y1="389.5" x2="273.3" y2="390.7" stroke="#333" stroke-width="0.5" />
<text x="273.3" y="394.6" font-size="5.6" text-anchor="middle" fill="#1a1a1a" font-weight="normal"  stroke="#1a1a1a" stroke-width="0.12">IS2</text>
<line x1="296.23" y1="389.5" x2="296.23" y2="390.7" stroke="#333" stroke-width="0.5" />
<text x="296.23" y="394.6" font-size="5.6" text-anchor="middle" fill="#1a1a1a" font-weight="normal"  stroke="#1a1a1a" stroke-width="0.12">IS3</text>
<line x1="319.17" y1="389.5" x2="319.17" y2="390.7" stroke="#333" stroke-width="0.5" />
<text x="319.17" y="394.6" font-size="5.6" text-anchor="middle" fill="#1a1a1a" font-weight="normal"  stroke="#1a1a1a" stroke-width="0.12">IS4</text>
<line x1="342.1" y1="389.5" x2="342.1" y2="390.7" stroke="#333" stroke-width="0.5" />
<text x="342.1" y="394.6" font-size="5.6" text-anchor="middle" fill="#1a1a1a" font-weight="normal"  stroke="#1a1a1a" stroke-width="0.12">IS5</text>
<line x1="365.04" y1="389.5" x2="365.04" y2="390.7" stroke="#333" stroke-width="0.5" />
<text x="365.04" y="394.6" font-size="5.6" text-anchor="middle" fill="#1a1a1a" font-weight="normal"  stroke="#1a1a1a" stroke-width="0.12">IS6</text>
<text x="382" y="327.6" font-size="5.4" text-anchor="start" fill="#111" font-weight="normal"  stroke="#111" stroke-width="0.12">Group</text>
<rect x="382.6" y="329" width="4.2" height="4.2" fill="#f8766d" stroke="#111" stroke-width="0.55" />
<text x="388.7" y="333" font-size="5.2" text-anchor="start" fill="#111" font-weight="normal"  stroke="#111" stroke-width="0.12">G1</text>
<rect x="382.6" y="333.6" width="4.2" height="4.2" fill="#5fae2a" stroke="#111" stroke-width="0.55" />
<text x="388.7" y="337.6" font-size="5.2" text-anchor="start" fill="#111" font-weight="normal"  stroke="#111" stroke-width="0.12">G2</text>
<rect x="382.6" y="338.2" width="4.2" height="4.2" fill="#00bcc4" stroke="#111" stroke-width="0.55" />
<text x="388.7" y="342.2" font-size="5.2" text-anchor="start" fill="#111" font-weight="normal"  stroke="#111" stroke-width="0.12">G3</text>
<rect x="382.6" y="342.8" width="4.2" height="4.2" fill="#b67fd0" stroke="#111" stroke-width="0.55" />
<text x="388.7" y="346.8" font-size="5.2" text-anchor="start" fill="#111" font-weight="normal"  stroke="#111" stroke-width="0.12">G4</text>
<text x="4.3" y="411.7" font-size="12" text-anchor="start" fill="#000" font-weight="normal"  stroke="#000" stroke-width="0.22">F</text>
<rect x="28.6" y="422.1" width="145.9" height="114.1" fill="#ebebeb" stroke="none" stroke-width="0.5" />
<line x1="28.6" y1="530.5" x2="174.5" y2="530.5" stroke="#fff" stroke-width="0.9" />
<line x1="28.6" y1="517.56" x2="174.5" y2="517.56" stroke="#fff" stroke-width="0.5" />
<line x1="28.6" y1="504.62" x2="174.5" y2="504.62" stroke="#fff" stroke-width="0.9" />
<line x1="28.6" y1="491.69" x2="174.5" y2="491.69" stroke="#fff" stroke-width="0.5" />
<line x1="28.6" y1="478.75" x2="174.5" y2="478.75" stroke="#fff" stroke-width="0.9" />
<line x1="28.6" y1="465.81" x2="174.5" y2="465.81" stroke="#fff" stroke-width="0.5" />
<line x1="28.6" y1="452.88" x2="174.5" y2="452.88" stroke="#fff" stroke-width="0.9" />
<line x1="28.6" y1="439.94" x2="174.5" y2="439.94" stroke="#fff" stroke-width="0.5" />
<line x1="28.6" y1="427" x2="174.5" y2="427" stroke="#fff" stroke-width="0.9" />
<line x1="42.72" y1="422.1" x2="42.72" y2="536.2" stroke="#fff" stroke-width="0.9" />
<line x1="66.25" y1="422.1" x2="66.25" y2="536.2" stroke="#fff" stroke-width="0.9" />
<line x1="89.78" y1="422.1" x2="89.78" y2="536.2" stroke="#fff" stroke-width="0.9" />
<line x1="113.32" y1="422.1" x2="113.32" y2="536.2" stroke="#fff" stroke-width="0.9" />
<line x1="136.85" y1="422.1" x2="136.85" y2="536.2" stroke="#fff" stroke-width="0.9" />
<line x1="160.38" y1="422.1" x2="160.38" y2="536.2" stroke="#fff" stroke-width="0.9" />
<rect x="36.84" y="427" width="11.77" height="103.5" fill="none" stroke="#fff" stroke-width="2" stroke-opacity="0.7"/>
<rect x="36.84" y="512.9" width="11.77" height="17.6" fill="#b67fd0" stroke="#111" stroke-width="0.8" />
<rect x="36.84" y="492.2" width="11.77" height="20.7" fill="#00bcc4" stroke="#111" stroke-width="0.8" />
<rect x="36.84" y="484.96" width="11.77" height="7.25" fill="#5fae2a" stroke="#111" stroke-width="0.8" />
<rect x="36.84" y="427" width="11.77" height="57.96" fill="#f8766d" stroke="#111" stroke-width="0.8" />
<rect x="60.37" y="427" width="11.77" height="103.5" fill="none" stroke="#fff" stroke-width="2" stroke-opacity="0.7"/>
<rect x="60.37" y="514.98" width="11.77" height="15.52" fill="#b67fd0" stroke="#111" stroke-width="0.8" />
<rect x="60.37" y="491.17" width="11.77" height="23.81" fill="#00bcc4" stroke="#111" stroke-width="0.8" />
<rect x="60.37" y="473.57" width="11.77" height="17.6" fill="#5fae2a" stroke="#111" stroke-width="0.8" />
<rect x="60.37" y="427" width="11.77" height="46.57" fill="#f8766d" stroke="#111" stroke-width="0.8" />
<rect x="83.9" y="427" width="11.77" height="103.5" fill="none" stroke="#fff" stroke-width="2" stroke-opacity="0.7"/>
<rect x="83.9" y="517.04" width="11.77" height="13.46" fill="#b67fd0" stroke="#111" stroke-width="0.8" />
<rect x="83.9" y="488.06" width="11.77" height="28.98" fill="#00bcc4" stroke="#111" stroke-width="0.8" />
<rect x="83.9" y="479.79" width="11.77" height="8.28" fill="#5fae2a" stroke="#111" stroke-width="0.8" />
<rect x="83.9" y="427" width="11.77" height="52.79" fill="#f8766d" stroke="#111" stroke-width="0.8" />
<rect x="107.43" y="427" width="11.77" height="103.5" fill="none" stroke="#fff" stroke-width="2" stroke-opacity="0.7"/>
<rect x="107.43" y="507.73" width="11.77" height="22.77" fill="#b67fd0" stroke="#111" stroke-width="0.8" />
<rect x="107.43" y="478.75" width="11.77" height="28.98" fill="#00bcc4" stroke="#111" stroke-width="0.8" />
<rect x="107.43" y="470.47" width="11.77" height="8.28" fill="#5fae2a" stroke="#111" stroke-width="0.8" />
<rect x="107.43" y="427" width="11.77" height="43.47" fill="#f8766d" stroke="#111" stroke-width="0.8" />
<rect x="130.97" y="427" width="11.77" height="103.5" fill="none" stroke="#fff" stroke-width="2" stroke-opacity="0.7"/>
<rect x="130.97" y="486" width="11.77" height="44.5" fill="#5fae2a" stroke="#111" stroke-width="0.8" />
<rect x="130.97" y="427" width="11.77" height="59" fill="#f8766d" stroke="#111" stroke-width="0.8" />
<rect x="154.5" y="427" width="11.77" height="103.5" fill="none" stroke="#fff" stroke-width="2" stroke-opacity="0.7"/>
<rect x="154.5" y="427" width="11.77" height="103.5" fill="#f8766d" stroke="#111" stroke-width="0.8" />
<line x1="48.6" y1="512.9" x2="60.37" y2="514.98" stroke="#111" stroke-width="0.85" />
<line x1="48.6" y1="492.2" x2="60.37" y2="491.17" stroke="#111" stroke-width="0.85" />
<line x1="48.6" y1="484.96" x2="60.37" y2="473.57" stroke="#111" stroke-width="0.85" />
<line x1="48.6" y1="427" x2="60.37" y2="427" stroke="#111" stroke-width="0.85" />
<line x1="72.13" y1="514.98" x2="83.9" y2="517.04" stroke="#111" stroke-width="0.85" />
<line x1="72.13" y1="491.17" x2="83.9" y2="488.06" stroke="#111" stroke-width="0.85" />
<line x1="72.13" y1="473.57" x2="83.9" y2="479.79" stroke="#111" stroke-width="0.85" />
<line x1="72.13" y1="427" x2="83.9" y2="427" stroke="#111" stroke-width="0.85" />
<line x1="95.67" y1="517.04" x2="107.43" y2="507.73" stroke="#111" stroke-width="0.85" />
<line x1="95.67" y1="488.06" x2="107.43" y2="478.75" stroke="#111" stroke-width="0.85" />
<line x1="95.67" y1="479.79" x2="107.43" y2="470.47" stroke="#111" stroke-width="0.85" />
<line x1="95.67" y1="427" x2="107.43" y2="427" stroke="#111" stroke-width="0.85" />
<line x1="119.2" y1="507.73" x2="130.97" y2="530.5" stroke="#111" stroke-width="0.85" />
<line x1="119.2" y1="478.75" x2="130.97" y2="530.5" stroke="#111" stroke-width="0.85" />
<line x1="119.2" y1="470.47" x2="130.97" y2="486" stroke="#111" stroke-width="0.85" />
<line x1="119.2" y1="427" x2="130.97" y2="427" stroke="#111" stroke-width="0.85" />
<line x1="142.73" y1="530.5" x2="154.5" y2="530.5" stroke="#111" stroke-width="0.85" />
<line x1="142.73" y1="530.5" x2="154.5" y2="530.5" stroke="#111" stroke-width="0.85" />
<line x1="142.73" y1="486" x2="154.5" y2="530.5" stroke="#111" stroke-width="0.85" />
<line x1="142.73" y1="427" x2="154.5" y2="427" stroke="#111" stroke-width="0.85" />
<line x1="27.2" y1="427" x2="28.6" y2="427" stroke="#333" stroke-width="0.5" />
<text x="26.6" y="428.9" font-size="5.4" text-anchor="end" fill="#1a1a1a" font-weight="normal"  stroke="#1a1a1a" stroke-width="0.12">1.00</text>
<line x1="27.2" y1="452.88" x2="28.6" y2="452.88" stroke="#333" stroke-width="0.5" />
<text x="26.6" y="454.77" font-size="5.4" text-anchor="end" fill="#1a1a1a" font-weight="normal"  stroke="#1a1a1a" stroke-width="0.12">0.75</text>
<line x1="27.2" y1="478.75" x2="28.6" y2="478.75" stroke="#333" stroke-width="0.5" />
<text x="26.6" y="480.65" font-size="5.4" text-anchor="end" fill="#1a1a1a" font-weight="normal"  stroke="#1a1a1a" stroke-width="0.12">0.50</text>
<line x1="27.2" y1="504.62" x2="28.6" y2="504.62" stroke="#333" stroke-width="0.5" />
<text x="26.6" y="506.52" font-size="5.4" text-anchor="end" fill="#1a1a1a" font-weight="normal"  stroke="#1a1a1a" stroke-width="0.12">0.25</text>
<line x1="27.2" y1="530.5" x2="28.6" y2="530.5" stroke="#333" stroke-width="0.5" />
<text x="26.6" y="532.4" font-size="5.4" text-anchor="end" fill="#1a1a1a" font-weight="normal"  stroke="#1a1a1a" stroke-width="0.12">0.00</text>
<line x1="42.72" y1="536.2" x2="42.72" y2="537.4" stroke="#333" stroke-width="0.5" />
<text x="42.72" y="542.3" font-size="5.6" text-anchor="middle" fill="#1a1a1a" font-weight="normal"  stroke="#1a1a1a" stroke-width="0.12">IS1</text>
<line x1="66.25" y1="536.2" x2="66.25" y2="537.4" stroke="#333" stroke-width="0.5" />
<text x="66.25" y="542.3" font-size="5.6" text-anchor="middle" fill="#1a1a1a" font-weight="normal"  stroke="#1a1a1a" stroke-width="0.12">IS2</text>
<line x1="89.78" y1="536.2" x2="89.78" y2="537.4" stroke="#333" stroke-width="0.5" />
<text x="89.78" y="542.3" font-size="5.6" text-anchor="middle" fill="#1a1a1a" font-weight="normal"  stroke="#1a1a1a" stroke-width="0.12">IS3</text>
<line x1="113.32" y1="536.2" x2="113.32" y2="537.4" stroke="#333" stroke-width="0.5" />
<text x="113.32" y="542.3" font-size="5.6" text-anchor="middle" fill="#1a1a1a" font-weight="normal"  stroke="#1a1a1a" stroke-width="0.12">IS4</text>
<line x1="136.85" y1="536.2" x2="136.85" y2="537.4" stroke="#333" stroke-width="0.5" />
<text x="136.85" y="542.3" font-size="5.6" text-anchor="middle" fill="#1a1a1a" font-weight="normal"  stroke="#1a1a1a" stroke-width="0.12">IS5</text>
<line x1="160.38" y1="536.2" x2="160.38" y2="537.4" stroke="#333" stroke-width="0.5" />
<text x="160.38" y="542.3" font-size="5.6" text-anchor="middle" fill="#1a1a1a" font-weight="normal"  stroke="#1a1a1a" stroke-width="0.12">IS6</text>
<text x="179.8" y="468.8" font-size="6.2" text-anchor="start" fill="#111" font-weight="normal"  stroke="#111" stroke-width="0.12">Group</text>
<rect x="180.4" y="470.35" width="5.1" height="5.1" fill="#f8766d" stroke="#111" stroke-width="0.55" />
<text x="186.7" y="474.8" font-size="5.9" text-anchor="start" fill="#111" font-weight="normal"  stroke="#111" stroke-width="0.12">Stage I</text>
<rect x="180.4" y="476.75" width="5.1" height="5.1" fill="#5fae2a" stroke="#111" stroke-width="0.55" />
<text x="186.7" y="481.2" font-size="5.9" text-anchor="start" fill="#111" font-weight="normal"  stroke="#111" stroke-width="0.12">Stage II</text>
<rect x="180.4" y="483.15" width="5.1" height="5.1" fill="#00bcc4" stroke="#111" stroke-width="0.55" />
<text x="186.7" y="487.6" font-size="5.9" text-anchor="start" fill="#111" font-weight="normal"  stroke="#111" stroke-width="0.12">Stage III</text>
<rect x="180.4" y="489.55" width="5.1" height="5.1" fill="#b67fd0" stroke="#111" stroke-width="0.55" />
<text x="186.7" y="494" font-size="5.9" text-anchor="start" fill="#111" font-weight="normal"  stroke="#111" stroke-width="0.12">Stage IV</text>
<text x="201.7" y="418.9" font-size="12" text-anchor="start" fill="#000" font-weight="normal"  stroke="#000" stroke-width="0.22">G</text>
<rect x="232.4" y="423.3" width="154.7" height="112.3" fill="#ebebeb" stroke="none" stroke-width="0.5" />
<line x1="232.4" y1="530.5" x2="387.1" y2="530.5" stroke="#fff" stroke-width="0.9" />
<line x1="232.4" y1="517.65" x2="387.1" y2="517.65" stroke="#fff" stroke-width="0.5" />
<line x1="232.4" y1="504.8" x2="387.1" y2="504.8" stroke="#fff" stroke-width="0.9" />
<line x1="232.4" y1="491.95" x2="387.1" y2="491.95" stroke="#fff" stroke-width="0.5" />
<line x1="232.4" y1="479.1" x2="387.1" y2="479.1" stroke="#fff" stroke-width="0.9" />
<line x1="232.4" y1="466.25" x2="387.1" y2="466.25" stroke="#fff" stroke-width="0.5" />
<line x1="232.4" y1="453.4" x2="387.1" y2="453.4" stroke="#fff" stroke-width="0.9" />
<line x1="232.4" y1="440.55" x2="387.1" y2="440.55" stroke="#fff" stroke-width="0.5" />
<line x1="232.4" y1="427.7" x2="387.1" y2="427.7" stroke="#fff" stroke-width="0.9" />
<line x1="247.37" y1="423.3" x2="247.37" y2="535.6" stroke="#fff" stroke-width="0.9" />
<line x1="272.32" y1="423.3" x2="272.32" y2="535.6" stroke="#fff" stroke-width="0.9" />
<line x1="297.27" y1="423.3" x2="297.27" y2="535.6" stroke="#fff" stroke-width="0.9" />
<line x1="322.23" y1="423.3" x2="322.23" y2="535.6" stroke="#fff" stroke-width="0.9" />
<line x1="347.18" y1="423.3" x2="347.18" y2="535.6" stroke="#fff" stroke-width="0.9" />
<line x1="372.13" y1="423.3" x2="372.13" y2="535.6" stroke="#fff" stroke-width="0.9" />
<rect x="241.13" y="427.7" width="12.48" height="102.8" fill="none" stroke="#fff" stroke-width="2" stroke-opacity="0.7"/>
<rect x="241.13" y="528.44" width="12.48" height="2.06" fill="#b67fd0" stroke="#111" stroke-width="0.8" />
<rect x="241.13" y="494.52" width="12.48" height="33.92" fill="#00bcc4" stroke="#111" stroke-width="0.8" />
<rect x="241.13" y="486.3" width="12.48" height="8.22" fill="#5fae2a" stroke="#111" stroke-width="0.8" />
<rect x="241.13" y="427.7" width="12.48" height="58.6" fill="#f8766d" stroke="#111" stroke-width="0.8" />
<rect x="266.08" y="427.7" width="12.48" height="102.8" fill="none" stroke="#fff" stroke-width="2" stroke-opacity="0.7"/>
<rect x="266.08" y="530.09" width="12.48" height="0.41" fill="#b67fd0" stroke="#111" stroke-width="0.8" />
<rect x="266.08" y="496.58" width="12.48" height="33.51" fill="#00bcc4" stroke="#111" stroke-width="0.8" />
<rect x="266.08" y="476.02" width="12.48" height="20.56" fill="#5fae2a" stroke="#111" stroke-width="0.8" />
<rect x="266.08" y="427.7" width="12.48" height="48.32" fill="#f8766d" stroke="#111" stroke-width="0.8" />
<rect x="291.04" y="427.7" width="12.48" height="102.8" fill="none" stroke="#fff" stroke-width="2" stroke-opacity="0.7"/>
<rect x="291.04" y="528.44" width="12.48" height="2.06" fill="#b67fd0" stroke="#111" stroke-width="0.8" />
<rect x="291.04" y="490.41" width="12.48" height="38.04" fill="#00bcc4" stroke="#111" stroke-width="0.8" />
<rect x="291.04" y="481.16" width="12.48" height="9.25" fill="#5fae2a" stroke="#111" stroke-width="0.8" />
<rect x="291.04" y="427.7" width="12.48" height="53.46" fill="#f8766d" stroke="#111" stroke-width="0.8" />
<rect x="315.99" y="427.7" width="12.48" height="102.8" fill="none" stroke="#fff" stroke-width="2" stroke-opacity="0.7"/>
<rect x="315.99" y="529.99" width="12.48" height="0.51" fill="#b67fd0" stroke="#111" stroke-width="0.8" />
<rect x="315.99" y="488.35" width="12.48" height="41.63" fill="#00bcc4" stroke="#111" stroke-width="0.8" />
<rect x="315.99" y="471.9" width="12.48" height="16.45" fill="#5fae2a" stroke="#111" stroke-width="0.8" />
<rect x="315.99" y="427.7" width="12.48" height="44.2" fill="#f8766d" stroke="#111" stroke-width="0.8" />
<rect x="340.94" y="427.7" width="12.48" height="102.8" fill="none" stroke="#fff" stroke-width="2" stroke-opacity="0.7"/>
<rect x="340.94" y="516.11" width="12.48" height="14.39" fill="#00bcc4" stroke="#111" stroke-width="0.8" />
<rect x="340.94" y="486.3" width="12.48" height="29.81" fill="#5fae2a" stroke="#111" stroke-width="0.8" />
<rect x="340.94" y="427.7" width="12.48" height="58.6" fill="#f8766d" stroke="#111" stroke-width="0.8" />
<rect x="365.89" y="427.7" width="12.48" height="102.8" fill="none" stroke="#fff" stroke-width="2" stroke-opacity="0.7"/>
<rect x="365.89" y="427.7" width="12.48" height="102.8" fill="#f8766d" stroke="#111" stroke-width="0.8" />
<line x1="253.61" y1="528.44" x2="266.08" y2="530.09" stroke="#111" stroke-width="0.85" />
<line x1="253.61" y1="494.52" x2="266.08" y2="496.58" stroke="#111" stroke-width="0.85" />
<line x1="253.61" y1="486.3" x2="266.08" y2="476.02" stroke="#111" stroke-width="0.85" />
<line x1="253.61" y1="427.7" x2="266.08" y2="427.7" stroke="#111" stroke-width="0.85" />
<line x1="278.56" y1="530.09" x2="291.04" y2="528.44" stroke="#111" stroke-width="0.85" />
<line x1="278.56" y1="496.58" x2="291.04" y2="490.41" stroke="#111" stroke-width="0.85" />
<line x1="278.56" y1="476.02" x2="291.04" y2="481.16" stroke="#111" stroke-width="0.85" />
<line x1="278.56" y1="427.7" x2="291.04" y2="427.7" stroke="#111" stroke-width="0.85" />
<line x1="303.51" y1="528.44" x2="315.99" y2="529.99" stroke="#111" stroke-width="0.85" />
<line x1="303.51" y1="490.41" x2="315.99" y2="488.35" stroke="#111" stroke-width="0.85" />
<line x1="303.51" y1="481.16" x2="315.99" y2="471.9" stroke="#111" stroke-width="0.85" />
<line x1="303.51" y1="427.7" x2="315.99" y2="427.7" stroke="#111" stroke-width="0.85" />
<line x1="328.46" y1="529.99" x2="340.94" y2="530.5" stroke="#111" stroke-width="0.85" />
<line x1="328.46" y1="488.35" x2="340.94" y2="516.11" stroke="#111" stroke-width="0.85" />
<line x1="328.46" y1="471.9" x2="340.94" y2="486.3" stroke="#111" stroke-width="0.85" />
<line x1="328.46" y1="427.7" x2="340.94" y2="427.7" stroke="#111" stroke-width="0.85" />
<line x1="353.42" y1="530.5" x2="365.89" y2="530.5" stroke="#111" stroke-width="0.85" />
<line x1="353.42" y1="516.11" x2="365.89" y2="530.5" stroke="#111" stroke-width="0.85" />
<line x1="353.42" y1="486.3" x2="365.89" y2="530.5" stroke="#111" stroke-width="0.85" />
<line x1="353.42" y1="427.7" x2="365.89" y2="427.7" stroke="#111" stroke-width="0.85" />
<line x1="230.5" y1="427.7" x2="232.4" y2="427.7" stroke="#333" stroke-width="0.5" />
<text x="229.9" y="429.6" font-size="5.4" text-anchor="end" fill="#1a1a1a" font-weight="normal"  stroke="#1a1a1a" stroke-width="0.12">1.00</text>
<line x1="230.5" y1="453.4" x2="232.4" y2="453.4" stroke="#333" stroke-width="0.5" />
<text x="229.9" y="455.3" font-size="5.4" text-anchor="end" fill="#1a1a1a" font-weight="normal"  stroke="#1a1a1a" stroke-width="0.12">0.75</text>
<line x1="230.5" y1="479.1" x2="232.4" y2="479.1" stroke="#333" stroke-width="0.5" />
<text x="229.9" y="481" font-size="5.4" text-anchor="end" fill="#1a1a1a" font-weight="normal"  stroke="#1a1a1a" stroke-width="0.12">0.50</text>
<line x1="230.5" y1="504.8" x2="232.4" y2="504.8" stroke="#333" stroke-width="0.5" />
<text x="229.9" y="506.7" font-size="5.4" text-anchor="end" fill="#1a1a1a" font-weight="normal"  stroke="#1a1a1a" stroke-width="0.12">0.25</text>
<line x1="230.5" y1="530.5" x2="232.4" y2="530.5" stroke="#333" stroke-width="0.5" />
<text x="229.9" y="532.4" font-size="5.4" text-anchor="end" fill="#1a1a1a" font-weight="normal"  stroke="#1a1a1a" stroke-width="0.12">0.00</text>
<line x1="247.37" y1="535.6" x2="247.37" y2="536.8" stroke="#333" stroke-width="0.5" />
<text x="247.37" y="542.6" font-size="5.6" text-anchor="middle" fill="#1a1a1a" font-weight="normal"  stroke="#1a1a1a" stroke-width="0.12">IS1</text>
<line x1="272.32" y1="535.6" x2="272.32" y2="536.8" stroke="#333" stroke-width="0.5" />
<text x="272.32" y="542.6" font-size="5.6" text-anchor="middle" fill="#1a1a1a" font-weight="normal"  stroke="#1a1a1a" stroke-width="0.12">IS2</text>
<line x1="297.27" y1="535.6" x2="297.27" y2="536.8" stroke="#333" stroke-width="0.5" />
<text x="297.27" y="542.6" font-size="5.6" text-anchor="middle" fill="#1a1a1a" font-weight="normal"  stroke="#1a1a1a" stroke-width="0.12">IS3</text>
<line x1="322.23" y1="535.6" x2="322.23" y2="536.8" stroke="#333" stroke-width="0.5" />
<text x="322.23" y="542.6" font-size="5.6" text-anchor="middle" fill="#1a1a1a" font-weight="normal"  stroke="#1a1a1a" stroke-width="0.12">IS4</text>
<line x1="347.18" y1="535.6" x2="347.18" y2="536.8" stroke="#333" stroke-width="0.5" />
<text x="347.18" y="542.6" font-size="5.6" text-anchor="middle" fill="#1a1a1a" font-weight="normal"  stroke="#1a1a1a" stroke-width="0.12">IS5</text>
<line x1="372.13" y1="535.6" x2="372.13" y2="536.8" stroke="#333" stroke-width="0.5" />
<text x="372.13" y="542.6" font-size="5.6" text-anchor="middle" fill="#1a1a1a" font-weight="normal"  stroke="#1a1a1a" stroke-width="0.12">IS6</text>
<text x="390" y="469.1" font-size="6.2" text-anchor="start" fill="#111" font-weight="normal"  stroke="#111" stroke-width="0.12">Group</text>
<rect x="392.4" y="470.65" width="5.1" height="5.1" fill="#f8766d" stroke="#111" stroke-width="0.55" />
<text x="398.7" y="475.1" font-size="5.9" text-anchor="start" fill="#111" font-weight="normal"  stroke="#111" stroke-width="0.12">T1</text>
<rect x="392.4" y="477.05" width="5.1" height="5.1" fill="#5fae2a" stroke="#111" stroke-width="0.55" />
<text x="398.7" y="481.5" font-size="5.9" text-anchor="start" fill="#111" font-weight="normal"  stroke="#111" stroke-width="0.12">T2</text>
<rect x="392.4" y="483.45" width="5.1" height="5.1" fill="#00bcc4" stroke="#111" stroke-width="0.55" />
<text x="398.7" y="487.9" font-size="5.9" text-anchor="start" fill="#111" font-weight="normal"  stroke="#111" stroke-width="0.12">T3</text>
<rect x="392.4" y="489.85" width="5.1" height="5.1" fill="#b67fd0" stroke="#111" stroke-width="0.55" />
<text x="398.7" y="494.3" font-size="5.9" text-anchor="start" fill="#111" font-weight="normal"  stroke="#111" stroke-width="0.12">T4</text>
</svg></body></html>
